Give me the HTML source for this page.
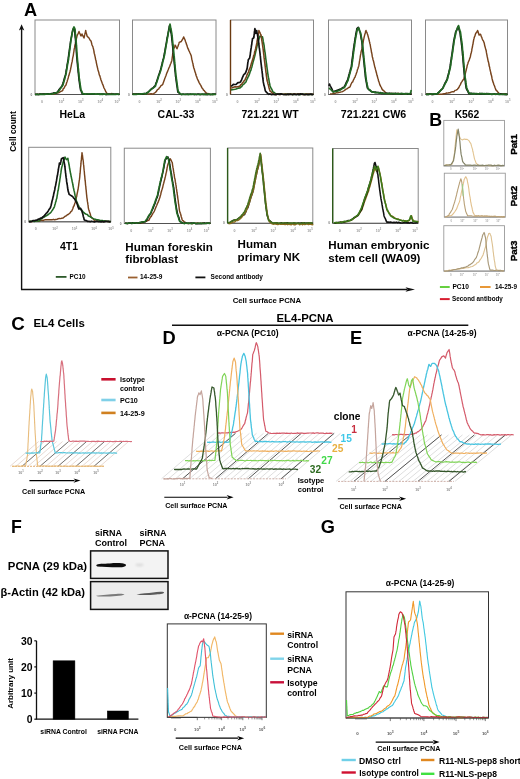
<!DOCTYPE html>
<html><head><meta charset="utf-8"><title>Figure</title>
<style>html,body{margin:0;padding:0;background:#fff;} svg{display:block;}</style></head>
<body><svg width="520" height="779" viewBox="0 0 520 779" font-family='"Liberation Sans", Arial, Helvetica, sans-serif' font-weight="bold">
<rect width="520" height="779" fill="#fff"/>
<text x="23.9" y="15.6" font-size="18.2">A</text>
<line x1="21.6" y1="28" x2="21.6" y2="289.5" stroke="#111" stroke-width="1.4"/>
<path d="M21.6 24.2 L18.9 30.5 L21.6 29 L24.3 30.5 Z" fill="#111"/>
<line x1="21" y1="289.5" x2="407" y2="289.5" stroke="#111" stroke-width="1.4"/>
<path d="M415 289.5 L405.5 287.2 L407.5 289.5 L405.5 291.8 Z" fill="#111"/>
<text x="15.6" y="131.5" font-size="8.4" text-anchor="middle" transform="rotate(-90 15.6 131.5)">Cell count</text>
<text x="266.9" y="303" font-size="7.8" text-anchor="middle">Cell surface PCNA</text>
<rect x="35" y="20" width="84.5" height="74.5" stroke="#8a8a8a" stroke-width="1" fill="none"/>
<line x1="35" y1="94.5" x2="119.5" y2="94.5" stroke="#444" stroke-width="0.8"/>
<text x="30.5" y="95.5" font-size="3.2" fill="#777">0</text>
<text x="42" y="102.7" font-size="3.6" fill="#999" text-anchor="middle">0</text>
<text x="61.4" y="102.7" font-size="3.6" fill="#999" text-anchor="middle">10<tspan font-size="2.7" dy="-1.4">2</tspan></text>
<text x="80.7" y="102.7" font-size="3.6" fill="#999" text-anchor="middle">10<tspan font-size="2.7" dy="-1.4">3</tspan></text>
<text x="100.3" y="102.7" font-size="3.6" fill="#999" text-anchor="middle">10<tspan font-size="2.7" dy="-1.4">4</tspan></text>
<text x="117.3" y="102.7" font-size="3.6" fill="#999" text-anchor="middle">10<tspan font-size="2.7" dy="-1.4">5</tspan></text>
<path d="M35 94.5 L36.2 94.3 L37.5 94.2 L38.8 94.5 L40 94 L41.2 94.4 L42.5 94.2 L43.8 93.9 L45 94.3 L46.2 93.8 L47.5 94.1 L48.8 93.8 L50 93.8 L51.2 94 L52.5 94.3 L53.8 93.7 L55 94 L56.2 93.3 L57.3 93.1 L58.5 92.9 L59.7 92.1 L60.8 91.4 L62 91 L62.7 90.4 L63.3 88.6 L64 88.3 L64.7 86.8 L65.3 85.7 L66 85 L66.4 83.5 L66.7 82.5 L67.1 81.7 L67.5 80 L67.8 79.2 L68.2 78 L68.5 76.6 L68.9 75.6 L69.3 74 L69.6 72.8 L70 72 L70.2 70.6 L70.5 69.7 L70.7 68.3 L71 67.1 L71.2 66.1 L71.4 64.8 L71.7 63.4 L71.9 62.6 L72.2 61.4 L72.4 60 L72.6 58.5 L72.8 57.6 L73.1 56.3 L73.3 55.3 L73.5 53.9 L73.7 52.3 L73.9 51.6 L74.1 49.7 L74.3 48.7 L74.6 47.7 L74.8 46 L75 45 L75.3 43.7 L75.6 42.1 L75.9 41.3 L76.1 40.1 L76.4 38.6 L76.7 37.6 L77 36 L77.5 34.7 L78 33.9 L78.5 32.7 L79 31.5 L79.5 32.7 L80 33.7 L80.5 35.1 L81 36 L82 34 L82.7 35.7 L83.3 36.6 L84 38 L84.3 36.9 L84.6 35.1 L84.8 34.4 L85.1 33.1 L85.4 32.1 L85.7 30.5 L86 32.1 L86.3 33.1 L86.7 34.5 L87 36 L88 37.1 L89 38 L90 40 L91 41 L91.3 42 L91.7 43.6 L92 45 L93 47 L93.2 48 L93.5 49.2 L93.8 50.4 L94 52 L94.3 53.5 L94.6 54.4 L94.9 55.8 L95.2 57.2 L95.5 59 L95.8 60 L96.1 60.9 L96.3 62.5 L96.6 63.8 L96.9 65.3 L97.2 66.5 L97.5 67.8 L97.7 68.6 L98 70 L98.4 71.2 L98.8 72.4 L99.1 74.1 L99.5 75.4 L99.9 76 L100.2 77.2 L100.6 78.5 L101 80 L101.4 80.9 L101.9 82.3 L102.3 83.5 L102.7 84.4 L103.1 85.3 L103.6 86.8 L104 88 L104.6 89 L105.2 90.3 L105.8 91.7 L106.4 92.6 L107 93.5 L108.2 93.6 L109.5 93.8 L110.8 93.9 L112 93.5 L113.2 94.2 L114.5 94.2 L115.8 94.4 L117 94.4 L118.2 94.1 L119.5 94.3" stroke="#77431c" stroke-width="1.44" fill="none" stroke-linejoin="round"/>
<path d="M35 94.5 L36.2 94.4 L37.5 94.2 L38.8 94.5 L40 94.1 L41.2 94 L42.5 94.1 L43.8 94 L45 94.1 L46.2 93.9 L47.5 93.8 L48.8 93.8 L50 94 L51.4 93.5 L52.8 93.3 L54.2 92.8 L55.6 93 L57 92.5 L57.8 91.5 L58.7 90.1 L59.5 89.1 L60.3 88.1 L61.2 87 L62 86 L62.4 84.6 L62.8 83.8 L63.2 82.6 L63.6 81.1 L63.9 79.9 L64.3 78.4 L64.7 77.2 L65.1 76.1 L65.5 75 L65.7 73.6 L65.9 72.7 L66.1 71 L66.3 69.7 L66.5 69 L66.8 67.5 L67 66 L67.2 65 L67.4 63.5 L67.6 62.5 L67.8 61.5 L68 60 L68.2 59 L68.3 57.7 L68.5 56.3 L68.7 55.1 L68.8 53.8 L69 53 L69.2 51.6 L69.3 50.6 L69.5 49.1 L69.7 47.8 L69.8 47 L70 45.9 L70.2 44.6 L70.3 43.4 L70.5 42 L70.7 41 L70.9 39.7 L71.2 38.2 L71.4 37.1 L71.6 35.8 L71.8 34.4 L72.1 33.2 L72.3 32.1 L72.5 31 L73 29.6 L73.5 28.5 L74.5 30 L74.6 31.4 L74.8 32.8 L74.9 33.7 L75 35.3 L75.1 36.5 L75.2 37.8 L75.4 38.7 L75.5 40 L75.6 41.1 L75.7 42.3 L75.8 43.6 L75.9 44.8 L76 46.3 L76.1 47.7 L76.2 49 L76.2 50 L76.3 51.3 L76.4 52.7 L76.5 53.5 L76.6 55.1 L76.7 56.5 L76.8 57.7 L76.9 58.9 L77 60 L77.1 61.2 L77.2 62.3 L77.4 63.9 L77.5 64.9 L77.6 66.4 L77.8 67.8 L77.9 68.7 L78 69.9 L78.1 71.5 L78.2 72.6 L78.4 73.6 L78.5 74.8 L78.6 76 L78.8 77.7 L78.9 78.9 L79 80 L79.2 81 L79.4 82.7 L79.6 84 L79.8 85.1 L79.9 86.2 L80.1 87.5 L80.3 88.5 L80.5 90 L81.2 91 L81.8 92.9 L82.5 94 L83.7 94.1 L85 94 L86.2 94.3 L87.4 94 L88.7 94.3 L89.9 94.3 L91.1 93.9 L92.4 93.9 L93.6 94 L94.8 93.9 L96.1 94.2 L97.3 94 L98.5 94.1 L99.8 93.9 L101 94.4 L102.2 94.1 L103.5 94.1 L104.7 94.2 L105.9 94.4 L107.2 94.2 L108.4 94.5 L109.6 94.2 L110.9 94.2 L112.1 94.3 L113.3 94 L114.6 94.2 L115.8 94.1 L117 94 L118.3 94.5 L119.5 94.3" stroke="#111" stroke-width="1.56" fill="none" stroke-linejoin="round"/>
<path d="M35 94.5 L36.2 94.3 L37.4 94.4 L38.6 94.5 L39.9 94.4 L41.1 94.2 L42.3 94.3 L43.5 94.3 L44.7 94.4 L45.9 93.9 L47.1 94.2 L48.4 94 L49.6 93.9 L50.8 94.2 L52 94 L53.2 93.6 L54.4 93.2 L55.6 93 L56.8 92.6 L58 92 L58.7 91 L59.4 90.1 L60.1 89 L60.9 88 L61.6 87.1 L62.3 86 L63 85 L63.3 83.8 L63.7 82.5 L64 81.6 L64.3 80.2 L64.7 79.1 L65 77.9 L65.3 76.3 L65.7 75.3 L66 74 L66.2 73 L66.4 71.7 L66.7 70 L66.9 68.7 L67.1 67.6 L67.3 66.1 L67.5 64.9 L67.7 63.6 L68 62.6 L68.2 61.4 L68.4 60 L68.6 59 L68.7 57.3 L68.9 56.4 L69.1 55.1 L69.2 53.5 L69.4 52.7 L69.5 51.5 L69.7 49.8 L69.9 49 L70 47.4 L70.2 46.2 L70.3 45.3 L70.5 43.9 L70.7 42.3 L70.8 41.2 L71 40 L71.2 38.8 L71.4 37.5 L71.7 36.2 L71.9 35 L72.1 34 L72.3 32.4 L72.6 31.5 L72.8 30.2 L73 29 L74 26.9 L75 29 L75.1 29.9 L75.2 31.3 L75.3 32.7 L75.4 33.9 L75.6 34.8 L75.7 36.6 L75.8 37.7 L75.9 39.1 L76 40 L76.1 41 L76.2 42.4 L76.3 43.5 L76.4 45.2 L76.5 46.1 L76.6 47.3 L76.7 48.7 L76.8 50.2 L76.8 51.4 L76.9 52.4 L77 53.5 L77.1 55.3 L77.2 56.3 L77.3 57.6 L77.4 58.5 L77.5 60 L77.6 61 L77.8 62.6 L77.9 63.7 L78 64.7 L78.1 66.5 L78.2 67.6 L78.4 68.9 L78.5 69.8 L78.6 71.5 L78.8 72.2 L78.9 74 L79 75 L79.1 76.2 L79.2 77.5 L79.4 79 L79.5 80 L79.7 81.1 L79.9 82.3 L80.1 83.8 L80.2 84.8 L80.4 86 L80.6 87.3 L80.8 88.5 L81 90 L81.7 91.2 L82.3 92.6 L83 94 L84.2 93.9 L85.4 94.2 L86.7 93.9 L87.9 94 L89.1 93.9 L90.3 94 L91.5 93.8 L92.7 93.9 L94 93.8 L95.2 94.2 L96.4 94.1 L97.6 93.9 L98.8 94.1 L100 94.4 L101.2 93.9 L102.5 94.4 L103.7 94.1 L104.9 94.2 L106.1 94.4 L107.3 94.1 L108.5 94.2 L109.8 94.3 L111 94.5 L112.2 94.1 L113.4 94.4 L114.6 94.4 L115.8 94.4 L117.1 94.2 L118.3 94.2 L119.5 94.3" stroke="#226a24" stroke-width="1.68" fill="none" stroke-linejoin="round"/>
<text x="72.3" y="117.5" font-size="10.5" text-anchor="middle">HeLa</text>
<rect x="132.5" y="20" width="83.5" height="74.5" stroke="#8a8a8a" stroke-width="1" fill="none"/>
<line x1="132.5" y1="94.5" x2="216" y2="94.5" stroke="#444" stroke-width="0.8"/>
<text x="128" y="95.5" font-size="3.2" fill="#777">0</text>
<text x="139.5" y="102.7" font-size="3.6" fill="#999" text-anchor="middle">0</text>
<text x="158.9" y="102.7" font-size="3.6" fill="#999" text-anchor="middle">10<tspan font-size="2.7" dy="-1.4">2</tspan></text>
<text x="178.2" y="102.7" font-size="3.6" fill="#999" text-anchor="middle">10<tspan font-size="2.7" dy="-1.4">3</tspan></text>
<text x="197.8" y="102.7" font-size="3.6" fill="#999" text-anchor="middle">10<tspan font-size="2.7" dy="-1.4">4</tspan></text>
<text x="214.8" y="102.7" font-size="3.6" fill="#999" text-anchor="middle">10<tspan font-size="2.7" dy="-1.4">5</tspan></text>
<path d="M132.5 94.3 L133.7 93.9 L135 94 L136.2 93.9 L137.5 94.4 L138.7 94 L139.9 93.9 L141.2 93.8 L142.4 94.4 L143.7 94.4 L144.9 94.3 L146.2 93.9 L147.4 93.9 L148.6 93.9 L149.9 94 L151.1 93.8 L152.4 94 L153.6 94 L154.4 92.9 L155.3 92.6 L156.1 91.8 L156.9 90.5 L157.7 89.4 L158.6 89.1 L159.4 87.7 L160.2 86.9 L161 85.7 L161.9 85.2 L162.7 84.4 L163.1 83.3 L163.5 82.2 L164 80.8 L164.4 79.9 L164.8 78.4 L165.2 77.5 L165.7 76.2 L166.1 75.3 L166.5 73.9 L166.9 72.8 L167.4 71.9 L167.8 70.7 L168.2 69.8 L168.6 68.7 L169.1 67.5 L169.6 66.6 L170 65.4 L170.4 64.3 L170.9 63.3 L171.4 61.7 L171.8 60.7 L172 59.3 L172.1 58.6 L172.3 56.8 L172.5 56 L172.6 54.7 L172.8 53 L173 52.4 L173.1 51.2 L173.3 49.7 L173.8 48.7 L174.2 47.6 L174.7 46.5 L175.1 45.1 L175.7 46 L176.4 47.6 L177 48.8 L177.4 47.5 L177.9 46.5 L178.3 45.2 L178.8 43.9 L179.2 42.4 L181.3 41.5 L181.9 40.4 L182.5 39.5 L183.1 38.2 L183.7 36.9 L184.1 38.2 L184.6 39 L185.1 40 L185.5 41.5 L186 42.6 L186.4 44.1 L186.9 45.3 L187.4 47 L187.9 48.4 L188.4 49.4 L188.9 50.6 L189.5 51.8 L190 53 L190.5 54 L191 55.2 L191.3 56.1 L191.6 58 L191.8 59.2 L192.1 60.3 L192.4 61.6 L192.7 63 L193 63.8 L193.2 65.6 L193.5 66.5 L193.8 68 L194.2 68.9 L194.6 70.3 L195 71.9 L195.4 72.7 L195.8 74.3 L196.2 75.7 L196.6 76.6 L197 77.7 L197.4 79 L198 80.1 L198.6 81.4 L199.1 82.6 L199.7 83.6 L200.3 84.7 L200.8 85.4 L201.4 86.6 L202 88 L202.8 88.7 L203.5 90.1 L204.3 90.6 L205.1 91.8 L205.8 92.3 L206.6 93.6 L207.8 93.5 L209 93.9 L210.2 94.3 L211.6 94.4 L213.1 94.5 L214.6 94.4 L216 94.3" stroke="#77431c" stroke-width="1.44" fill="none" stroke-linejoin="round"/>
<path d="M132.5 94.3 L133.7 94.1 L135 94.2 L136.2 94.1 L137.4 94 L138.6 93.8 L139.9 94.2 L141.1 93.7 L142.3 94.1 L143.5 94 L144.8 93.4 L146 93.6 L147 92.7 L148 92.1 L149 91.3 L150 90.2 L151 89.2 L152 88.4 L153 88 L154 86.7 L155 86 L155.4 84.9 L155.8 83.5 L156.2 82.6 L156.6 81.7 L157 80.1 L157.4 79.3 L157.8 78 L158.1 77.1 L158.5 75.8 L158.9 74.4 L159.3 73.7 L159.7 72.3 L160.1 70.9 L160.5 70 L160.8 68.5 L161.1 67.7 L161.4 66.5 L161.7 65.2 L162 64 L162.2 62.9 L162.5 61.7 L162.8 60.9 L163.1 59.2 L163.4 58.5 L163.7 57.4 L164 56 L164.2 54.5 L164.4 53.8 L164.6 52.4 L164.9 51.3 L165.1 49.7 L165.3 48.5 L165.5 47.3 L165.7 46.5 L165.9 45 L166.2 43.6 L166.4 42.4 L166.6 41.1 L166.8 40 L167 38.5 L167.2 37.3 L167.5 36.6 L167.7 35 L167.9 34.2 L168.2 32.6 L168.4 31.4 L168.6 30.3 L168.8 28.9 L169.1 27.8 L169.3 27 L169.5 25.5 L169.8 26.9 L170 28.1 L170.3 29.2 L170.5 30.6 L170.8 31.8 L171 32.8 L171.3 34 L171.4 35.3 L171.6 36.1 L171.7 37.7 L171.8 38.8 L171.9 40.2 L172.1 41.3 L172.2 42.3 L172.3 43.3 L172.4 45.1 L172.6 45.8 L172.7 47.2 L172.8 48.3 L172.9 49.5 L173.1 50.9 L173.2 52 L173.3 53.5 L173.4 54.3 L173.5 55.7 L173.7 56.7 L173.8 58 L173.9 59.1 L174 60.2 L174.1 61.4 L174.2 62.6 L174.3 64.2 L174.5 65.2 L174.6 66.2 L174.7 67.8 L174.8 69.1 L174.9 70 L175 71 L175.2 72.2 L175.3 73.4 L175.4 74.7 L175.5 76 L175.7 77 L175.9 78.3 L176 79.5 L176.2 81 L176.4 82.4 L176.6 83.5 L176.7 84.6 L176.9 85.8 L177.1 87.1 L177.3 88.2 L177.4 89.4 L177.6 90.5 L177.8 92 L179.2 93 L180.5 94.3 L181.7 94.6 L182.9 94.1 L184.2 94.3 L185.4 94.4 L186.6 94.5 L187.8 94.1 L189.1 94.2 L190.3 94.1 L191.5 94.2 L192.7 94.3 L194 94.6 L195.2 94.5 L196.4 94.5 L197.6 94 L198.9 94 L200.1 94.4 L201.3 94.5 L202.5 94.3 L203.8 94.4 L205 94 L206.2 94.2 L207.4 94.6 L208.7 94.5 L209.9 94.5 L211.1 94.6 L212.3 94.1 L213.6 94.1 L214.8 94.1 L216 94.3" stroke="#111" stroke-width="1.56" fill="none" stroke-linejoin="round"/>
<path d="M132.5 94.3 L133.8 94.2 L135 94.3 L136.3 94.4 L137.5 94.2 L138.8 94.1 L140 94.1 L141.3 93.8 L142.5 93.8 L143.8 93.5 L145 93.8 L146.3 93.6 L147.3 92.6 L148.3 92.2 L149.3 91.2 L150.3 90.2 L151.4 89.3 L152.4 88.5 L153.4 87.9 L154.4 87.1 L155.4 86.2 L155.8 84.8 L156.2 83.6 L156.6 82.7 L157 81.6 L157.4 80.3 L157.8 79 L158.2 78.1 L158.5 76.5 L158.9 75.5 L159.3 74.5 L159.7 73.6 L160.1 72.2 L160.5 71.2 L160.9 69.8 L161.2 68.6 L161.5 67.2 L161.8 66 L162.1 65.2 L162.4 63.8 L162.7 62.4 L163 61 L163.3 60.1 L163.6 59 L163.9 57.6 L164.2 56.3 L164.5 55.2 L164.7 54 L164.9 52.9 L165.1 51.2 L165.4 49.8 L165.6 48.8 L165.8 47.5 L166 46.4 L166.2 44.9 L166.4 44 L166.7 42.7 L166.9 41.2 L167.1 39.8 L167.3 38.7 L167.5 37.8 L167.8 36.2 L168 35.2 L168.2 33.7 L168.4 32.4 L168.7 31.6 L168.9 30.1 L169.1 29.2 L169.3 27.7 L169.6 26.3 L169.8 25.2 L170 24.1 L170.3 25.4 L170.5 26.8 L170.8 28.3 L171 29.1 L171.3 30.6 L171.5 31.8 L171.8 33.3 L171.9 34.8 L172.1 35.5 L172.2 36.7 L172.3 37.9 L172.4 39.3 L172.6 40.8 L172.7 42 L172.8 43.1 L172.9 44.5 L173.1 45.7 L173.2 46.5 L173.3 47.7 L173.4 49.3 L173.6 50.4 L173.7 51.5 L173.8 52.5 L173.9 54.1 L174 55.2 L174.2 56.4 L174.3 57.7 L174.4 58.8 L174.5 60 L174.6 61.4 L174.7 62.7 L174.9 64.3 L175 65.1 L175.1 66.8 L175.2 67.6 L175.3 69 L175.4 70.5 L175.6 71.7 L175.7 72.8 L175.8 73.8 L175.9 75.3 L176.1 76.5 L176.3 77.7 L176.4 79.3 L176.6 80.2 L176.8 81.5 L177 83.1 L177.1 83.8 L177.3 85.3 L177.5 86.8 L177.7 88.1 L177.8 88.9 L178 90.2 L178.2 91.7 L179.1 92.3 L180.1 93.7 L181 94.3 L182.2 94.2 L183.4 94.4 L184.6 94.5 L185.8 94.2 L187 94.2 L188.2 94.6 L189.4 94.4 L190.7 94.2 L191.9 94.4 L193.1 94.2 L194.3 94.2 L195.5 94 L196.7 94.5 L197.9 94.5 L199.1 94.4 L200.3 94.6 L201.5 94 L202.7 94.1 L203.9 94.3 L205.1 94.6 L206.3 94.6 L207.6 94.2 L208.8 94.2 L210 94.3 L211.2 94.3 L212.4 94.6 L213.6 94.1 L214.8 94.5 L216 94.3" stroke="#226a24" stroke-width="1.68" fill="none" stroke-linejoin="round"/>
<text x="176" y="117.5" font-size="10.5" text-anchor="middle">CAL-33</text>
<rect x="230.5" y="20" width="83.0" height="74.5" stroke="#8a8a8a" stroke-width="1" fill="none"/>
<line x1="230.5" y1="20" x2="230.5" y2="94.5" stroke="#6a3a10" stroke-width="1.4"/>
<line x1="230.5" y1="94.5" x2="313.5" y2="94.5" stroke="#444" stroke-width="0.8"/>
<text x="226" y="95.5" font-size="3.2" fill="#777">0</text>
<text x="237.5" y="102.7" font-size="3.6" fill="#999" text-anchor="middle">0</text>
<text x="256.9" y="102.7" font-size="3.6" fill="#999" text-anchor="middle">10<tspan font-size="2.7" dy="-1.4">2</tspan></text>
<text x="276.2" y="102.7" font-size="3.6" fill="#999" text-anchor="middle">10<tspan font-size="2.7" dy="-1.4">3</tspan></text>
<text x="295.8" y="102.7" font-size="3.6" fill="#999" text-anchor="middle">10<tspan font-size="2.7" dy="-1.4">4</tspan></text>
<text x="312.8" y="102.7" font-size="3.6" fill="#999" text-anchor="middle">10<tspan font-size="2.7" dy="-1.4">5</tspan></text>
<path d="M231 89.9 L232.3 89.8 L233.6 89.6 L234.9 89.3 L236.1 88.9 L237.4 88.4 L238.7 88.1 L240 88 L240.9 87 L241.7 86.5 L242.6 85.1 L243.4 84.3 L244.3 83.9 L245.1 82.7 L246 82 L246.5 80.5 L247 79.2 L247.5 78.4 L248 77.1 L248.5 76.4 L249 75.1 L249.5 74 L250 72.2 L250.5 70.9 L251 70 L251.3 68.4 L251.7 67.5 L252 66.4 L252.3 65 L252.7 63.5 L253 62.4 L253.3 61.3 L253.7 60.1 L254 58.9 L254.3 57.8 L254.7 56.4 L255 55 L255.3 53.5 L255.5 52.9 L255.8 51.3 L256.1 50.3 L256.4 49 L256.6 48.1 L256.9 46.5 L257.2 45.3 L257.5 44.2 L257.7 42.9 L258 42 L258.4 41.1 L258.8 39.7 L259.2 38.3 L259.6 37.1 L260 36 L261.2 36.8 L262.5 36.9 L262.8 38.3 L263 39.4 L263.2 41.2 L263.5 42.4 L263.8 44 L264 45 L264.2 45.9 L264.3 47.5 L264.5 49 L264.7 50.3 L264.8 51.6 L265 52.1 L265.2 53.6 L265.3 54.7 L265.5 56 L265.7 57.9 L265.8 58.8 L266 60 L266.2 61.6 L266.3 62.4 L266.5 64 L266.7 65 L266.8 66.1 L267 67.7 L267.2 69.1 L267.3 69.7 L267.5 71.3 L267.7 72.6 L267.8 73.5 L268 75 L268.2 76.1 L268.4 77.2 L268.7 78.4 L268.9 79.7 L269.1 81.2 L269.3 82.5 L269.6 83.3 L269.8 84.4 L270 86 L270.6 87.1 L271.2 88.5 L271.8 89.3 L272.4 90.6 L273 92 L274.3 92.5 L275.7 93.8 L277 94.3 L278.2 94.3 L279.4 94 L280.6 94 L281.9 94.2 L283.1 94.3 L284.3 94.4 L285.5 94 L286.7 94 L287.9 94.5 L289.2 94.2 L290.4 94.1 L291.6 94.1 L292.8 94.7 L294 94.1 L295.2 94.4 L296.5 94.2 L297.7 94.2 L298.9 94.6 L300.1 94.7 L301.3 94.2 L302.6 94.1 L303.8 94.5 L305 94.1 L306.2 93.9 L307.4 94.6 L308.6 94.2 L309.9 94.6 L311.1 94.2 L312.3 94.6 L313.5 94.3" stroke="#226a24" stroke-width="1.56" fill="none" stroke-linejoin="round"/>
<path d="M231 88.1 L232.3 87.8 L233.6 87.2 L234.9 86.8 L236.1 86.9 L237.4 86.7 L238.7 86.6 L240 86 L240.8 84.7 L241.7 84.1 L242.5 82.9 L243.3 82 L244.2 80.7 L245 80 L245.5 78.6 L246 77.6 L246.5 76.7 L247 74.9 L247.5 74 L248 73 L248.5 72 L249 70.2 L249.5 68.9 L250 68 L250.4 67.2 L250.7 66 L251.1 64.4 L251.5 62.9 L251.8 62.4 L252.2 60.8 L252.5 60.1 L252.9 58.6 L253.3 57.6 L253.6 55.9 L254 55 L254.3 54 L254.6 52.3 L254.9 51.2 L255.2 50.3 L255.6 49 L255.9 47.2 L256.2 46 L256.5 45 L256.7 43.6 L256.9 42.4 L257.1 41 L257.4 39.6 L257.6 38.4 L257.8 37.5 L258 36 L258.2 34.9 L258.4 32.9 L258.7 31.9 L258.9 30.5 L259.4 31.8 L259.9 32.4 L260.5 34.1 L261 35 L261.2 36 L261.4 37.7 L261.6 38.9 L261.8 40.3 L262 41.3 L262.2 42.7 L262.4 44.2 L262.6 45.3 L262.8 46.8 L263 48 L263.1 49.2 L263.3 50.4 L263.4 51.3 L263.6 53 L263.7 54.1 L263.9 55.1 L264 56.7 L264.1 57.9 L264.3 58.9 L264.4 59.9 L264.6 61.3 L264.7 62.3 L264.9 63.5 L265 65 L265.2 66.2 L265.3 67.2 L265.5 68.7 L265.7 70 L265.8 70.9 L266 72.6 L266.2 73.4 L266.3 75.2 L266.5 76.5 L266.7 77.5 L266.8 78.4 L267 80 L267.3 81.2 L267.7 82.3 L268 84 L268.3 84.6 L268.7 86.4 L269 87.7 L269.3 88.7 L269.7 90 L270 91 L271 91.6 L272 93 L273 93.5 L274 94.3 L275.2 94.7 L276.5 94.6 L277.7 94 L278.9 94.5 L280.2 94.6 L281.4 94 L282.6 94.2 L283.9 94.5 L285.1 94 L286.3 94.6 L287.6 94.1 L288.8 94.6 L290 94 L291.3 94.3 L292.5 94.6 L293.8 94.1 L295 94.1 L296.2 94.3 L297.5 94.2 L298.7 93.9 L299.9 94 L301.2 94 L302.4 94.6 L303.6 94.4 L304.9 94.6 L306.1 94 L307.3 94.5 L308.6 94 L309.8 94.3 L311 94.4 L312.3 94.2 L313.5 94.3" stroke="#77431c" stroke-width="1.56" fill="none" stroke-linejoin="round"/>
<path d="M231 86.2 L232.2 85.6 L233.3 84.4 L234.7 84.5 L236 84.5 L236.9 83.6 L237.9 82.6 L239.2 82.6 L240.6 82 L241.1 80.6 L241.5 80.2 L242 78.8 L242.5 77.4 L242.9 76.7 L243.4 75.3 L244.2 74.2 L244.9 73.8 L245.7 72.5 L246.1 71.4 L246.6 70 L247 68.9 L247.2 67.8 L247.4 66.3 L247.6 64.7 L247.7 63.9 L247.9 62 L248.1 61.4 L248.3 59.8 L249.7 57.9 L249.9 56.5 L250.1 55.5 L250.3 54.5 L250.4 53 L250.6 51.8 L250.8 50.3 L251 48.8 L251.2 47.9 L251.4 46.2 L251.6 45 L251.8 44 L251.9 42.6 L252.1 41.3 L252.3 40.3 L252.5 38.7 L253.8 37.8 L254 36.2 L254.1 35 L254.3 34 L254.4 32.2 L254.6 30.9 L254.7 29.9 L254.9 28.7 L255.2 29.9 L255.5 31.7 L255.8 33.3 L256.2 31.7 L256.7 30.5 L256.9 31.8 L257.1 33 L257.4 33.9 L257.6 35.5 L257.8 36.6 L258 37.8 L258.2 38.8 L258.3 40.6 L258.5 41.3 L258.7 42.5 L258.8 43.7 L259 45.4 L259.1 46.8 L259.3 48 L259.5 48.9 L259.6 50.1 L259.8 51.5 L259.9 52.4 L260.1 54.2 L260.2 55.4 L260.4 56.5 L260.5 58 L260.6 59.1 L260.8 60.7 L260.9 61.8 L261 62.7 L261.2 64.5 L261.3 65.1 L261.5 66.8 L261.6 68 L261.8 69.1 L261.9 70.2 L262.1 71.3 L262.2 73.1 L262.4 73.7 L262.5 75.3 L262.6 76.9 L262.8 77.4 L262.9 78.7 L263.1 80.3 L263.2 81.4 L263.4 82.6 L263.7 83.9 L263.9 85.2 L264.2 85.9 L264.5 87.1 L264.8 88.3 L265 89.3 L265.3 90.8 L266.2 92 L267.1 92.8 L268 93.6 L268.9 94.3 L270.1 93.9 L271.3 94.6 L272.5 94.5 L273.7 94.3 L274.9 94.5 L276.1 94.3 L277.3 94.1 L278.5 94 L279.7 94.1 L281 93.9 L282.2 94.2 L283.4 94.5 L284.6 94.5 L285.8 94.6 L287 94.5 L288.2 94.1 L289.4 94.3 L290.6 94.2 L291.8 94.5 L293 94.3 L294.2 94.1 L295.4 94.4 L296.6 94.7 L297.8 94.1 L299 94.6 L300.2 93.9 L301.4 94.1 L302.7 94.1 L303.9 94.5 L305.1 94.7 L306.3 94.5 L307.5 94.2 L308.7 94.6 L309.9 94.2 L311.1 94.1 L312.3 94.6 L313.5 94.3" stroke="#111" stroke-width="1.68" fill="none" stroke-linejoin="round"/>
<text x="270.1" y="117.5" font-size="10.5" text-anchor="middle">721.221 WT</text>
<rect x="328.5" y="20" width="83.0" height="74.5" stroke="#8a8a8a" stroke-width="1" fill="none"/>
<line x1="328.5" y1="94.5" x2="411.5" y2="94.5" stroke="#444" stroke-width="0.8"/>
<text x="324" y="95.5" font-size="3.2" fill="#777">0</text>
<text x="335.5" y="102.7" font-size="3.6" fill="#999" text-anchor="middle">0</text>
<text x="354.9" y="102.7" font-size="3.6" fill="#999" text-anchor="middle">10<tspan font-size="2.7" dy="-1.4">2</tspan></text>
<text x="374.2" y="102.7" font-size="3.6" fill="#999" text-anchor="middle">10<tspan font-size="2.7" dy="-1.4">3</tspan></text>
<text x="393.8" y="102.7" font-size="3.6" fill="#999" text-anchor="middle">10<tspan font-size="2.7" dy="-1.4">4</tspan></text>
<text x="410.8" y="102.7" font-size="3.6" fill="#999" text-anchor="middle">10<tspan font-size="2.7" dy="-1.4">5</tspan></text>
<path d="M330 94 L331.2 93.9 L332.5 93.7 L333.7 93.4 L334.9 93.5 L336.1 92.8 L337.4 92.9 L338.6 92.5 L339.8 92.4 L341.1 91.9 L342.3 91.7 L343.3 91.2 L344.4 90.5 L345.4 89.6 L346.5 88.9 L347.5 88.6 L348.6 87.5 L349.6 87.2 L350.2 86.4 L350.8 84.7 L351.4 83.5 L352 82.4 L352.7 81.9 L353.3 80.3 L353.9 79.1 L354.5 77.8 L355.1 77.1 L355.5 75.5 L355.9 74.8 L356.3 73.6 L356.7 72.4 L357.1 71.2 L357.5 69.5 L357.9 68.7 L358.3 67.3 L358.7 66.2 L358.9 65.2 L359.1 64 L359.3 62.8 L359.5 61 L359.7 60.4 L359.9 59.2 L360.1 58 L360.3 56.1 L360.5 55.2 L360.8 53.7 L361 52.3 L361.3 50.9 L361.6 50.3 L361.9 48.9 L362.1 47.5 L362.4 46.1 L362.7 45 L362.9 43.6 L363.2 42 L363.4 40.5 L363.7 39.2 L363.9 38.4 L364.2 36.9 L364.6 35.4 L364.9 34.2 L365.3 33 L365.6 31.4 L366 30.5 L366.4 31.5 L366.9 32.6 L367.4 34.1 L367.8 35.1 L368.1 36.2 L368.4 37.4 L368.8 39.1 L369.1 40 L369.4 41.5 L369.7 42.4 L369.9 43.7 L370.2 44.5 L370.4 46 L370.6 47.2 L370.9 48.7 L371.1 49.7 L371.3 50.8 L371.5 52.3 L371.8 53.4 L372 54.3 L372.2 56.1 L372.4 57 L372.7 57.9 L373 59.7 L373.3 60.4 L373.6 61.5 L373.9 62.8 L374.2 64.3 L374.5 65.7 L374.8 67.1 L375.1 67.6 L375.4 69.2 L375.8 70.4 L376.1 71.9 L376.4 72.6 L376.7 74.1 L377 75.3 L377.4 76.5 L377.8 78.2 L378.2 79 L378.5 80.9 L378.9 81.6 L379.3 82.9 L379.7 84.4 L380.3 85.7 L380.8 86.6 L381.4 87.4 L381.9 88.9 L382.5 89.9 L383.6 90.5 L384.8 91.9 L385.9 92.8 L387 93.5 L388.2 93.8 L389.4 93.7 L390.7 93.5 L391.9 93.5 L393.1 93.5 L394.4 94 L395.6 93.3 L396.8 94 L398 93.3 L399.2 93.5 L400.5 93.6 L401.7 94.1 L402.9 93.8 L404.1 93.8 L405.4 94.2 L406.6 93.7 L407.8 93.9 L409.1 94 L410.3 94.2 L411.5 94" stroke="#77431c" stroke-width="1.44" fill="none" stroke-linejoin="round"/>
<path d="M329 86 L329.5 84 L330 85.3 L330.5 86.3 L331 87.2 L331.6 88.3 L332.1 89.3 L332.6 90.8 L333.1 91.7 L334.5 91.3 L335.9 90.9 L337.2 90.2 L338.6 89.9 L339.7 89.3 L340.8 89 L341.9 88.3 L343 87.5 L344.1 87.2 L344.7 86 L345.3 85 L345.9 83.4 L346.5 82.1 L347.1 81 L347.7 79.9 L348 78.8 L348.4 77.6 L348.7 76 L349 74.7 L349.4 73.5 L349.7 72.3 L350.1 71.2 L350.4 69.7 L350.7 68.6 L351.1 67.3 L351.4 66.2 L351.5 65.3 L351.7 63.9 L351.8 62.3 L352 61.6 L352.1 59.8 L352.3 58.8 L352.4 57.9 L352.6 56.6 L352.8 55.3 L352.9 53.9 L353.1 52.5 L353.2 51.5 L353.4 50.3 L353.6 48.7 L353.8 47.5 L354 46.3 L354.1 44.8 L354.3 43.8 L354.5 42.7 L354.7 41.4 L354.9 40 L355.1 38.7 L355.3 37.5 L355.6 36.2 L355.8 34.7 L356 33.8 L356.2 32.4 L356.4 31.3 L356.7 30.2 L356.9 28.7 L358.3 27.4 L358.8 28.6 L359.2 29.9 L359.7 31.3 L360.2 32.4 L360.4 33.6 L360.6 34.7 L360.9 36.3 L361.1 37.6 L361.3 38.8 L361.6 40 L361.8 41.4 L362 42.4 L362.1 43.7 L362.2 44.9 L362.4 46 L362.5 47.2 L362.6 48.6 L362.7 49.5 L362.8 50.9 L363 52.3 L363.1 53.5 L363.2 54.7 L363.3 55.7 L363.4 57 L363.6 58.2 L363.7 59.6 L363.8 60.7 L363.9 61.9 L364.1 63.2 L364.2 64.6 L364.3 65.4 L364.4 66.9 L364.6 68.1 L364.7 69.1 L364.8 70.4 L364.9 71.9 L365.1 72.6 L365.2 74.1 L365.3 75.1 L365.4 76.6 L365.6 78 L365.7 78.9 L366 80.2 L366.2 81.3 L366.5 82.9 L366.7 84.2 L367 85.6 L367.2 86.8 L367.5 88.1 L368.5 89.1 L369.5 90.1 L370.5 90.8 L371.5 91.7 L372.8 91.8 L374.1 92.3 L375.3 92.1 L376.6 92.5 L377.9 92.5 L379.2 92.9 L380.5 92.7 L381.7 93.4 L383 93.2 L384.3 93.5 L385.5 93.3 L386.8 93.4 L388 93.5 L389.2 93.3 L390.5 93.6 L391.7 93.6 L393 93.8 L394.2 93.6 L395.4 93.6 L396.7 93.6 L397.9 93.9 L399.1 94 L400.4 93.8 L401.6 93.6 L402.8 94 L404.1 93.8 L405.3 93.7 L406.6 93.7 L407.8 94.1 L409 94.1 L410.3 94.1 L411.5 94" stroke="#111" stroke-width="1.68" fill="none" stroke-linejoin="round"/>
<path d="M329 88 L329.9 88.8 L330.8 89.6 L331.7 90.2 L332.6 91.5 L333.5 92 L334.9 91.5 L336.2 91.3 L337.6 91.1 L339 90.5 L340.1 90.1 L341.2 89.3 L342.3 88.6 L343.4 88.1 L344.5 87.5 L345.1 86.1 L345.7 85.4 L346.2 83.9 L346.8 83 L347.4 81.5 L348 80.5 L348.3 79.3 L348.6 78 L348.9 77 L349.3 75.6 L349.6 74.4 L349.9 73.6 L350.2 72.2 L350.5 71 L350.9 69.9 L351.2 68.8 L351.5 67.6 L351.8 66.5 L351.9 65.4 L352.1 64.2 L352.2 62.8 L352.4 61.9 L352.6 60.7 L352.7 59 L352.9 58.2 L353 57.1 L353.2 55.8 L353.3 54.2 L353.5 53.4 L353.6 52 L353.8 50.8 L354 49.1 L354.2 47.8 L354.4 47.1 L354.6 45.6 L354.7 44.1 L354.9 42.7 L355.1 41.4 L355.3 40.1 L355.5 39 L355.7 37.9 L355.9 36.4 L356.2 35 L356.4 34.2 L356.6 32.9 L356.9 31.3 L357.1 30.5 L357.3 29 L358.7 28 L359.2 29.3 L359.6 30.7 L360.1 31.9 L360.6 33 L360.8 34.5 L361.1 35.7 L361.3 37 L361.5 37.8 L361.7 39.4 L361.9 40.5 L362.2 41.9 L362.4 43 L362.5 44.2 L362.6 45.6 L362.8 46.6 L362.9 47.7 L363 48.8 L363.1 50 L363.2 51.4 L363.4 52.3 L363.5 53.8 L363.6 54.8 L363.7 56.2 L363.8 57.4 L364 58.6 L364.1 60 L364.2 61 L364.3 61.9 L364.5 63.6 L364.6 64.6 L364.7 65.8 L364.8 67.1 L365 68.4 L365.1 69.3 L365.2 70.6 L365.3 72.1 L365.5 72.7 L365.6 74.3 L365.7 75.5 L365.8 76.3 L366 77.9 L366.1 79 L366.4 80.4 L366.6 81.9 L366.9 82.9 L367.1 84.6 L367.4 85.6 L367.6 87 L367.9 88.3 L368.9 89.5 L369.9 89.9 L371 91.2 L372 92 L373.2 92.2 L374.5 92.2 L375.7 92.7 L376.9 92.5 L378.1 92.7 L379.4 92.9 L380.6 93.2 L381.8 93 L383.1 93.3 L384.3 93.5 L385.5 93.5 L386.7 93.6 L388 93.7 L389.2 93.4 L390.4 93.8 L391.6 93.5 L392.9 93.6 L394.1 93.5 L395.3 93.6 L396.5 93.9 L397.8 93.7 L399 93.8 L400.2 93.6 L401.4 93.6 L402.7 93.6 L403.9 93.8 L405.1 93.8 L406.3 93.9 L407.6 93.5 L408.8 93.9 L410 93.8 L410.4 92.8 L410.9 91.3 L411.3 90" stroke="#226a24" stroke-width="1.68" fill="none" stroke-linejoin="round"/>
<text x="373.5" y="117.5" font-size="10.7" text-anchor="middle">721.221 CW6</text>
<rect x="425.5" y="20" width="82.0" height="74.5" stroke="#8a8a8a" stroke-width="1" fill="none"/>
<line x1="425.5" y1="94.5" x2="507.5" y2="94.5" stroke="#444" stroke-width="0.8"/>
<text x="421" y="95.5" font-size="3.2" fill="#777">0</text>
<text x="432.5" y="102.7" font-size="3.6" fill="#999" text-anchor="middle">0</text>
<text x="451.9" y="102.7" font-size="3.6" fill="#999" text-anchor="middle">10<tspan font-size="2.7" dy="-1.4">2</tspan></text>
<text x="471.2" y="102.7" font-size="3.6" fill="#999" text-anchor="middle">10<tspan font-size="2.7" dy="-1.4">3</tspan></text>
<text x="490.8" y="102.7" font-size="3.6" fill="#999" text-anchor="middle">10<tspan font-size="2.7" dy="-1.4">4</tspan></text>
<text x="507.8" y="102.7" font-size="3.6" fill="#999" text-anchor="middle">10<tspan font-size="2.7" dy="-1.4">5</tspan></text>
<path d="M426 94.3 L427.2 93.9 L428.4 94.1 L429.6 93.8 L430.8 94 L432 94.5 L433.2 94.3 L434.4 94.3 L435.7 94.4 L436.9 94.4 L438.1 94.2 L439.3 94.2 L440.5 94.1 L441.7 94.2 L442.9 94 L444.1 93.8 L445.3 93.6 L446.6 93 L447.8 93.1 L449 92.7 L450.2 92.7 L451.5 91.9 L452.7 91.7 L453.9 91.7 L455 90.4 L456.2 90.1 L457.4 89.3 L458.5 88.1 L459 87.1 L459.6 85.8 L460.1 85.1 L460.7 83.9 L461.2 82.6 L462.1 81.4 L463 79.9 L463.9 78.9 L464.2 77.5 L464.5 76.4 L464.9 75.1 L465.2 74 L465.5 72.9 L465.8 71.6 L466.1 70.6 L466.5 68.6 L466.8 67.8 L467.1 66 L467.4 64.8 L467.8 64 L468.1 62.5 L468.7 61.2 L469.2 60.1 L469.8 58.3 L470.3 57 L470.6 55.3 L470.8 54.3 L471.1 53.2 L471.4 52.2 L471.7 50.9 L471.9 49.2 L472.2 47.9 L472.5 46.5 L472.7 45 L473 44.1 L473.2 42.4 L473.5 41 L473.7 39.6 L474 38.7 L474.4 37 L474.9 36.1 L475.4 34.3 L475.8 33.3 L476.7 32.3 L477.6 30.5 L478 31.3 L478.4 33.1 L478.7 33.7 L479.1 35.1 L480.4 34.2 L480.8 34.9 L481.3 36.6 L481.8 37.4 L482.2 38.7 L482.8 40.1 L483.4 40.9 L484 42.4 L484.3 43.3 L484.6 45.1 L484.9 46.2 L485.3 47.6 L485.6 48.7 L485.9 49.7 L486.2 50.7 L486.4 52.4 L486.7 53.8 L486.9 54.9 L487.2 56.5 L487.4 57.3 L487.7 58.8 L488 60.4 L488.2 61.4 L488.5 62.1 L488.8 63.3 L489 65 L489.3 66.4 L489.6 67 L489.8 68.4 L490.1 69.8 L490.4 71.2 L490.7 72 L490.9 73.8 L491.2 74.7 L491.5 75.6 L491.8 77 L492 78.4 L492.3 79.5 L492.6 80.8 L493 82.1 L493.4 82.8 L493.8 84.5 L494.2 85.2 L494.7 86.6 L495.1 87.7 L495.5 88.7 L495.9 89.9 L496.8 90.7 L497.8 92 L498.7 93 L499.6 93.6 L500.9 93.9 L502.2 93.9 L503.6 93.8 L504.9 93.7 L506.2 94.6 L507.5 94.3" stroke="#77431c" stroke-width="1.44" fill="none" stroke-linejoin="round"/>
<path d="M426 94.3 L427.2 94.4 L428.4 94.4 L429.7 94.1 L430.9 94.2 L432.1 94.4 L433.3 94.3 L434.6 94.1 L435.8 93.9 L437 94 L437.9 93 L438.8 92.4 L439.8 91.2 L440.7 90.4 L441.6 89.5 L442.5 88.5 L443.1 87.6 L443.6 86.4 L444.2 85 L444.8 83.7 L445.3 82.7 L445.9 81.7 L446.4 80.7 L447 79.5 L447.3 78.5 L447.6 77.3 L447.9 75.6 L448.2 74.8 L448.6 73.6 L448.9 72.4 L449.2 71 L449.5 69.6 L449.8 68.5 L450 67.5 L450.2 66.3 L450.4 65 L450.5 63.9 L450.7 62.4 L450.9 61 L451.1 60.1 L451.3 59 L451.4 57.4 L451.6 56.6 L451.8 55.5 L452 54 L452.2 52.5 L452.4 51.5 L452.5 50.2 L452.7 48.8 L452.9 47.3 L453.1 46.1 L453.3 45.1 L453.4 43.8 L453.6 42.3 L453.8 41 L454.1 39.5 L454.3 38.6 L454.6 37.3 L454.9 35.7 L455.2 34.6 L455.4 33.5 L455.7 32 L456.3 31 L456.9 29.5 L457.5 28.2 L458.1 27 L458.6 28.3 L459 29.3 L459.4 30.6 L459.9 32 L460.1 33.1 L460.3 34.7 L460.4 35.8 L460.6 37.2 L460.8 38.4 L461 39.8 L461.2 40.9 L461.3 42.1 L461.5 44 L461.7 45 L461.8 46.2 L461.9 47.3 L462.1 48.9 L462.2 50.3 L462.3 51.2 L462.4 52.7 L462.5 53.8 L462.6 55.2 L462.8 56.2 L462.9 57.4 L463 59 L463.1 60.6 L463.2 61.8 L463.3 62.8 L463.4 64.1 L463.5 65.2 L463.6 66.8 L463.8 67.8 L463.9 69.4 L464 70.6 L464.1 71.9 L464.2 73.2 L464.3 74.1 L464.4 75.5 L464.6 76.5 L464.8 77.9 L465 79.1 L465.2 80.4 L465.4 81.6 L465.5 83.2 L465.7 84.7 L465.9 85.7 L466.1 87.3 L466.3 88.3 L467 89.9 L467.6 90.7 L468.3 92.3 L469 93.6 L470.2 93.6 L471.4 93.4 L472.6 93.9 L473.8 93.5 L475 93.7 L476.2 93.8 L477.4 94 L478.6 93.9 L479.8 93.7 L481 93.8 L482.2 93.6 L483.4 94.1 L484.6 94.2 L485.8 93.7 L487 93.7 L488.2 93.8 L489.5 93.9 L490.7 94.2 L491.9 94.3 L493.1 94.2 L494.3 93.8 L495.5 94.3 L496.7 94.2 L497.9 94.2 L499.1 94.4 L500.3 93.9 L501.5 94 L502.7 94.4 L503.9 94.5 L505.1 94.4 L506.3 94.2 L507.5 94.3" stroke="#111" stroke-width="1.68" fill="none" stroke-linejoin="round"/>
<path d="M426 94.3 L427.3 94.3 L428.5 94.4 L429.8 94 L431.1 94.1 L432.3 94 L433.6 93.9 L434.9 94.1 L436.1 93.8 L437.4 94 L438.3 92.9 L439.2 91.8 L440.1 91.2 L441.1 89.8 L442 89.2 L442.9 88.1 L443.5 86.8 L444 85.5 L444.6 84.9 L445.2 83.3 L445.8 82.6 L446.4 81.4 L446.9 80.3 L447.5 78.9 L447.8 77.5 L448.1 76.4 L448.4 75 L448.7 74.3 L449 73 L449.3 71.7 L449.6 70.4 L449.9 69.1 L450.2 68 L450.4 67 L450.6 65.6 L450.8 64.4 L450.9 62.9 L451.1 61.7 L451.3 60.4 L451.5 59.6 L451.7 58.3 L451.8 56.8 L452 56.1 L452.2 54.5 L452.4 53.4 L452.6 52.1 L452.8 50.6 L452.9 49.4 L453.1 48.5 L453.3 46.9 L453.5 45.5 L453.7 44.4 L453.8 43.1 L454 42.1 L454.2 40.6 L454.5 39.1 L454.7 38.3 L455 36.4 L455.3 35.6 L455.6 34.1 L455.8 32.5 L456.1 31.4 L456.6 30.2 L457.1 29 L457.5 27.8 L458 26.6 L458.5 25.6 L458.9 26.7 L459.2 28.2 L459.6 29.4 L459.9 30.5 L460.3 31.4 L460.5 32.4 L460.7 33.8 L460.8 35.5 L461 36.3 L461.2 37.9 L461.4 39 L461.6 40.6 L461.7 41.3 L461.9 43.1 L462.1 44.2 L462.2 45.3 L462.3 46.4 L462.4 47.6 L462.5 49.3 L462.6 50.3 L462.8 51.3 L462.9 52.7 L463 54.2 L463.1 55 L463.2 56.4 L463.3 57.4 L463.4 58.8 L463.5 59.9 L463.6 61.5 L463.7 62.7 L463.8 63.7 L463.9 64.9 L464 66.2 L464.2 67.7 L464.3 69 L464.4 70.1 L464.5 71.3 L464.6 72.8 L464.7 74.2 L464.8 75.3 L465 76.8 L465.2 77.9 L465.4 79 L465.6 80.2 L465.8 81.8 L465.9 82.9 L466.1 84.4 L466.3 85.3 L466.5 87 L466.7 88.1 L467.2 89.1 L467.8 90.5 L468.3 91.6 L468.9 92.5 L469.4 93.6 L470.6 93.3 L471.9 93.9 L473.1 93.7 L474.3 93.9 L475.5 93.6 L476.8 93.5 L478 94 L479.2 93.7 L480.5 93.6 L481.7 93.7 L482.9 93.9 L484.1 93.6 L485.4 93.9 L486.6 93.9 L487.8 93.9 L489.1 93.7 L490.3 94.1 L491.5 94.2 L492.8 94.2 L494 93.9 L495.2 94.2 L496.4 94 L497.7 94.3 L498.9 93.9 L500.1 94.4 L501.4 94.5 L502.6 94.2 L503.8 94.2 L505 94.3 L506.3 94.3 L507.5 94.3" stroke="#226a24" stroke-width="1.68" fill="none" stroke-linejoin="round"/>
<text x="467" y="117.6" font-size="10.3" text-anchor="middle">K562</text>
<rect x="28.7" y="147.3" width="82.1" height="74.5" stroke="#8a8a8a" stroke-width="1" fill="none"/>
<line x1="28.7" y1="221.8" x2="110.8" y2="221.8" stroke="#444" stroke-width="0.8"/>
<text x="24.2" y="222.8" font-size="3.2" fill="#777">0</text>
<text x="35.7" y="230" font-size="3.6" fill="#999" text-anchor="middle">0</text>
<text x="55.1" y="230" font-size="3.6" fill="#999" text-anchor="middle">10<tspan font-size="2.7" dy="-1.4">2</tspan></text>
<text x="74.4" y="230" font-size="3.6" fill="#999" text-anchor="middle">10<tspan font-size="2.7" dy="-1.4">3</tspan></text>
<text x="94" y="230" font-size="3.6" fill="#999" text-anchor="middle">10<tspan font-size="2.7" dy="-1.4">4</tspan></text>
<text x="111" y="230" font-size="3.6" fill="#999" text-anchor="middle">10<tspan font-size="2.7" dy="-1.4">5</tspan></text>
<path d="M29 221.6 L30.3 221.1 L31.6 221.8 L32.9 221.1 L34.3 221 L35.6 220.9 L36.9 220.9 L38.2 221 L39.5 221.1 L40.7 220.3 L42 220.2 L43.2 220.5 L44.5 219.9 L45.7 219.6 L47 219.8 L48.3 219.8 L49.5 219.8 L50.8 219.7 L52 219.8 L53.3 219.3 L54.5 219.8 L55.8 219.5 L57 219.4 L58.2 218.7 L59.3 218.5 L60.5 218.6 L61.7 218.3 L62.9 218.1 L64 217.2 L65 216.4 L66.1 215.9 L67.1 214.9 L68.2 214.5 L69.1 213.7 L70 213 L70.9 211.6 L71.8 211 L72.3 209.8 L72.8 208.7 L73.3 207 L73.8 206.2 L74.3 205.1 L74.8 203.4 L75.3 202.2 L75.6 200.9 L75.8 200 L76.1 198.5 L76.4 197.2 L76.7 196.4 L76.9 195 L77.2 193.4 L77.5 192.1 L77.7 190.9 L78 189.8 L78.2 188.5 L78.3 187.7 L78.5 186.3 L78.7 185.2 L78.8 183.9 L79 182.6 L79.2 180.8 L79.4 179.9 L79.5 179 L79.7 177.4 L79.8 176.5 L79.9 174.6 L80.1 173.5 L80.2 172.3 L80.3 170.8 L80.4 169.7 L80.5 168 L80.6 167 L80.8 165.8 L80.9 164.1 L81 163.2 L81.1 161.6 L81.2 160.9 L81.4 159.4 L81.5 158.2 L81.6 156.7 L81.8 155.5 L81.9 154.2 L82 152.6 L82.2 154.2 L82.4 154.8 L82.6 156.5 L82.7 157.5 L82.9 159.1 L83.1 160 L83.3 161.5 L83.4 162.8 L83.5 164.4 L83.7 165.4 L83.8 166.4 L83.9 167.8 L84 169 L84.2 170.7 L84.3 171.4 L84.4 172.7 L84.5 174.3 L84.6 175.1 L84.8 176.7 L84.9 178.3 L85 179.2 L85.1 180.5 L85.3 181.5 L85.4 182.9 L85.5 184.3 L85.6 185.2 L85.8 186.4 L85.9 187.7 L86 189.1 L86.2 190.4 L86.3 191.6 L86.4 192.8 L86.5 194 L86.7 195.6 L86.8 196.8 L87 198.3 L87.2 199.4 L87.3 200.6 L87.5 201.9 L87.7 202.8 L87.9 204.4 L88.1 205.4 L88.2 206.8 L88.4 208.1 L88.6 209.2 L89 210.3 L89.3 211.3 L89.7 212.4 L90.1 213.5 L90.5 214.9 L90.8 216 L91.2 217.2 L92.1 218.2 L93 218.7 L93.9 219.9 L94.8 221 L96 221.3 L97.2 220.9 L98.5 221.2 L99.7 221.2 L100.9 221.1 L102.1 221.7 L103.4 221.2 L104.6 221.6 L105.8 221.1 L107 221.1 L108.3 221.8 L109.5 221.5 L110.7 221.6" stroke="#77431c" stroke-width="1.44" fill="none" stroke-linejoin="round"/>
<path d="M29 221.6 L30.3 221.2 L31.6 221.3 L32.9 221.3 L34.3 221.4 L35.6 220.9 L36.9 220.9 L38.2 221 L39.2 220.7 L40.2 219.8 L41.2 218.7 L42.2 218.2 L43.2 217.5 L44.2 217.1 L45.2 216.3 L46.3 215.7 L47.3 215.2 L48.4 214.5 L49.4 213.5 L50.5 212.8 L51.2 211.9 L51.9 210.9 L52.7 209.8 L53.4 208.5 L54.1 207.5 L54.5 206.5 L54.8 205.1 L55.2 204 L55.6 202.1 L56 201.4 L56.3 199.5 L56.7 198.6 L56.9 197.6 L57.1 196.2 L57.3 194.9 L57.5 194.1 L57.7 192.5 L57.9 191.2 L58.2 190.3 L58.4 189.1 L58.6 187.7 L58.8 186.3 L59 185.1 L59.2 183.9 L59.4 182.7 L59.6 181.6 L59.8 180 L60 178.7 L60.2 177.6 L60.4 176.2 L60.5 174.8 L60.7 173.9 L60.9 172.7 L61.1 171.1 L61.3 169.7 L61.5 168.5 L61.8 167.1 L62.1 166 L62.4 164.7 L62.7 163.9 L63 162.7 L63.3 161.5 L63.7 160 L64.2 159.6 L64.6 158 L65 157 L65.8 158.6 L66.5 159.7 L67.9 158.3 L68.1 159.8 L68.3 161.2 L68.5 161.9 L68.8 163.3 L69 165 L69.2 165.6 L69.4 166.9 L69.6 168.5 L69.9 169.8 L70.1 171 L70.4 172.7 L70.6 173.8 L70.9 174.9 L71.1 176.5 L71.4 177.4 L71.6 178.6 L71.9 179.8 L72.1 181.1 L72.3 182 L72.6 183.2 L72.8 184.5 L73 185.5 L73.3 187.2 L73.5 188 L73.8 189.4 L74 190.5 L74.3 191.4 L74.6 192.9 L74.8 194.1 L75.1 195.5 L75.4 196.7 L75.7 198.2 L75.9 199.5 L76.2 200.4 L76.7 201.5 L77.2 202.6 L77.7 203.9 L78.2 205.3 L78.7 205.9 L79.2 207.2 L79.7 208.3 L80.6 209.5 L81.5 209.8 L82.4 210.9 L83.3 212.3 L84.2 212.8 L85.3 213.8 L86.3 214.2 L87.4 214.6 L88.4 215.9 L89.5 216.3 L90.7 217 L91.8 217.7 L93 218.4 L94.2 218.9 L95.3 219.2 L96.5 219.8 L97.7 219.7 L98.9 220 L100 220.4 L101.2 220.6 L102.4 220.6 L103.6 221 L105 220.9 L106.4 221.3 L107.9 221.4 L109.3 221.4 L110.7 221.6" stroke="#226a24" stroke-width="1.56" fill="none" stroke-linejoin="round"/>
<path d="M29 221.6 L30.4 221.8 L31.8 221.3 L33.2 220.6 L34.6 220.7 L35.8 220.2 L37 220.1 L38.2 219.2 L39.3 219.1 L40.5 218.1 L41.7 218.1 L42.6 217.1 L43.5 216.6 L44.4 215.5 L45.2 214.7 L46.1 213.4 L47 212.8 L47.7 211.7 L48.4 210.7 L49.1 209.4 L49.8 208.7 L50.5 207.5 L50.8 206.3 L51.1 205.5 L51.4 204 L51.7 202.7 L52 201.3 L52.3 200.1 L52.6 199.4 L52.9 197.7 L53.2 196.8 L53.5 195.3 L53.7 194.1 L54 193.1 L54.2 192.1 L54.5 190.7 L54.8 189.7 L55 187.8 L55.3 186.6 L55.5 185.9 L55.8 184.5 L56 183.1 L56.2 182.2 L56.5 180.7 L56.7 179.3 L56.9 178.1 L57.1 176.7 L57.3 176.1 L57.6 174.6 L57.8 173.2 L58 172.1 L58.2 170.8 L58.4 169.5 L58.6 167.9 L58.8 167.3 L59 165.8 L59.2 164.8 L59.4 163.2 L60.3 164.1 L60.6 162.7 L60.9 161.5 L61.2 159.9 L61.5 158.8 L63.3 157.6 L63.5 158.5 L63.8 160.4 L64 161.6 L64.2 162.4 L64.5 164.1 L64.7 165 L64.8 166.5 L65 167.3 L65.1 168.8 L65.3 170.3 L65.4 171.2 L65.5 172.8 L65.7 173.5 L65.8 174.8 L66 176.3 L66.1 177.4 L66.3 178.4 L66.5 179.7 L66.6 181.4 L66.8 182.3 L67 183.8 L67.2 184.6 L67.4 185.8 L67.5 187.2 L67.7 188.3 L67.9 189.8 L68.3 191.6 L68.7 192.6 L69.1 194.2 L70.4 195.1 L71.8 196 L72.7 196.6 L73.5 197.8 L74.4 198.6 L75.1 199.8 L75.8 201.2 L76.4 202.2 L77.1 203.9 L77.5 204.8 L77.9 206.7 L78.4 207.5 L78.8 208.9 L80.6 208.3 L81 209.2 L81.5 210.3 L82 211.5 L82.4 212.8 L82.7 213.8 L83 214.8 L83.3 216.4 L83.6 217.3 L83.9 218.4 L84.2 219.8 L85.4 220.5 L86.5 220.6 L87.7 221.5 L88.9 221.3 L90.1 221.8 L91.3 221.2 L92.5 221.5 L93.8 221.8 L95 221.8 L96.2 221.3 L97.4 221.4 L98.6 221.7 L99.8 221.5 L101 221.9 L102.2 221.3 L103.4 221.9 L104.6 221.6 L105.9 221.4 L107.1 221.5 L108.3 221.3 L109.5 221.8 L110.7 221.6" stroke="#111" stroke-width="1.68" fill="none" stroke-linejoin="round"/>
<text x="69" y="250.3" font-size="10.5" text-anchor="middle">4T1</text>
<rect x="124.3" y="148.2" width="86.10000000000001" height="75.30000000000001" stroke="#8a8a8a" stroke-width="1" fill="none"/>
<line x1="124.3" y1="223.5" x2="210.4" y2="223.5" stroke="#444" stroke-width="0.8"/>
<text x="119.8" y="224.5" font-size="3.2" fill="#777">0</text>
<text x="131.3" y="231.7" font-size="3.6" fill="#999" text-anchor="middle">0</text>
<text x="150.7" y="231.7" font-size="3.6" fill="#999" text-anchor="middle">10<tspan font-size="2.7" dy="-1.4">2</tspan></text>
<text x="170" y="231.7" font-size="3.6" fill="#999" text-anchor="middle">10<tspan font-size="2.7" dy="-1.4">3</tspan></text>
<text x="189.6" y="231.7" font-size="3.6" fill="#999" text-anchor="middle">10<tspan font-size="2.7" dy="-1.4">4</tspan></text>
<text x="206.6" y="231.7" font-size="3.6" fill="#999" text-anchor="middle">10<tspan font-size="2.7" dy="-1.4">5</tspan></text>
<path d="M125 223.3 L126.3 223.1 L127.5 223.6 L128.8 223.3 L130 223.1 L131.3 223 L132.6 223.2 L133.8 222.9 L135.1 223.4 L136.4 222.8 L137.6 223.1 L138.9 223.1 L140.1 222.8 L141.4 223 L142.6 222.8 L143.9 222 L145.1 221.8 L146.3 221.3 L147.6 220.6 L148.8 220.3 L149.4 219.2 L150 217.9 L150.7 216.9 L151.3 216.4 L151.9 215 L152.5 214.2 L153.2 212.8 L153.8 212.1 L154.4 211 L154.9 209.8 L155.3 208.8 L155.8 207.5 L156.3 206.2 L156.8 205.2 L157.2 204.1 L157.7 202.9 L158.2 202.2 L158.6 200.7 L159.1 199.8 L159.4 198.5 L159.8 197.8 L160.1 196.5 L160.4 195.4 L160.8 194.2 L161.1 192.4 L161.5 191.3 L161.8 190 L162.1 189.3 L162.5 188.1 L162.8 186.8 L163.1 185.4 L163.4 184.2 L163.7 183.2 L164 182 L164.4 180.4 L164.7 179.6 L165 178 L165.3 176.9 L165.6 175.6 L165.9 174.1 L166.1 172.8 L166.4 172.2 L166.6 170.8 L166.9 169.5 L167.1 167.8 L167.4 166.5 L167.6 165.4 L167.9 164.4 L168.4 163 L168.9 162 L169.3 160.9 L169.8 159.6 L170.3 158.8 L170.9 159.9 L171.6 161.4 L172.2 162.5 L172.4 163.5 L172.6 165.3 L172.8 166.3 L173 167.7 L173.2 168.5 L173.4 169.9 L173.6 171.4 L173.8 172.3 L174 173.7 L174.2 174.5 L174.4 176.5 L174.6 177.7 L174.8 178.5 L175.1 179.6 L175.3 181.4 L175.5 182.5 L175.7 183.3 L175.9 184.9 L176.1 185.9 L176.2 187 L176.4 188.7 L176.6 189.4 L176.8 191.2 L176.9 192.2 L177.1 192.9 L177.3 194.6 L177.5 195.5 L177.6 197 L177.8 198 L178 199.6 L178.2 200.4 L178.3 201.6 L178.5 203.6 L178.7 204.4 L178.9 206.1 L179.1 207.3 L179.2 208.6 L179.4 210 L179.6 211 L179.9 212.3 L180.3 213.3 L180.7 214.1 L181 215.8 L181.3 216.8 L181.7 218 L182.1 219.5 L182.4 220.3 L183.3 220.8 L184.3 222 L185.2 222.2 L186.2 223.3 L187.4 223.5 L188.6 223.5 L189.8 223.1 L191 223.3 L192.2 223.7 L193.5 223.4 L194.7 223.3 L195.9 223.1 L197.1 222.9 L198.3 223.2 L199.5 223.2 L200.7 223.1 L201.9 223.1 L203.1 223 L204.3 223.5 L205.6 223.4 L206.8 223.1 L208 223.1 L209.2 223.3 L210.4 223.3" stroke="#77431c" stroke-width="1.44" fill="none" stroke-linejoin="round"/>
<path d="M125 223.3 L126.3 223.2 L127.6 223.6 L128.9 223.1 L130.2 223 L131.5 223.5 L132.8 222.8 L134.1 223.1 L135.4 222.9 L136.7 223.3 L138 223 L139.2 222.8 L140.5 222.7 L141.8 222 L143 222.1 L144.2 221.8 L145.5 221.5 L146.2 220.4 L146.9 219.6 L147.6 218.6 L148.2 216.9 L148.9 216 L149.6 215 L150.3 213.8 L151 213 L151.5 211.5 L151.9 210.6 L152.4 209.4 L152.9 208.7 L153.4 207.3 L153.9 205.9 L154.3 205 L154.8 204 L155.2 202.8 L155.6 201.6 L156 200.3 L156.4 199.1 L156.8 197.9 L157.2 197.5 L157.6 196 L157.9 195 L158.1 193.3 L158.4 192.6 L158.6 191.7 L158.9 190.1 L159.1 188.6 L159.4 187.7 L159.6 186.5 L159.9 185.1 L160.1 184.2 L160.4 183 L160.7 181.4 L161 180.9 L161.2 179.5 L161.5 178.3 L161.8 177.3 L162.1 175.9 L162.4 174.4 L162.6 173.2 L162.9 171.9 L163.2 171 L163.4 169.4 L163.6 168.8 L163.9 167.6 L164.1 165.9 L164.3 164.6 L164.5 163.8 L164.8 162.7 L165 161.6 L165.2 160 L166.1 158.7 L167 158.2 L167.9 156.9 L168.4 158.5 L169 159.5 L169.2 160.9 L169.4 161.9 L169.6 163 L169.8 164.8 L170 165.6 L170.2 167 L170.4 168.2 L170.6 169.6 L170.8 170.8 L171.1 172.4 L171.3 173.2 L171.5 174.3 L171.7 176 L171.9 177.3 L172.1 178.5 L172.3 179.9 L172.5 181.1 L172.8 182.4 L173 183.7 L173.2 184.6 L173.4 185.8 L173.6 187 L173.8 188 L173.9 189.3 L174.1 190.8 L174.2 191.7 L174.4 193.4 L174.6 194.2 L174.7 195.7 L174.9 197.4 L175 197.9 L175.2 199.1 L175.3 200.7 L175.5 202 L175.7 203 L175.9 204.6 L176.1 205.3 L176.3 207.2 L176.5 208.4 L176.7 209.6 L176.9 210.5 L177.1 211.6 L177.3 213 L177.7 214.3 L178.1 215.4 L178.5 216.5 L178.8 217.6 L179.2 218.9 L179.6 220.2 L180 221.3 L181.3 222.2 L182.7 223 L184 223.3 L185.2 223 L186.4 223.1 L187.6 223.3 L188.8 223.4 L190 223.2 L191.2 223.1 L192.4 223 L193.6 223.2 L194.8 223.3 L196 223.7 L197.2 223.6 L198.4 223.6 L199.6 223.7 L200.8 223.7 L202 223.4 L203.2 223.5 L204.4 222.9 L205.6 223.4 L206.8 223.4 L208 223.1 L209.2 223.4 L210.4 223.3" stroke="#111" stroke-width="1.56" fill="none" stroke-linejoin="round"/>
<path d="M125 223.3 L126.3 223.6 L127.5 223.2 L128.8 223.3 L130.1 223 L131.3 223 L132.6 223.4 L133.9 222.7 L135.2 222.8 L136.4 223.2 L137.7 223 L138.9 222.7 L140.2 222.2 L141.4 222.4 L142.6 221.9 L143.9 221.8 L145.1 221.5 L145.8 220.4 L146.5 219.4 L147.2 218.3 L147.9 217.1 L148.6 215.8 L149.3 214.8 L150 214.3 L150.7 212.9 L151.2 211.8 L151.6 210.3 L152.1 209.7 L152.6 208.1 L153 206.8 L153.5 205.9 L153.9 204.6 L154.4 203.6 L154.9 202.3 L155.3 201.1 L155.8 199.6 L156.3 198.7 L156.7 197 L157.2 196.1 L157.5 194.9 L157.7 193.8 L158 192.2 L158.2 191.3 L158.5 189.8 L158.7 188.9 L159 188.1 L159.2 186.6 L159.5 185.6 L159.7 184.4 L160 183 L160.3 181.4 L160.6 180.9 L160.9 179.4 L161.2 177.7 L161.6 177 L161.9 175.4 L162.2 174 L162.5 173.4 L162.8 171.8 L163 170.6 L163.2 169.6 L163.4 167.8 L163.6 167.1 L163.9 165.3 L164.1 164.2 L164.3 163.1 L164.5 161.5 L164.7 160.7 L165.3 159.4 L166 157.7 L166.6 156.5 L167.5 157.5 L168.4 158.8 L168.6 160.2 L168.8 161.2 L169.1 162.8 L169.3 163.8 L169.5 165.3 L169.7 166.2 L169.9 167.6 L170.1 169.2 L170.3 170.5 L170.6 171.3 L170.8 173.1 L171 174.1 L171.2 175.6 L171.4 177.1 L171.6 178.2 L171.8 179.6 L172 180.3 L172.3 181.7 L172.5 183.3 L172.7 184.7 L172.9 185.7 L173.1 186.8 L173.3 187.7 L173.4 189.4 L173.6 190.2 L173.7 191.8 L173.9 193.3 L174.1 193.9 L174.2 195.8 L174.4 196.9 L174.5 197.8 L174.7 199 L174.8 200.4 L175 201.7 L175.2 203.2 L175.4 204.3 L175.6 205.1 L175.8 206.3 L176 207.6 L176.2 209.4 L176.4 210.2 L176.6 211.7 L176.8 212.9 L177.2 213.9 L177.6 215.4 L178 216.4 L178.4 217.4 L178.8 219.2 L179.2 220.1 L179.6 221.3 L180.9 222.1 L182.1 222.9 L183.4 223.3 L184.6 223.7 L185.9 222.9 L187.1 223.2 L188.3 223 L189.5 223.3 L190.8 223.6 L192 223.5 L193.2 222.9 L194.4 223 L195.7 223.6 L196.9 223.4 L198.1 223.2 L199.4 223.3 L200.6 223 L201.8 223.6 L203 223.2 L204.3 223.6 L205.5 223.4 L206.7 223 L207.9 223.2 L209.2 223.1 L210.4 223.3" stroke="#226a24" stroke-width="1.56" fill="none" stroke-linejoin="round"/>
<text x="125.3" y="251" font-size="11.6">Human foreskin</text>
<text x="125.3" y="262.9" font-size="11.6">fibroblast</text>
<rect x="227.6" y="148" width="85.20000000000002" height="75.30000000000001" stroke="#8a8a8a" stroke-width="1" fill="none"/>
<line x1="227.6" y1="148" x2="227.6" y2="223.3" stroke="#2d5a1a" stroke-width="1.4"/>
<line x1="227.6" y1="223.3" x2="312.8" y2="223.3" stroke="#444" stroke-width="0.8"/>
<text x="223.1" y="224.3" font-size="3.2" fill="#777">0</text>
<text x="234.6" y="231.5" font-size="3.6" fill="#999" text-anchor="middle">0</text>
<text x="254" y="231.5" font-size="3.6" fill="#999" text-anchor="middle">10<tspan font-size="2.7" dy="-1.4">2</tspan></text>
<text x="273.3" y="231.5" font-size="3.6" fill="#999" text-anchor="middle">10<tspan font-size="2.7" dy="-1.4">3</tspan></text>
<text x="292.9" y="231.5" font-size="3.6" fill="#999" text-anchor="middle">10<tspan font-size="2.7" dy="-1.4">4</tspan></text>
<text x="309.9" y="231.5" font-size="3.6" fill="#999" text-anchor="middle">10<tspan font-size="2.7" dy="-1.4">5</tspan></text>
<path d="M228.3 223 L229.4 222.8 L230.5 222 L231.6 221.3 L233 220.4 L234.4 220 L235.8 219.7 L237.2 219.4 L238.5 218.4 L239.7 217.6 L241 216.6 L242.2 215.8 L243.5 215.1 L244.7 214.5 L245.2 212.8 L245.8 212.2 L246.3 210.7 L246.8 209.2 L247.3 208.5 L247.9 207.8 L248.4 206.1 L248.8 204.5 L249.1 203.4 L249.5 202.7 L249.8 201.2 L250.2 200 L250.5 199.1 L250.9 197.6 L251.2 196.7 L251.7 195.4 L252.2 193.9 L252.6 193 L253.1 191.1 L253.4 190.3 L253.6 188 L253.9 187.2 L254.1 186.1 L254.4 184.8 L254.6 183.4 L254.9 181.8 L255.2 180.6 L255.4 179.3 L255.7 177.7 L256 176.3 L256.3 175.5 L256.5 174.2 L256.8 172.5 L257.1 171.7 L257.4 170.2 L257.8 168.6 L258.1 167.8 L258.4 166.5 L258.7 165 L259 163.7 L259.2 162.5 L259.5 160.9 L259.7 159.7 L260 158.3 L260.2 156.6 L260.5 155.7 L260.6 156.9 L260.8 158.2 L260.9 160.2 L261.1 161 L261.2 162.2 L261.4 163.4 L261.5 165 L261.6 166 L261.8 167.5 L261.9 168.6 L262.1 169.7 L262.2 171.9 L262.4 172.8 L262.6 174.1 L262.7 175.5 L262.9 176.6 L263 178.1 L263.1 179.1 L263.3 180.3 L263.4 181.8 L263.5 183.1 L263.6 184.8 L263.8 186 L263.9 187.6 L264 188.3 L264.2 190.2 L264.3 191.1 L264.4 192.5 L264.6 193.3 L264.7 194.7 L264.8 196.4 L265 198.1 L265.1 198.8 L265.2 200.5 L265.3 201.5 L265.5 203.3 L265.6 204.2 L265.8 205 L265.9 206.7 L266.1 208.3 L266.3 209 L266.4 210.2 L266.6 211.2 L266.8 212.6 L266.9 213.9 L267.1 215.4 L267.6 216.8 L268 217.6 L268.5 219 L268.9 220.3 L270.2 220.9 L271.4 222.2 L272.7 223 L273.9 223.4 L275.1 223.2 L276.4 222.7 L277.6 223.3 L278.8 223.5 L280 223.1 L281.3 222.6 L282.5 223.4 L283.7 223.4 L284.9 222.9 L286.2 222.7 L287.4 222.8 L288.6 223.1 L289.8 223.5 L291.1 223.2 L292.3 223.5 L293.5 222.8 L294.7 222.9 L296 223.4 L297.2 223.3 L298.4 223 L299.6 223.3 L300.9 223 L302.1 222.7 L303.3 223.1 L304.5 222.7 L305.8 223.3 L307 223 L308.2 223.2 L309.4 223.3 L310.7 222.9 L311.9 223.2 L313.1 223.2" stroke="#222" stroke-width="1.44" fill="none" stroke-linejoin="round"/>
<path d="M228.6 224.2 L229.7 223.1 L230.8 223.5 L231.9 222.5 L233.3 222.1 L234.7 222 L236.1 220.6 L237.5 220.6 L238.8 219.8 L240 219 L241.3 217.8 L242.2 216.5 L243.1 215.1 L244.1 214 L245 213.2 L245.5 211.6 L246.1 211.1 L246.6 209.2 L247.1 208.7 L247.6 207.1 L248.2 206 L248.7 204.8 L249 203.7 L249.4 202.5 L249.8 201.4 L250.1 200.2 L250.4 198.8 L250.8 198 L251.2 196.3 L251.5 195.4 L252 194.2 L252.4 192.9 L252.9 191.5 L253.4 189.8 L253.7 188.3 L253.9 187.4 L254.2 186.3 L254.4 184.4 L254.7 182.9 L254.9 181.9 L255.2 180.5 L255.5 179.6 L255.7 177.5 L256 176 L256.3 175.2 L256.6 174 L256.8 172.8 L257.1 171.2 L257.4 169.8 L257.7 169.2 L258.1 167.2 L258.4 166.5 L258.7 164.5 L259 163.7 L259.3 161.9 L259.5 160.7 L259.8 159.3 L260 158.4 L260.3 157.1 L260.5 155.4 L260.8 154.4 L260.9 156.2 L261.1 156.9 L261.2 158 L261.4 159.4 L261.5 161.3 L261.7 162.8 L261.8 163.7 L261.9 164.7 L262.1 165.8 L262.2 167.9 L262.4 168.7 L262.6 170.7 L262.7 171.6 L262.9 173 L263 174 L263.2 175.8 L263.3 176.8 L263.4 178.1 L263.6 179.2 L263.7 181.1 L263.8 181.6 L264 183.5 L264.1 184.2 L264.2 186 L264.3 187.1 L264.5 188.9 L264.6 189.8 L264.7 190.7 L264.9 192.5 L265 193.6 L265.1 195.5 L265.2 196.8 L265.4 197.8 L265.5 198.7 L265.6 200 L265.8 201.4 L265.9 202.9 L266.1 204.1 L266.2 205.1 L266.4 206.3 L266.6 208.1 L266.7 209.3 L266.9 210.2 L267.1 212.1 L267.2 212.6 L267.4 214.1 L267.7 215.4 L268 216.2 L268.3 218.2 L268.6 219.4 L268.9 220 L269.2 221.5 L270.5 222.7 L271.7 223.6 L273 224.2 L274.2 224 L275.4 224 L276.7 224.2 L277.9 224.6 L279.1 223.9 L280.3 224.4 L281.6 224.3 L282.8 224.2 L284 224.3 L285.2 224.6 L286.5 224 L287.7 224.7 L288.9 224.1 L290.1 224.6 L291.4 224.7 L292.6 224 L293.8 224.7 L295 224.8 L296.3 224.1 L297.5 223.8 L298.7 223.9 L299.9 224.8 L301.2 223.8 L302.4 224.8 L303.6 224 L304.8 224.6 L306.1 224 L307.3 224 L308.5 224.6 L309.7 224 L311 224.2 L312.2 224.8 L313.4 224.4" stroke="#8a6a1c" stroke-width="1.44" fill="none" stroke-linejoin="round"/>
<path d="M228 223 L229.1 222.6 L230.2 222.2 L231.3 221.3 L232.7 221.2 L234.1 220 L235.5 219.7 L236.9 219.4 L238.2 218.7 L239.4 217.7 L240.7 216.6 L241.6 215.1 L242.6 214.3 L243.5 212.9 L244.4 212 L244.9 210.7 L245.5 209.3 L246 208 L246.5 207.6 L247 205.9 L247.6 205.1 L248.1 203.6 L248.4 202.1 L248.8 201.2 L249.2 199.8 L249.5 198.8 L249.8 197.5 L250.2 196.7 L250.6 195.1 L250.9 194.2 L251.4 193 L251.9 191.4 L252.3 189.7 L252.8 188.6 L253.1 187.2 L253.3 185.9 L253.6 184.9 L253.8 183.2 L254.1 181.7 L254.3 181 L254.6 179.3 L254.9 178.3 L255.1 176.8 L255.4 175.1 L255.7 173.7 L256 172.5 L256.2 171 L256.5 170 L256.8 168.4 L257.1 167.5 L257.4 166.2 L257.8 165 L258.1 163.6 L258.4 162.5 L258.7 160.8 L258.9 160 L259.2 158.6 L259.4 157.2 L259.7 155.9 L259.9 154.7 L260.2 153.2 L260.3 154.9 L260.5 156.2 L260.6 157.4 L260.8 158.4 L260.9 159.7 L261.1 161.1 L261.2 162.5 L261.3 164.2 L261.5 165 L261.6 166.3 L261.8 167.7 L261.9 168.8 L262.1 170.8 L262.2 171.3 L262.4 173.1 L262.6 174.6 L262.7 175.6 L262.8 176.7 L263 178.3 L263.1 179.4 L263.2 180.6 L263.4 181.9 L263.5 183.1 L263.6 185 L263.7 186.2 L263.9 187.6 L264 188.6 L264.1 189.5 L264.3 191.4 L264.4 192.4 L264.5 194 L264.6 195.2 L264.8 196.3 L264.9 198.1 L265 198.7 L265.2 200.6 L265.3 201.7 L265.5 203.2 L265.6 204.2 L265.8 205.5 L266 207.1 L266.1 207.7 L266.3 209.3 L266.5 210.6 L266.6 211.6 L266.8 212.9 L267.1 214.3 L267.4 215.3 L267.7 216.6 L268 217.9 L268.3 219.2 L268.6 220.3 L269.9 221.1 L271.1 222.2 L272.4 223 L273.6 223 L274.8 222.8 L276.1 223.1 L277.3 222.8 L278.5 223.4 L279.7 223 L281 223.2 L282.2 223.1 L283.4 223 L284.6 222.8 L285.9 222.8 L287.1 223.4 L288.3 223.1 L289.5 223.1 L290.8 223.1 L292 223.3 L293.2 222.9 L294.4 222.8 L295.7 223.4 L296.9 223.1 L298.1 223.2 L299.3 223.4 L300.6 223.5 L301.8 223.4 L303 222.8 L304.2 223.1 L305.5 223.4 L306.7 223.4 L307.9 222.9 L309.1 222.9 L310.4 223 L311.6 222.9 L312.8 223.2" stroke="#44701e" stroke-width="1.56" fill="none" stroke-linejoin="round"/>
<text x="237.6" y="247.8" font-size="11.6">Human</text>
<text x="237.6" y="261.3" font-size="11.6">primary NK</text>
<rect x="332.7" y="148.5" width="85.5" height="74.80000000000001" stroke="#8a8a8a" stroke-width="1" fill="none"/>
<line x1="332.7" y1="148.5" x2="332.7" y2="223.3" stroke="#2d5a1a" stroke-width="1.4"/>
<line x1="332.7" y1="223.3" x2="418.2" y2="223.3" stroke="#444" stroke-width="0.8"/>
<text x="328.2" y="224.3" font-size="3.2" fill="#777">0</text>
<text x="339.7" y="231.5" font-size="3.6" fill="#999" text-anchor="middle">0</text>
<text x="359.1" y="231.5" font-size="3.6" fill="#999" text-anchor="middle">10<tspan font-size="2.7" dy="-1.4">2</tspan></text>
<text x="378.4" y="231.5" font-size="3.6" fill="#999" text-anchor="middle">10<tspan font-size="2.7" dy="-1.4">3</tspan></text>
<text x="398" y="231.5" font-size="3.6" fill="#999" text-anchor="middle">10<tspan font-size="2.7" dy="-1.4">4</tspan></text>
<text x="415" y="231.5" font-size="3.6" fill="#999" text-anchor="middle">10<tspan font-size="2.7" dy="-1.4">5</tspan></text>
<path d="M334.5 223 L335.8 222.7 L337.1 223 L338.4 222.6 L339.6 222.4 L340.9 222 L342.2 222.1 L343.5 222 L344.9 222.1 L346.3 221.6 L347.7 221.1 L349.1 220.8 L350.5 220.5 L351.8 219.9 L353.2 219 L354.5 218 L355.5 217 L356.5 216.6 L357.5 215.6 L358.5 215 L359.2 213.9 L359.9 212.6 L360.6 211.6 L361.3 210.5 L362 209.5 L362.4 208.1 L362.9 206.5 L363.3 205.4 L363.7 204.4 L364.1 202.7 L364.6 201.5 L365 200.5 L365.4 199.5 L365.9 198 L366.3 196.9 L366.7 195.7 L367.1 195.1 L367.6 193.3 L368 192.5 L368.4 191.4 L368.8 190.3 L369.1 188.5 L369.5 187.4 L369.9 186.5 L370.2 185.1 L370.6 183.6 L371 182.5 L371.3 180.8 L371.7 179.9 L372 178.5 L372.3 177.5 L372.6 175.9 L373 174.7 L373.3 173.5 L373.7 172.5 L374 171.4 L374.4 169.9 L374.7 168.8 L375.1 167.7 L375.6 169 L376.2 170.6 L376.7 171.5 L377.3 170 L377.9 169.3 L378.5 167.7 L378.8 169 L379.1 169.9 L379.3 171.4 L379.6 172.3 L379.9 173.2 L380.1 175 L380.4 175.8 L380.7 177.1 L380.9 178.4 L381.1 179.6 L381.3 181.2 L381.5 182.3 L381.8 182.9 L382 184.6 L382.2 185.8 L382.4 187 L382.6 188.3 L382.8 189.8 L383 190.7 L383.2 192 L383.4 193.6 L383.7 194.5 L383.9 195.8 L384.1 197 L384.3 198.5 L384.5 199.5 L384.8 200.9 L385.1 202.2 L385.4 203.2 L385.7 204.1 L386.1 205.9 L386.4 207 L386.7 208.4 L387 209.7 L387.3 210.7 L388 211.4 L388.8 212.5 L389.5 213.4 L390.3 215 L391 215.7 L392.2 216.1 L393.4 216.8 L394.5 218 L395.7 218.5 L397.1 219 L398.4 219 L399.8 220 L401.2 220.3 L402.6 220.7 L404 220.8 L405.4 220.7 L406.8 221.3 L408.2 221 L409.6 220.3 L410.1 219.1 L410.6 218.1 L411 217.2 L411.5 215.7 L412 217.4 L412.4 218.8 L412.9 219.6 L413.4 221.3 L414.7 221.3 L415.9 221.7 L417.2 221.4 L418.5 222" stroke="#8a6a1c" stroke-width="1.44" fill="none" stroke-linejoin="round"/>
<path d="M334 223 L335.3 223.3 L336.5 222.6 L337.8 222.5 L339.1 222.4 L340.4 222.2 L341.6 222.6 L342.9 222.2 L344.1 221.9 L345.4 221.6 L346.6 221.2 L347.9 220.6 L349.1 220.5 L350.4 220.3 L351.6 219.7 L352.9 218.7 L354.1 217.5 L355.3 217.2 L356.6 216.1 L357.8 215.7 L358.4 214.4 L359.1 213.2 L359.7 212.5 L360.3 211.3 L361 210.3 L361.6 209.2 L362 208 L362.3 206.9 L362.6 205.6 L363 204.7 L363.4 203.1 L363.7 202.5 L364 201 L364.4 199.8 L364.9 198.2 L365.3 197.2 L365.8 196.1 L366.3 194.8 L366.7 193.7 L367.2 192.4 L367.6 191.1 L367.9 189.9 L368.2 189.1 L368.6 187.5 L368.9 186.7 L369.3 185.6 L369.6 184.2 L370 183 L370.3 181.8 L370.6 181 L370.9 179.5 L371.2 178.7 L371.5 176.8 L371.8 176 L372.1 175 L372.4 173.7 L372.6 172.1 L372.9 171.4 L373.1 169.5 L373.4 168.7 L373.6 167.1 L373.8 166.4 L374.1 164.8 L374.3 163.5 L375 162.5 L375.4 164.1 L375.8 165.3 L376.1 166.8 L376.5 168.1 L376.8 169.5 L377 170.4 L377.2 171.6 L377.5 173.4 L377.8 174.1 L378 175.6 L378.1 177.2 L378.3 177.9 L378.4 179 L378.6 180.3 L378.7 182 L378.9 183.4 L379 184.2 L379.2 185.7 L379.3 186.8 L379.5 187.9 L379.7 189.8 L379.9 190.9 L380 191.8 L380.2 193.1 L380.4 194.9 L380.6 196.1 L380.8 197 L381 198.9 L381.2 199.7 L381.4 200.9 L381.7 202.4 L381.9 203.4 L382.1 204.9 L382.3 205.8 L382.5 207.3 L382.8 209 L383 209.8 L383.3 211.6 L383.5 212.3 L383.8 214.2 L384 215.7 L384.3 216.6 L384.8 217.6 L385.3 218.5 L385.8 219.9 L386.3 221.2 L386.8 222.2 L388 222 L389.2 222.3 L390.4 222 L391.6 222.3 L392.8 222.5 L394 222.3 L395.2 222.6 L396.4 222.1 L397.6 222.7 L398.8 222.2 L400 222.9 L401.2 223 L402.4 223 L403.6 222.7 L404.8 222.5 L406 222.6 L407.2 222.9 L408.4 222.8 L409.6 223.1 L410.8 222.5 L412 222.8 L413.2 223.2 L414.4 223 L415.6 223 L416.8 222.6 L418 223" stroke="#111" stroke-width="1.56" fill="none" stroke-linejoin="round"/>
<path d="M334 223 L335.3 222.6 L336.6 222.5 L337.9 222.9 L339.1 222.7 L340.4 222.1 L341.7 222.5 L343 222 L344.4 221.3 L345.8 221.5 L347.2 221.5 L348.6 220.7 L350 220.5 L351.3 220 L352.7 219 L354 218 L355 216.9 L356 216.4 L357 215.7 L358 215 L358.6 213.6 L359.2 212.9 L359.8 211.2 L360.3 210.6 L360.9 209 L361.5 208 L361.9 206.4 L362.4 205.5 L362.8 203.8 L363.2 202.9 L363.6 201.8 L364.1 200.4 L364.5 199 L364.9 197.8 L365.4 196.3 L365.8 195.6 L366.2 194.1 L366.6 193.4 L367.1 191.8 L367.5 191 L367.9 189.8 L368.2 188.4 L368.6 187.1 L369 186.1 L369.4 184.5 L369.8 183.2 L370.1 182.6 L370.5 181 L370.8 179.6 L371.2 178.7 L371.5 177.4 L371.8 175.8 L372.1 174.3 L372.5 173 L372.8 172 L373.2 171.1 L373.5 169.4 L373.9 168.5 L374.2 167.4 L374.6 166.2 L375.1 167.2 L375.7 168.7 L376.2 170 L376.8 168.5 L377.4 167.5 L378 166.2 L378.3 167.4 L378.6 168.4 L378.8 169.5 L379.1 170.8 L379.4 171.8 L379.6 173 L379.9 174.2 L380.2 175.6 L380.4 177.1 L380.6 178.1 L380.8 179.6 L381 180.2 L381.3 182.2 L381.5 183.1 L381.7 184.5 L381.9 185.6 L382.1 186.8 L382.3 188.2 L382.5 189.1 L382.7 190.7 L382.9 191.5 L383.2 192.8 L383.4 193.9 L383.6 195.4 L383.8 196.8 L384 198 L384.3 199.1 L384.6 200.8 L384.9 201.4 L385.2 203 L385.6 204 L385.9 205.5 L386.2 206.9 L386.5 208.1 L386.8 209.2 L387.4 209.9 L388 211.2 L388.6 212.5 L389.3 213.9 L389.9 214.2 L390.5 215.7 L391.7 216.5 L392.9 217.3 L394 218.1 L395.2 218.5 L396.6 218.8 L397.9 219.6 L399.3 219.8 L400.7 220.3 L402.1 220.9 L403.5 220.4 L404.9 221.4 L406.3 221.3 L407.7 220.7 L409.1 220.3 L409.6 219.1 L410.1 217.7 L410.5 216.6 L411 215.7 L411.5 217.3 L411.9 218.6 L412.4 219.6 L412.9 221.3 L414.2 221.4 L415.4 221.4 L416.7 221.6 L418 222" stroke="#3d7a1a" stroke-width="1.56" fill="none" stroke-linejoin="round"/>
<text x="328.3" y="248.8" font-size="11.6">Human embryonic</text>
<text x="328.3" y="261.9" font-size="11.6">stem cell (WA09)</text>
<line x1="55.8" y1="276.9" x2="66.5" y2="276.9" stroke="#2d5a2a" stroke-width="1.8"/>
<text x="69.6" y="279.1" font-size="6.4">PC10</text>
<line x1="128" y1="277.5" x2="137.5" y2="277.5" stroke="#9a6030" stroke-width="1.8"/>
<text x="140" y="279.4" font-size="6.5">14-25-9</text>
<line x1="195.4" y1="277.4" x2="205.4" y2="277.4" stroke="#111" stroke-width="1.8"/>
<text x="210.6" y="279.4" font-size="6.5">Second antibody</text>
<text x="429.3" y="126" font-size="17.8">B</text>
<rect x="443.8" y="120.4" width="60.69999999999999" height="45.5" stroke="#9a9a9a" stroke-width="0.9" fill="none"/>
<line x1="443.8" y1="165.9" x2="504.5" y2="165.9" stroke="#777" stroke-width="0.7"/>
<text x="450.8" y="170.4" font-size="2.8" fill="#aaa" text-anchor="middle">0</text>
<text x="461.8" y="170.4" font-size="2.8" fill="#aaa" text-anchor="middle">10<tspan font-size="2.1" dy="-1.4">2</tspan></text>
<text x="474.8" y="170.4" font-size="2.8" fill="#aaa" text-anchor="middle">10<tspan font-size="2.1" dy="-1.4">3</tspan></text>
<text x="486.8" y="170.4" font-size="2.8" fill="#aaa" text-anchor="middle">10<tspan font-size="2.1" dy="-1.4">4</tspan></text>
<text x="497.8" y="170.4" font-size="2.8" fill="#aaa" text-anchor="middle">10<tspan font-size="2.1" dy="-1.4">5</tspan></text>
<path d="M444 165.5 L445.4 165.1 L446.7 164.9 L448.1 165.1 L449.4 164.9 L450.8 164.5 L452.1 164.1 L452.4 162.9 L452.8 161.6 L453.1 160.6 L453.4 159.4 L453.8 158.1 L454.1 156.7 L454.2 155.5 L454.3 154.1 L454.5 153.1 L454.6 152 L454.7 150.7 L454.8 149.1 L454.9 148.2 L455 146.7 L455.1 145.4 L455.3 144.6 L455.4 143.2 L455.5 141.9 L455.6 140.8 L455.8 139.3 L455.9 138.5 L456 137.3 L456.1 136.1 L456.3 134.8 L456.4 133.6 L456.5 132.4 L456.7 131.1 L456.8 129.8 L457.5 131.1 L458.1 132.7 L458.8 133.8 L459.1 135.2 L459.5 136.4 L459.9 137.3 L460.2 138.6 L462.2 139.9 L464.2 139 L465.5 139.4 L466.9 139.2 L467.9 139.9 L468.9 140.6 L469.8 142.2 L470.7 143.3 L471.1 144.4 L471.5 146.2 L471.9 147.4 L472.3 148.6 L472.6 149.6 L472.8 151.2 L473.1 152 L473.3 153.2 L473.6 154.5 L473.8 155.6 L474.1 156.9 L474.3 158.1 L474.8 159.7 L475.3 160.9 L475.8 162.3 L476.3 163.5 L477.6 164.4 L479 165.5 L480.2 165.7 L481.5 165.7 L482.8 165.6 L484 165.8 L485.2 165.7 L486.5 165.4 L487.8 165.3 L489 165.6 L490.2 165.7 L491.5 165.4 L492.8 165.6 L494 165.7 L495.2 165.7 L496.5 165.2 L497.8 165.5 L499 165.2 L500.2 165.3 L501.5 165.7 L502.8 165.5 L504 165.5" stroke="#e2c490" stroke-width="1.1" fill="none" stroke-linejoin="round"/>
<path d="M444 165.5 L445.4 165.4 L446.7 165.2 L448.1 165 L449.4 164.8 L450.8 164.8 L451.5 163.7 L452.1 163 L452.8 161.9 L453.5 160.8 L453.7 159.5 L453.9 158.1 L454.1 157 L454.3 156 L454.5 154.7 L454.7 153.6 L454.9 152.4 L455.1 150.8 L455.3 149.9 L455.5 148.6 L455.6 147.1 L455.8 146.4 L455.9 144.8 L456 143.6 L456.1 142.8 L456.3 141.3 L456.4 140 L456.5 139.2 L456.7 137.8 L456.8 136.5 L457 135.5 L457.3 134 L457.5 132.8 L457.7 131.8 L458 130.3 L458.2 129.1 L458.4 130.7 L458.6 131.4 L458.8 133.1 L458.9 133.9 L459.1 135.4 L459.3 136.3 L459.5 137.9 L459.6 138.9 L459.7 140.6 L459.9 141.6 L460 143 L460.1 143.9 L460.2 145.2 L460.3 146.3 L460.4 147.8 L460.5 149.2 L460.7 150.2 L460.8 151.4 L460.9 152.7 L461.1 154.2 L461.4 155.4 L461.6 156.5 L461.9 157.4 L462.1 159 L462.4 160.1 L462.6 161.4 L463.6 162.9 L464.6 163.8 L465.6 165.1 L466.8 165.2 L468 165.2 L469.2 165.1 L470.4 165.2 L471.6 165.3 L472.8 165.4 L474 165.2 L475.2 165.1 L476.4 165.5 L477.6 165 L478.8 165.4 L480 165.4 L481.2 165.3 L482.4 165.2 L483.6 165.4 L484.8 165.5 L486 165.4 L487.2 165.5 L488.4 165.1 L489.6 165.2 L490.8 165.1 L492 165.6 L493.2 165.6 L494.4 165.2 L495.6 165.5 L496.8 165.5 L498 165.2 L499.2 165.4 L500.4 165.6 L501.6 165.6 L502.8 165.4 L504 165.5" stroke="#85856a" stroke-width="1.2" fill="none" stroke-linejoin="round"/>
<text x="517.3" y="144.5" font-size="9.8" text-anchor="middle" transform="rotate(-90 517.3 144.5)" stroke="#000" stroke-width="0.35">Pat1</text>
<rect x="444.3" y="173.2" width="61.0" height="43.900000000000006" stroke="#9a9a9a" stroke-width="0.9" fill="none"/>
<line x1="444.3" y1="217.1" x2="505.3" y2="217.1" stroke="#777" stroke-width="0.7"/>
<text x="451.3" y="221.6" font-size="2.8" fill="#aaa" text-anchor="middle">0</text>
<text x="462.3" y="221.6" font-size="2.8" fill="#aaa" text-anchor="middle">10<tspan font-size="2.1" dy="-1.4">2</tspan></text>
<text x="475.3" y="221.6" font-size="2.8" fill="#aaa" text-anchor="middle">10<tspan font-size="2.1" dy="-1.4">3</tspan></text>
<text x="487.3" y="221.6" font-size="2.8" fill="#aaa" text-anchor="middle">10<tspan font-size="2.1" dy="-1.4">4</tspan></text>
<text x="498.3" y="221.6" font-size="2.8" fill="#aaa" text-anchor="middle">10<tspan font-size="2.1" dy="-1.4">5</tspan></text>
<path d="M445 217 L446.2 216.8 L447.4 216.2 L448.6 216.1 L449.7 215.7 L450.9 215.7 L452.1 215.1 L452.9 214.1 L453.7 213.1 L454.6 212 L455.4 210.7 L456.2 209.7 L456.7 208.8 L457.1 207.5 L457.6 206.3 L458.1 204.9 L458.6 203.7 L459 202.8 L459.5 201.6 L459.8 200.6 L460 199.4 L460.2 198 L460.5 196.7 L460.8 195.7 L461 194.8 L461.2 193.2 L461.5 192.2 L461.8 191 L462.1 189.3 L462.3 188.1 L462.6 186.6 L462.9 185.5 L463.2 184.2 L463.4 183 L463.7 182.1 L463.9 180.9 L464.2 179.4 L465 177.9 L465.8 176.7 L466.9 178.8 L467.2 180 L467.5 181.7 L467.7 182.6 L468 184.1 L468.3 185.5 L468.5 186.8 L468.7 188 L468.9 189.4 L469 190.8 L469.2 192.1 L469.4 193.8 L469.6 194.9 L469.8 196.1 L470.1 197.4 L470.3 199.2 L470.5 200.2 L470.7 201.8 L471 203 L471.2 204.3 L471.5 205.8 L471.8 206.9 L472.1 208.1 L472.4 209.9 L472.7 211 L473 212.4 L473.7 213.6 L474.3 214.8 L475 215.8 L476.2 216 L477.4 215.7 L478.6 215.8 L479.8 216.2 L481 216 L482.2 215.9 L483.4 216.2 L484.6 216 L485.8 216.3 L487 215.9 L488.2 216.4 L489.4 216.3 L490.6 216.2 L491.8 216.6 L493 216.3 L494.2 216.3 L495.4 216.2 L496.6 216.5 L497.8 216.7 L499 216.7 L500.2 216.6 L501.4 216.9 L502.6 216.5 L503.8 216.6 L505 216.8" stroke="#e2c08c" stroke-width="1.1" fill="none" stroke-linejoin="round"/>
<path d="M445 217 L446.6 216.5 L448.1 215.8 L448.8 215.1 L449.4 213.8 L450.1 212.9 L450.8 211.9 L451.4 210.7 L452.1 209.7 L452.5 208.8 L452.9 207.5 L453.3 206.1 L453.6 205 L454 204.1 L454.4 202.7 L454.8 201.6 L455.1 200.2 L455.4 199.4 L455.7 198.1 L456 196.9 L456.3 195.8 L456.6 194.7 L456.9 193.1 L457.2 192 L457.5 190.9 L457.8 189.3 L458.2 188.1 L458.5 186.9 L458.8 185.7 L459.2 184.3 L459.5 182.8 L460 181.5 L460.4 180.1 L460.9 178.8 L461.4 180.5 L461.8 182.1 L461.9 183.2 L462.1 184.8 L462.2 186.1 L462.4 187.4 L462.5 188.2 L462.6 189.8 L462.8 191.1 L462.9 192.2 L463 193.4 L463.2 194.8 L463.3 196 L463.5 197.1 L463.6 198.4 L463.8 199.5 L463.9 200.8 L464.1 201.6 L464.2 203 L464.4 204.5 L464.7 205.8 L464.9 207.1 L465.1 208.3 L465.4 209.5 L465.6 211.1 L466.1 212.3 L466.6 213.6 L467.1 214.5 L467.6 215.8 L468.8 215.7 L470 215.7 L471.2 215.7 L472.4 216 L473.6 216.2 L474.8 216.2 L476 215.9 L477.3 216.2 L478.5 215.8 L479.7 216.3 L480.9 216 L482.1 215.9 L483.3 216.3 L484.5 216 L485.7 216.1 L486.9 216.1 L488.1 216.3 L489.3 216.4 L490.5 216.6 L491.7 216.2 L492.9 216.7 L494.1 216.3 L495.3 216.4 L496.6 216.7 L497.8 216.5 L499 216.5 L500.2 216.7 L501.4 216.5 L502.6 216.9 L503.8 216.6 L505 216.8" stroke="#b8a078" stroke-width="1.1" fill="none" stroke-linejoin="round"/>
<line x1="462.5" y1="184" x2="463.2" y2="196" stroke="#9ad08a" stroke-width="1"/>
<text x="517.2" y="196.2" font-size="9.8" text-anchor="middle" transform="rotate(-90 517.2 196.2)" stroke="#000" stroke-width="0.35">Pat2</text>
<rect x="443.8" y="225.7" width="60.69999999999999" height="45.400000000000034" stroke="#9a9a9a" stroke-width="0.9" fill="none"/>
<line x1="443.8" y1="271.1" x2="504.5" y2="271.1" stroke="#777" stroke-width="0.7"/>
<text x="450.8" y="275.6" font-size="2.8" fill="#aaa" text-anchor="middle">0</text>
<text x="461.8" y="275.6" font-size="2.8" fill="#aaa" text-anchor="middle">10<tspan font-size="2.1" dy="-1.4">2</tspan></text>
<text x="474.8" y="275.6" font-size="2.8" fill="#aaa" text-anchor="middle">10<tspan font-size="2.1" dy="-1.4">3</tspan></text>
<text x="486.8" y="275.6" font-size="2.8" fill="#aaa" text-anchor="middle">10<tspan font-size="2.1" dy="-1.4">4</tspan></text>
<text x="497.8" y="275.6" font-size="2.8" fill="#aaa" text-anchor="middle">10<tspan font-size="2.1" dy="-1.4">5</tspan></text>
<path d="M444 271 L445.4 271 L446.7 270.8 L448.1 270.5 L449.4 270 L450.8 270.3 L452.1 269.7 L453.5 269.8 L454.7 269.6 L455.9 269.4 L457.2 269 L458.4 269.2 L459.6 269 L460.8 268.8 L462 268.5 L463.2 268.4 L464.5 268.2 L465.7 267.8 L466.9 267.8 L468.2 267.6 L469.6 267.3 L470.9 266.8 L472.3 266.5 L473.6 265.8 L474.7 264.9 L475.8 264.5 L476.8 263.1 L477.9 262.5 L479 261.7 L479.7 260.4 L480.4 259.4 L481.1 258.5 L481.7 257.4 L482.4 256.1 L483.1 255 L483.4 253.7 L483.8 252.5 L484.1 251.4 L484.5 250.2 L484.8 248.9 L485.1 248.1 L485.5 246.8 L485.8 245.6 L486.1 244.2 L486.3 242.7 L486.6 241.7 L486.9 240 L487.1 238.7 L487.4 237.5 L487.8 236.2 L488.3 235 L488.7 233.5 L489.8 233.2 L490.5 235 L491.1 236.2 L491.3 237.7 L491.5 239.2 L491.7 240.5 L491.9 241.7 L492.1 243 L492.3 244 L492.5 245.6 L492.7 246.8 L492.8 248 L493 249.8 L493.1 251.1 L493.3 252.4 L493.5 253.5 L493.6 254.9 L493.8 256.3 L494 257.3 L494.1 258.8 L494.3 260.2 L494.5 260.9 L494.7 262 L494.9 263.2 L495 264.5 L495.2 265.8 L495.5 267.2 L495.9 268.3 L496.2 269.3 L496.5 270.5 L497.8 270.3 L499 270.4 L500.2 270.4 L501.5 270.9 L502.8 270.7 L504 270.8" stroke="#dcc090" stroke-width="1.1" fill="none" stroke-linejoin="round"/>
<path d="M444 271 L445.4 271.2 L446.7 271 L448.1 270.9 L449.4 270.6 L450.8 270.5 L452 270.4 L453.1 269.8 L454.3 269.5 L455.5 269.5 L456.7 269.3 L457.9 268.8 L459 268.6 L460.2 268.5 L461.5 267.8 L462.9 267.9 L464.2 267.4 L465.6 267.1 L466.9 266.4 L468 266 L469.1 265 L470.1 264.6 L471.2 263.7 L472.3 263.1 L473.1 262.2 L473.9 261.1 L474.7 259.6 L475.5 258.5 L476.3 257.7 L476.7 256.4 L477.1 255.4 L477.5 254.2 L477.8 252.8 L478.2 252.1 L478.6 250.9 L479 249.6 L479.3 248.2 L479.7 246.6 L480 245.8 L480.3 244.2 L480.7 242.6 L481 241.5 L481.4 240.1 L481.7 238.9 L482.1 237.7 L482.4 236.1 L482.8 234.8 L483.5 233.7 L484.1 232.4 L484.5 233.5 L484.8 234.8 L485.1 236.5 L485.5 237.5 L485.6 238.8 L485.8 239.9 L485.9 241.6 L486 242.6 L486.1 244 L486.3 245.5 L486.4 246.9 L486.5 248.3 L486.7 249.7 L486.8 251.1 L487 252.2 L487.1 253.4 L487.3 255.1 L487.4 256.3 L487.6 257.4 L487.8 259 L487.9 260.3 L488.1 261.8 L488.3 263.2 L488.5 264.4 L488.9 265.7 L489.3 267.3 L489.7 268.8 L490.1 270.1 L491.4 270.1 L492.6 270 L493.9 270.5 L495.2 270.4 L496.4 270.2 L497.7 270.3 L498.9 270.8 L500.2 270.4 L501.5 270.6 L502.7 270.9 L504 270.8" stroke="#a89878" stroke-width="1.15" fill="none" stroke-linejoin="round"/>
<text x="517.2" y="250.9" font-size="9.8" text-anchor="middle" transform="rotate(-90 517.2 250.9)" stroke="#000" stroke-width="0.35">Pat3</text>
<line x1="439.9" y1="287" x2="449.7" y2="287" stroke="#66d040" stroke-width="2"/>
<text x="452.4" y="289.3" font-size="6.6">PC10</text>
<line x1="480" y1="287" x2="490.6" y2="287" stroke="#e89838" stroke-width="2"/>
<text x="495" y="289.3" font-size="6.4">14-25-9</text>
<line x1="439.9" y1="299.1" x2="449.7" y2="299.1" stroke="#d81e30" stroke-width="2"/>
<text x="452.1" y="301.3" font-size="6.3">Second antibody</text>
<text x="11.3" y="330.4" font-size="18.8">C</text>
<text x="33.5" y="327.3" font-size="11.4">EL4 Cells</text>
<line x1="172" y1="325.2" x2="468.3" y2="325.2" stroke="#111" stroke-width="1.5"/>
<text x="305" y="321.9" font-size="11.4" text-anchor="middle">EL4-PCNA</text>
<text x="162.6" y="343.6" font-size="18.3">D</text>
<text x="247.7" y="335.8" font-size="8.6" text-anchor="middle">α-PCNA (PC10)</text>
<text x="349.9" y="343.8" font-size="18.3">E</text>
<text x="442.1" y="336.2" font-size="8.5" text-anchor="middle">α-PCNA (14-25-9)</text>
<line x1="10" y1="466.3" x2="38.6" y2="441.5" stroke="#dcc8c0" stroke-width="0.7"/>
<line x1="16" y1="466.3" x2="44.6" y2="441.5" stroke="#dcc8c0" stroke-width="0.7"/>
<line x1="22" y1="466.3" x2="50.6" y2="441.5" stroke="#dcc8c0" stroke-width="0.7"/>
<line x1="28" y1="466.3" x2="56.6" y2="441.5" stroke="#dcc8c0" stroke-width="0.7"/>
<line x1="34" y1="466.3" x2="62.6" y2="441.5" stroke="#dcc8c0" stroke-width="0.7"/>
<line x1="40" y1="466.3" x2="68.6" y2="441.5" stroke="#dcc8c0" stroke-width="0.7"/>
<line x1="46" y1="466.3" x2="74.6" y2="441.5" stroke="#dcc8c0" stroke-width="0.7"/>
<line x1="52" y1="466.3" x2="80.6" y2="441.5" stroke="#dcc8c0" stroke-width="0.7"/>
<line x1="58" y1="466.3" x2="86.6" y2="441.5" stroke="#dcc8c0" stroke-width="0.7"/>
<line x1="64" y1="466.3" x2="92.6" y2="441.5" stroke="#dcc8c0" stroke-width="0.7"/>
<line x1="70" y1="466.3" x2="98.6" y2="441.5" stroke="#dcc8c0" stroke-width="0.7"/>
<line x1="76" y1="466.3" x2="104.6" y2="441.5" stroke="#dcc8c0" stroke-width="0.7"/>
<line x1="82" y1="466.3" x2="110.6" y2="441.5" stroke="#dcc8c0" stroke-width="0.7"/>
<line x1="88" y1="466.3" x2="116.6" y2="441.5" stroke="#dcc8c0" stroke-width="0.7"/>
<line x1="94" y1="466.3" x2="122.6" y2="441.5" stroke="#dcc8c0" stroke-width="0.7"/>
<line x1="100" y1="466.3" x2="128.6" y2="441.5" stroke="#dcc8c0" stroke-width="0.7"/>
<line x1="22" y1="466.3" x2="50.6" y2="441.5" stroke="#6a6a6a" stroke-width="0.9"/>
<line x1="40" y1="466.3" x2="68.6" y2="441.5" stroke="#6a6a6a" stroke-width="0.9"/>
<line x1="58" y1="466.3" x2="86.6" y2="441.5" stroke="#6a6a6a" stroke-width="0.9"/>
<line x1="76" y1="466.3" x2="104.6" y2="441.5" stroke="#6a6a6a" stroke-width="0.9"/>
<line x1="94" y1="466.3" x2="122.6" y2="441.5" stroke="#6a6a6a" stroke-width="0.9"/>
<line x1="12" y1="466.3" x2="104" y2="466.3" stroke="#e0a868" stroke-width="0.9" stroke-dasharray="2 1"/>
<path d="M12 466.3 L13.2 466.4 L14.5 466.3 L15.7 466.3 L16.9 466 L18.2 466 L19.4 466.3 L20.7 466.2 L21.9 465.9 L23.1 465.9 L24.4 465.9 L25.6 466 L25.8 465 L26 463.4 L26.2 462.4 L26.4 461.3 L26.7 459.9 L26.9 458.8 L27.1 457.3 L27.3 456.1 L27.5 455 L27.6 453.6 L27.6 452.7 L27.7 451.2 L27.7 450.4 L27.8 449.1 L27.9 447.7 L27.9 446.7 L28 445.3 L28 444.2 L28.1 442.8 L28.2 441.9 L28.2 440.8 L28.3 439.6 L28.3 438 L28.4 437.1 L28.5 435.8 L28.5 434.7 L28.6 433.4 L28.6 432.2 L28.7 431 L28.8 429.9 L28.8 428.4 L28.9 427.2 L28.9 426.2 L29 425 L29.1 423.7 L29.1 422.5 L29.2 421.1 L29.3 420.1 L29.4 418.6 L29.4 417.6 L29.5 416.4 L29.6 415 L29.7 413.6 L29.8 412.6 L29.8 411.1 L29.9 410 L30 408.6 L30.1 407.7 L30.1 406.3 L30.2 404.9 L30.3 403.6 L30.4 402.6 L30.4 401.4 L30.5 400 L30.6 398.9 L30.7 397.3 L30.8 396.1 L31 394.8 L31.1 393.7 L31.2 392.1 L31.3 391 L31.8 389 L32.2 390.3 L32.6 391.5 L32.7 392.9 L32.8 394.1 L32.9 395 L33 396.2 L33.1 397.5 L33.3 398.9 L33.4 400.1 L33.5 401.3 L33.6 402.5 L33.7 403.7 L33.8 405 L33.9 406.3 L33.9 407.6 L34 408.9 L34 410.1 L34.1 411.4 L34.2 412.7 L34.2 413.9 L34.3 415.1 L34.3 416.1 L34.4 417.6 L34.5 418.9 L34.5 420 L34.6 421.4 L34.6 422.4 L34.7 423.9 L34.8 425 L34.8 426.3 L34.9 427.4 L34.9 428.7 L35 430 L35.1 431.2 L35.1 432.4 L35.2 433.6 L35.3 435 L35.4 436.4 L35.5 437.6 L35.5 438.9 L35.6 440.1 L35.7 441.4 L35.8 442.7 L35.8 443.9 L35.9 444.9 L36 446.1 L36 447.5 L36.1 448.6 L36.2 449.9 L36.3 451.4 L36.4 452.7 L36.4 453.7 L36.5 455 L36.6 456.3 L36.8 457.6 L36.9 458.8 L37 460 L37.2 461.1 L37.3 462.2 L37.4 463.7 L37.6 464.7 L37.7 466 L38.9 466.1 L40.1 466 L41.3 466 L42.5 466.2 L43.7 465.9 L44.9 466 L46.1 466.1 L47.3 466.1 L48.5 466.2 L49.8 466 L51 466.2 L52.2 466.1 L53.4 466.3 L54.6 465.9 L55.8 466 L57 466 L58.2 466.3 L59.4 465.9 L60.6 466 L61.8 466.2 L63 466.3 L64.2 466 L65.4 466.1 L66.6 466.2 L67.8 466.2 L69 466.2 L70.2 466.2 L71.5 466.1 L72.7 466.1 L73.9 466 L75.1 466.2 L76.3 466.1 L77.5 466.1 L78.7 466.4 L79.9 466.2 L81.1 466.2 L82.3 466.3 L83.5 466.2 L84.7 466.3 L85.9 466.1 L87.1 466 L88.3 466.1 L89.5 466 L90.7 466.2 L91.9 466.1 L93.2 466.1 L94.4 466.3 L95.6 466.4 L96.8 466.3 L98 466.2 L99.2 466.4 L100.4 466.2 L101.6 466.1 L102.8 466.2 L104 466.3" stroke="#e8bc7c" stroke-width="1.1" fill="none" stroke-linejoin="round"/>
<path d="M25.6 453.1 L26.9 453 L28.2 453.1 L29.5 453 L30.8 453.1 L32.1 452.8 L33.3 453.1 L34.6 452.8 L35.9 453 L37.2 452.7 L38.5 453 L39.8 452.8 L40 451.4 L40.1 450.4 L40.3 449.1 L40.5 447.7 L40.6 446.3 L40.8 444.9 L41 443.7 L41.2 442.7 L41.3 441.1 L41.5 440 L41.6 438.8 L41.6 437.5 L41.7 436.3 L41.8 434.9 L41.9 433.6 L42 432.3 L42 431.4 L42.1 430 L42.2 428.8 L42.2 427.5 L42.3 426.1 L42.4 424.8 L42.5 423.6 L42.5 422.6 L42.6 421.1 L42.7 420.2 L42.8 418.7 L42.9 417.6 L42.9 416.1 L43 415 L43.1 413.9 L43.2 412.5 L43.2 411.3 L43.3 410.2 L43.4 408.8 L43.5 407.6 L43.6 406.6 L43.6 405.2 L43.7 404.1 L43.8 403 L43.9 401.6 L43.9 400.4 L44 399.2 L44.1 398 L44.2 396.8 L44.3 395.7 L44.3 394.4 L44.4 393.4 L44.5 392 L44.6 390.5 L44.7 389.5 L44.8 388.3 L44.9 386.8 L45 385.4 L45.1 384.3 L45.2 382.9 L45.3 381.8 L45.4 380.6 L45.5 379.1 L45.6 378 L45.8 376.6 L46.1 375.5 L46.3 374.2 L46.6 375.3 L46.9 376.6 L47.2 378 L47.3 379.2 L47.4 380.3 L47.5 381.5 L47.6 382.8 L47.7 384.1 L47.8 385.5 L47.9 386.5 L47.9 387.5 L48 388.8 L48.1 390.2 L48.2 391.4 L48.3 392.7 L48.4 394 L48.5 395 L48.6 396.4 L48.6 397.3 L48.7 398.9 L48.8 400 L48.9 401.1 L49 402.4 L49 403.9 L49.1 404.9 L49.2 406.1 L49.2 407.4 L49.3 408.9 L49.4 410 L49.5 411.3 L49.5 412.3 L49.6 413.7 L49.7 414.9 L49.8 416.1 L49.9 417.6 L49.9 418.7 L50 420 L50.1 421.1 L50.2 422.7 L50.4 423.7 L50.5 424.9 L50.6 426.1 L50.8 427.6 L50.9 428.8 L51 429.8 L51.1 431.2 L51.2 432.6 L51.4 433.8 L51.5 434.9 L51.6 436.2 L51.8 437.5 L51.9 438.8 L52 440 L52.3 441.1 L52.6 442.7 L53 444 L53.3 445.2 L53.6 446.5 L53.9 447.6 L54.2 449.1 L54.6 450.1 L54.9 451.4 L55.2 452.8 L56.4 452.8 L57.6 453 L58.8 452.7 L60.1 452.7 L61.3 452.6 L62.5 452.8 L63.7 452.7 L64.9 452.7 L66.1 453 L67.3 452.9 L68.6 453 L69.8 452.8 L71 452.9 L72.2 452.7 L73.4 453.1 L74.6 452.8 L75.8 452.9 L77 452.9 L78.3 453.1 L79.5 452.9 L80.7 453.1 L81.9 453 L83.1 452.8 L84.3 453.1 L85.5 452.8 L86.8 453.2 L88 452.9 L89.2 452.9 L90.4 453.2 L91.6 452.9 L92.8 452.9 L94 452.9 L95.3 453.1 L96.5 452.8 L97.7 453 L98.9 452.9 L100.1 453.1 L101.3 452.8 L102.5 453.1 L103.7 452.9 L105 453 L106.2 453.1 L107.4 453.1 L108.6 452.9 L109.8 453 L111 452.9 L112.2 453.3 L113.5 452.9 L114.7 452.9 L115.9 453.1 L117.1 453.1" stroke="#58c6dc" stroke-width="1.2" fill="none" stroke-linejoin="round"/>
<path d="M40.4 441.5 L41.6 441.5 L42.8 441.6 L44.1 441.2 L45.3 441.3 L46.5 441.2 L47.7 441.4 L48.9 441.3 L50.1 441.2 L51.4 441.4 L52.6 441.3 L53.8 441.2 L54 440.1 L54.2 438.9 L54.4 437.4 L54.6 436.4 L54.8 434.9 L55 433.6 L55.2 432.7 L55.4 431.1 L55.6 430 L55.7 428.6 L55.8 427.4 L56 426.2 L56.1 425.2 L56.2 423.9 L56.3 422.5 L56.4 421.3 L56.5 420.1 L56.7 418.9 L56.8 417.6 L56.9 416.3 L57 414.8 L57.1 413.6 L57.3 412.6 L57.4 411.3 L57.5 410 L57.6 408.9 L57.7 407.7 L57.8 406.4 L57.9 404.9 L58 403.6 L58 402.7 L58.1 401.3 L58.2 399.9 L58.3 398.8 L58.4 397.4 L58.5 396.1 L58.6 394.9 L58.7 393.8 L58.8 392.6 L58.8 391.1 L58.9 390.1 L59 388.8 L59.1 387.5 L59.2 386.3 L59.3 385 L59.4 383.9 L59.5 382.4 L59.6 381.3 L59.7 380.2 L59.8 379 L59.9 377.8 L60 376.4 L60.2 375.5 L60.3 374.2 L60.4 372.8 L60.5 371.6 L60.6 370.6 L60.7 369.1 L60.8 368 L60.9 366.8 L61 365.8 L61.2 364.6 L61.3 363.1 L61.4 362 L61.9 360.8 L62.2 362.5 L62.6 364 L62.7 365.2 L62.9 366.5 L63 367.8 L63.1 368.7 L63.3 370 L63.4 371.2 L63.5 372.5 L63.7 373.6 L63.8 375 L63.9 376.1 L63.9 377.5 L64 378.7 L64.1 379.8 L64.2 381.3 L64.2 382.7 L64.3 383.8 L64.4 384.9 L64.5 386.3 L64.5 387.5 L64.6 388.6 L64.7 390 L64.8 391.1 L64.8 392.6 L64.9 393.6 L65 394.9 L65.1 396.4 L65.1 397.6 L65.2 398.9 L65.3 400 L65.4 401.3 L65.5 402.6 L65.6 403.8 L65.6 405.2 L65.7 406.1 L65.8 407.6 L65.9 408.7 L66 409.9 L66.1 411.4 L66.2 412.5 L66.2 413.9 L66.3 415.2 L66.4 416.3 L66.5 417.4 L66.6 418.6 L66.7 420 L66.7 421.3 L66.8 422.4 L66.9 423.6 L67 425 L67.1 426.1 L67.3 427.4 L67.4 428.8 L67.6 429.8 L67.7 431.1 L67.8 432.4 L68 433.8 L68.1 435.2 L68.3 436.1 L68.4 437.3 L68.6 438.9 L68.7 440 L70 441.3 L71.2 441.5 L72.4 441.2 L73.6 441.2 L74.9 441.3 L76.1 441.2 L77.3 441.3 L78.5 441.3 L79.7 441.2 L80.9 441.2 L82.2 441.2 L83.4 441.2 L84.6 441.2 L85.8 441.4 L87 441.4 L88.2 441.3 L89.5 441.5 L90.7 441.5 L91.9 441.3 L93.1 441.4 L94.3 441.3 L95.5 441.6 L96.7 441.4 L98 441.2 L99.2 441.3 L100.4 441.5 L101.6 441.4 L102.8 441.5 L104 441.3 L105.3 441.5 L106.5 441.5 L107.7 441.3 L108.9 441.5 L110.1 441.3 L111.3 441.5 L112.5 441.6 L113.8 441.6 L115 441.3 L116.2 441.3 L117.4 441.5 L118.6 441.5 L119.8 441.3 L121.1 441.3 L122.3 441.5 L123.5 441.3 L124.7 441.5 L125.9 441.4 L127.1 441.4 L128.4 441.5 L129.6 441.5 L130.8 441.6 L132 441.5" stroke="#d8707e" stroke-width="1.2" fill="none" stroke-linejoin="round"/>
<text x="21" y="473.5" font-size="3.6" fill="#888" text-anchor="middle">10<tspan font-size="2.7" dy="-1.4">1</tspan></text>
<text x="40" y="473.5" font-size="3.6" fill="#888" text-anchor="middle">10<tspan font-size="2.7" dy="-1.4">2</tspan></text>
<text x="58" y="473.5" font-size="3.6" fill="#888" text-anchor="middle">10<tspan font-size="2.7" dy="-1.4">3</tspan></text>
<text x="77" y="473.5" font-size="3.6" fill="#888" text-anchor="middle">10<tspan font-size="2.7" dy="-1.4">4</tspan></text>
<text x="96" y="473.5" font-size="3.6" fill="#888" text-anchor="middle">10<tspan font-size="2.7" dy="-1.4">5</tspan></text>
<line x1="101.3" y1="379.3" x2="115.6" y2="379.3" stroke="#c8102e" stroke-width="2.6"/>
<text x="119.9" y="381.6" font-size="7.2">Isotype</text>
<text x="119.9" y="391.2" font-size="7.2">control</text>
<line x1="101.3" y1="400" x2="115.6" y2="400" stroke="#80d0e8" stroke-width="2.6"/>
<text x="119.9" y="402.8" font-size="7.2">PC10</text>
<line x1="101.3" y1="412.9" x2="115.6" y2="412.9" stroke="#d08020" stroke-width="2.6"/>
<text x="119.9" y="415.5" font-size="7.2">14-25-9</text>
<line x1="29.4" y1="480.6" x2="74.5" y2="480.6" stroke="#000" stroke-width="1.1"/>
<path d="M80.5 480.6 L73.5 478.40000000000003 L75.5 480.6 L73.5 482.8 Z" fill="#000"/>
<text x="53.6" y="493.5" font-size="7.2" text-anchor="middle">Cell surface PCNA</text>
<line x1="161.5" y1="478.8" x2="214.5" y2="433.3" stroke="#d0d0d0" stroke-width="0.7"/>
<line x1="168.5" y1="478.8" x2="221.5" y2="433.3" stroke="#d0d0d0" stroke-width="0.7"/>
<line x1="175.5" y1="478.8" x2="228.5" y2="433.3" stroke="#d0d0d0" stroke-width="0.7"/>
<line x1="182.5" y1="478.8" x2="235.5" y2="433.3" stroke="#d0d0d0" stroke-width="0.7"/>
<line x1="189.5" y1="478.8" x2="242.5" y2="433.3" stroke="#d0d0d0" stroke-width="0.7"/>
<line x1="196.5" y1="478.8" x2="249.5" y2="433.3" stroke="#d0d0d0" stroke-width="0.7"/>
<line x1="203.5" y1="478.8" x2="256.5" y2="433.3" stroke="#d0d0d0" stroke-width="0.7"/>
<line x1="210.5" y1="478.8" x2="263.5" y2="433.3" stroke="#d0d0d0" stroke-width="0.7"/>
<line x1="217.5" y1="478.8" x2="270.5" y2="433.3" stroke="#d0d0d0" stroke-width="0.7"/>
<line x1="224.5" y1="478.8" x2="277.5" y2="433.3" stroke="#d0d0d0" stroke-width="0.7"/>
<line x1="231.5" y1="478.8" x2="284.5" y2="433.3" stroke="#d0d0d0" stroke-width="0.7"/>
<line x1="238.5" y1="478.8" x2="291.5" y2="433.3" stroke="#d0d0d0" stroke-width="0.7"/>
<line x1="245.5" y1="478.8" x2="298.5" y2="433.3" stroke="#d0d0d0" stroke-width="0.7"/>
<line x1="252.5" y1="478.8" x2="305.5" y2="433.3" stroke="#d0d0d0" stroke-width="0.7"/>
<line x1="259.5" y1="478.8" x2="312.5" y2="433.3" stroke="#d0d0d0" stroke-width="0.7"/>
<line x1="266.5" y1="478.8" x2="319.5" y2="433.3" stroke="#d0d0d0" stroke-width="0.7"/>
<line x1="273.5" y1="478.8" x2="326.5" y2="433.3" stroke="#d0d0d0" stroke-width="0.7"/>
<line x1="280.5" y1="478.8" x2="333.5" y2="433.3" stroke="#d0d0d0" stroke-width="0.7"/>
<line x1="287.5" y1="478.8" x2="340.5" y2="433.3" stroke="#d0d0d0" stroke-width="0.7"/>
<line x1="182.5" y1="478.8" x2="235.5" y2="433.3" stroke="#444" stroke-width="0.9"/>
<line x1="215.4" y1="478.8" x2="268.4" y2="433.3" stroke="#444" stroke-width="0.9"/>
<line x1="248.3" y1="478.8" x2="301.3" y2="433.3" stroke="#444" stroke-width="0.9"/>
<line x1="281.2" y1="478.8" x2="334.2" y2="433.3" stroke="#444" stroke-width="0.9"/>
<line x1="163.5" y1="478.8" x2="286" y2="478.8" stroke="#c8a8a0" stroke-width="0.9" stroke-dasharray="2 1.2"/>
<path d="M218 433.2 L219.2 432.9 L220.4 433.2 L221.7 432.8 L222.9 432.8 L224.1 433 L225.3 432.9 L226.6 432.8 L227.8 432.9 L229 432.4 L230.2 432.4 L231.4 432.6 L232.7 432.3 L233.9 432.2 L235.1 432.3 L236.3 431.6 L237.4 431.3 L238.6 430.8 L239.7 430.1 L240.9 429.4 L241.7 428.5 L242.4 427.3 L243.2 425.8 L243.9 424.6 L244.7 423.6 L245 422.5 L245.3 420.8 L245.7 419.8 L246 418.2 L246.3 416.9 L246.6 415.9 L247 414.4 L247.3 413.6 L247.6 412.1 L247.7 411.1 L247.8 409.7 L248 408.3 L248.1 407 L248.2 406.1 L248.3 404.9 L248.4 403.6 L248.6 402.6 L248.7 401.3 L248.8 400.2 L248.9 398.6 L249 397.4 L249.1 396.4 L249.3 395.2 L249.4 393.9 L249.5 392.8 L249.6 391.7 L249.7 390.2 L249.8 389 L249.9 387.9 L250 386.8 L250.1 385.7 L250.2 384.2 L250.3 383 L250.4 382.1 L250.6 380.9 L250.7 379.5 L250.8 378 L250.9 377 L251 375.9 L251.1 374.4 L251.2 373.1 L251.3 372.4 L251.4 371.2 L251.5 369.7 L251.6 368.2 L251.7 367.1 L251.8 365.9 L251.9 364.4 L252 363 L252.2 362.2 L252.3 360.9 L252.4 359.4 L252.5 357.9 L252.6 356.8 L252.7 355.3 L252.8 354.3 L253.3 353.3 L253.9 351.4 L254.4 350.4 L254.7 349 L255 348 L255.3 346.6 L255.6 345.1 L256 343.8 L256.3 342.7 L256.8 343.7 L257.3 345.1 L257.8 346.6 L258 347.8 L258.1 349.2 L258.3 350 L258.5 351.2 L258.7 352.8 L258.9 353.8 L259 354.9 L259.2 356.2 L259.3 357.2 L259.4 358.5 L259.5 360.2 L259.6 360.9 L259.7 362.2 L259.8 363.8 L259.9 365.1 L259.9 366.3 L260 367.3 L260.1 368.8 L260.2 369.9 L260.3 370.9 L260.4 372.2 L260.5 373.5 L260.6 374.9 L260.7 376.2 L260.7 377 L260.8 378.3 L260.9 380 L261 380.8 L261.1 382.5 L261.1 383.4 L261.2 384.6 L261.3 385.9 L261.4 387.3 L261.5 388.9 L261.5 389.6 L261.6 391.3 L261.7 392.2 L261.8 393.4 L261.9 395 L261.9 396 L262 397.2 L262.1 398.6 L262.2 399.8 L262.3 401.3 L262.4 402.6 L262.5 403.6 L262.5 404.5 L262.6 406.2 L262.7 407.4 L262.8 408.8 L262.9 410.1 L263 411 L263.1 412.5 L263.2 413.8 L263.2 414.7 L263.3 416 L263.4 417.2 L263.5 418.5 L263.6 419.8 L263.9 421 L264.1 422.1 L264.4 423.5 L264.6 425.2 L264.9 426.1 L265.1 427.5 L265.4 429 L265.6 430.2 L265.9 431.3 L267.2 431.8 L268.5 432.8 L269.8 433.2 L271 433.4 L272.2 433.5 L273.4 433.3 L274.6 433.4 L275.8 433.4 L277 433.1 L278.2 433.3 L279.4 433.1 L280.7 433.4 L281.9 433 L283.1 433.2 L284.3 433.1 L285.5 433.4 L286.7 433.1 L287.9 433.4 L289.1 433.4 L290.3 433.4 L291.5 433 L292.7 433.5 L293.9 433.3 L295.1 433.3 L296.3 433.3 L297.5 432.9 L298.7 433.4 L299.9 433.2 L301.1 433.2 L302.4 433.1 L303.6 433.4 L304.8 433.4 L306 433.4 L307.2 433 L308.4 433.1 L309.6 433 L310.8 433 L312 433.1 L313.2 432.9 L314.4 433.4 L315.6 433 L316.8 432.9 L318 432.9 L319.2 433.3 L320.4 433 L321.6 433.2 L322.9 433.1 L324.1 433.4 L325.3 433.5 L326.5 433.1 L327.7 433.3 L328.9 433.4 L330.1 433.2 L331.3 433.4 L332.5 433.2" stroke="#d45a6a" stroke-width="1.2" fill="none" stroke-linejoin="round"/>
<path d="M207 442.2 L208.2 442.3 L209.5 442.1 L210.7 442.4 L212 442.2 L213.2 441.9 L214.4 442.2 L215.7 442.3 L216.9 442.1 L218.2 442.1 L219.4 442 L220.6 442.3 L221.9 442.2 L223.1 441.9 L224.3 442 L225.6 442 L226.8 442.3 L228.1 442.1 L229.3 442 L229.6 440.6 L229.9 439.9 L230.1 438.2 L230.4 437.4 L230.7 436.1 L231 435.1 L231.2 433.8 L231.5 432.4 L231.8 431.5 L232.1 430.5 L232.4 429.3 L232.6 427.9 L232.9 426.6 L233.2 425.6 L233.4 424.5 L233.6 423.4 L233.7 421.8 L233.9 421 L234.1 419.9 L234.3 418.3 L234.5 417.1 L234.6 416.1 L234.8 415 L235 413.4 L235.2 412.2 L235.4 411 L235.6 410.1 L235.7 408.5 L235.9 407.5 L236.1 406.3 L236.2 405.1 L236.4 403.9 L236.5 402.3 L236.7 401.6 L236.8 400.4 L237 398.9 L237.1 397.7 L237.3 396.1 L237.4 395.3 L237.6 393.9 L237.7 392.7 L237.9 391.6 L238 390 L238.2 389.1 L238.3 387.4 L238.5 386.1 L238.6 385.1 L238.7 383.9 L238.9 382.8 L239 381.6 L239.1 380.4 L239.3 378.9 L239.4 377.9 L239.5 376.4 L239.7 374.9 L239.8 374 L240 372.8 L240.1 371.3 L240.2 370.2 L240.4 368.7 L240.5 367.5 L240.6 366.3 L240.8 365.2 L240.9 363.9 L241.2 362.6 L241.4 361.1 L241.7 359.8 L241.9 358.7 L242.2 357.6 L242.4 356.2 L243.1 354.9 L243.8 353.3 L244.4 354.6 L245.1 356.2 L245.4 357.5 L245.7 359.1 L246 360.4 L246.3 362 L246.4 363.3 L246.6 364.8 L246.7 365.7 L246.9 367.2 L247 368.5 L247.2 369.8 L247.3 371.1 L247.5 372.3 L247.6 373.5 L247.7 374.6 L247.7 376.1 L247.8 377.4 L247.9 378.1 L248 379.9 L248 380.8 L248.1 381.8 L248.2 383 L248.3 384.7 L248.3 385.8 L248.4 386.7 L248.5 388.1 L248.6 389.5 L248.6 390.9 L248.7 391.7 L248.8 393.2 L248.9 394.1 L248.9 395.3 L249 396.7 L249.1 397.7 L249.2 399.1 L249.2 400.4 L249.3 401.4 L249.4 402.6 L249.5 403.8 L249.6 405 L249.6 406.2 L249.7 407.5 L249.8 408.9 L249.9 409.9 L249.9 411.3 L250 412.5 L250.1 414 L250.2 414.9 L250.3 416.4 L250.3 417.4 L250.4 418.4 L250.5 419.8 L250.7 421.1 L250.8 422.2 L251 423.5 L251.1 424.7 L251.3 426.3 L251.4 427.8 L251.6 428.7 L251.8 430 L251.9 431.3 L252.1 432.5 L252.2 434 L252.4 435.2 L253 436.4 L253.6 437.5 L254.1 439.2 L254.7 440.3 L255.3 441.5 L256.5 441.2 L257.7 441.7 L258.9 441.7 L260.1 441.5 L261.3 441.6 L262.6 441.8 L263.8 441.5 L265 441.5 L266.2 441.5 L267.4 441.6 L268.6 441.7 L269.8 441.8 L271 441.9 L272.2 441.4 L273.4 441.6 L274.7 441.9 L275.9 441.9 L277.1 441.8 L278.3 441.8 L279.5 441.6 L280.7 442 L281.9 441.8 L283.1 441.7 L284.3 441.6 L285.5 441.5 L286.7 442 L288 442 L289.2 441.5 L290.4 441.7 L291.6 441.8 L292.8 441.8 L294 441.8 L295.2 442.1 L296.4 441.8 L297.6 441.9 L298.8 442.2 L300.1 442 L301.3 441.9 L302.5 441.8 L303.7 441.9 L304.9 442 L306.1 442.1 L307.3 441.8 L308.5 441.9 L309.7 441.9 L310.9 441.9 L312.1 442.3 L313.4 442.1 L314.6 441.9 L315.8 442 L317 442.3 L318.2 441.9 L319.4 442.2 L320.6 441.8 L321.8 441.9 L323 441.9 L324.2 442.3 L325.5 441.9 L326.7 442 L327.9 441.9 L329.1 442 L330.3 442.3 L331.5 442.2" stroke="#48c4e0" stroke-width="1.3" fill="none" stroke-linejoin="round"/>
<path d="M196 451.2 L197.2 451.3 L198.4 451.4 L199.7 451.4 L200.9 451.2 L202.1 451.4 L203.3 450.9 L204.5 451.4 L205.8 451.1 L207 450.9 L208.2 451.3 L209.4 451.3 L210.6 451 L211.8 450.8 L213.1 451.3 L214.3 451.2 L215.5 451.1 L216.7 451.3 L217.9 450.8 L219.2 450.8 L220.4 450.8 L221.6 451 L221.9 449.4 L222.1 448.6 L222.4 447.3 L222.7 445.7 L222.9 444.5 L223.2 443.2 L223.4 442.2 L223.7 441 L224 439.9 L224.2 438.3 L224.5 437.1 L224.6 436.2 L224.8 434.7 L224.9 433.4 L225.1 432.1 L225.2 430.9 L225.3 430.2 L225.5 429 L225.6 427.6 L225.7 426.1 L225.9 424.9 L226 423.6 L226.2 422.6 L226.3 421.6 L226.4 420 L226.6 419.1 L226.7 417.9 L226.8 416.3 L227 415.4 L227.1 414.4 L227.2 413.1 L227.4 411.8 L227.5 410.8 L227.7 409.5 L227.8 408.2 L227.9 406.9 L228.1 405.6 L228.2 404.7 L228.3 403.4 L228.4 402.2 L228.6 400.7 L228.7 399.2 L228.8 398 L228.9 396.9 L229.1 395.8 L229.2 394.2 L229.3 393.4 L229.4 392.1 L229.6 390.7 L229.7 389.2 L229.8 388.4 L229.9 386.9 L230.1 385.8 L230.2 384.5 L230.3 383.2 L230.4 382 L230.6 380.6 L230.7 379.6 L230.9 378.3 L231 377 L231.2 375.5 L231.3 374.1 L231.5 372.8 L231.6 371.6 L231.8 370.3 L231.9 369.4 L232.1 368.2 L232.2 367 L232.3 365.8 L232.5 364.7 L232.7 363.3 L232.8 362 L233.2 360.6 L233.7 359.6 L234.1 358.1 L234.6 359.3 L235 360.8 L235.5 362 L235.6 363 L235.7 364.7 L235.8 365.7 L235.9 366.8 L236 368.4 L236.1 369.2 L236.2 370.9 L236.4 372 L236.5 372.9 L236.6 374.5 L236.7 375.6 L236.8 377.1 L236.9 378.1 L237 379.3 L237.1 380.5 L237.2 382.1 L237.2 382.8 L237.3 384.5 L237.4 385.3 L237.5 386.7 L237.6 387.9 L237.6 389.6 L237.7 390.6 L237.8 392 L237.9 393 L238 394.5 L238 395.7 L238.1 396.6 L238.2 398.1 L238.3 399.5 L238.4 400.5 L238.4 402 L238.5 403 L238.6 404.4 L238.7 405.5 L238.7 407.1 L238.8 408.3 L238.9 409.6 L238.9 410.4 L239 411.7 L239.1 413.1 L239.1 414.3 L239.2 415.3 L239.3 416.8 L239.4 417.7 L239.4 419.3 L239.5 420.2 L239.6 421.2 L239.6 422.8 L239.7 423.6 L239.8 425.2 L239.8 426 L239.9 427.5 L240 429 L240.2 430 L240.3 431.4 L240.4 432.2 L240.6 433.8 L240.7 434.8 L240.9 436 L241 437.6 L241.1 438.3 L241.3 439.8 L241.4 440.8 L241.5 442.5 L241.7 443.8 L241.8 444.8 L242.5 445.6 L243.1 446.8 L243.8 447.9 L244.4 449.1 L245 450.1 L245.7 451 L246.9 450.9 L248.1 451.3 L249.4 450.8 L250.6 450.8 L251.8 451.2 L253 450.8 L254.2 450.8 L255.4 451 L256.7 450.9 L257.9 450.8 L259.1 451.3 L260.3 451 L261.5 451.2 L262.8 450.9 L264 451.3 L265.2 450.9 L266.4 451.3 L267.6 451.1 L268.8 451.3 L270.1 451.2 L271.3 451.1 L272.5 451.1 L273.7 451.3 L274.9 451 L276.2 450.8 L277.4 451.3 L278.6 451.3 L279.8 451.2 L281 451.2 L282.2 450.9 L283.5 451.1 L284.7 451.3 L285.9 451.4 L287.1 451.4 L288.3 450.9 L289.5 451.2 L290.8 451.2 L292 451.1 L293.2 450.9 L294.4 450.9 L295.6 451.1 L296.9 451.1 L298.1 451 L299.3 451.1 L300.5 451.2 L301.7 451.3 L302.9 451.2 L304.2 451 L305.4 451.4 L306.6 451.1 L307.8 451.4 L309 451.5 L310.3 451 L311.5 451.2 L312.7 451.5 L313.9 451.1 L315.1 451.2 L316.3 451.1 L317.6 450.9 L318.8 451 L320 451.2" stroke="#f0b060" stroke-width="1.2" fill="none" stroke-linejoin="round"/>
<path d="M185 460.7 L186.2 460.5 L187.5 460.6 L188.7 460.8 L190 460.7 L191.2 460.9 L192.5 460.8 L193.7 460.6 L195 460.9 L196.2 460.7 L197.5 460.6 L198.7 460.8 L199.9 460.7 L201.2 460.5 L202.4 460.6 L203.7 460.5 L204.9 460.8 L206.2 460.4 L207.4 460.8 L208.7 460.3 L209.9 460.2 L211.2 460.6 L212.4 460.3 L213.7 460.5 L214.9 460.5 L215 459 L215.2 458.2 L215.3 456.8 L215.4 455.6 L215.6 454.5 L215.7 453.3 L215.9 451.8 L216 450.6 L216.1 448.9 L216.3 447.7 L216.4 446.6 L216.5 445.7 L216.7 444 L216.8 442.9 L216.9 441.7 L217 440.1 L217 439.2 L217.1 438.2 L217.2 436.8 L217.3 435.7 L217.3 434 L217.4 432.9 L217.5 431.6 L217.6 430.8 L217.6 429.1 L217.7 428.4 L217.8 426.7 L217.9 425.9 L217.9 424.4 L218 423.1 L218.1 422.2 L218.2 420.7 L218.2 419.6 L218.3 418 L218.4 417.2 L218.5 416.1 L218.5 414.3 L218.6 413.5 L218.7 412.1 L218.8 410.7 L218.9 409.5 L219 408.4 L219.1 407.3 L219.2 406.3 L219.3 405.1 L219.4 403.9 L219.5 402.4 L219.6 401.2 L219.7 399.7 L219.8 398.9 L219.9 397.5 L220 396.2 L220.1 395.3 L220.2 393.7 L220.3 392.4 L220.4 391.2 L220.5 390 L220.6 389 L220.8 387.8 L221 386.7 L221.2 385 L221.4 384 L221.6 382.7 L221.8 381.5 L222 380.1 L222.2 378.9 L222.4 377.4 L222.6 376.4 L223.6 374.7 L224.5 373.5 L225.2 374.9 L225.8 376.4 L225.9 377.5 L226 379.1 L226.2 380 L226.3 381.6 L226.4 382.6 L226.5 383.7 L226.7 385.2 L226.8 386.4 L226.9 387.7 L227 389.2 L227.2 390.1 L227.3 391.6 L227.4 392.8 L227.5 394.2 L227.5 395.2 L227.6 396.4 L227.7 397.9 L227.7 398.9 L227.8 399.8 L227.8 401 L227.9 402.2 L228 403.5 L228 404.6 L228.1 406.1 L228.2 407.2 L228.2 408.3 L228.3 409.7 L228.3 411.1 L228.4 411.9 L228.5 413.1 L228.5 414.4 L228.6 415.6 L228.7 417.1 L228.7 418.2 L228.8 419.2 L228.8 420.3 L228.9 421.7 L229 422.6 L229 423.9 L229.1 425.6 L229.2 426.7 L229.3 427.6 L229.3 429.1 L229.4 429.9 L229.5 431.4 L229.6 432.5 L229.6 433.6 L229.7 435.2 L229.8 436.4 L229.9 437.5 L229.9 438.5 L230 440 L230.1 441.1 L230.2 442.5 L230.2 443.3 L230.3 444.8 L230.5 446.3 L230.7 447 L230.9 448.4 L231.1 449.7 L231.2 450.9 L231.4 452.1 L231.6 453.7 L231.8 455.1 L232 456 L232.2 457.3 L233.2 458 L234.1 459 L235.1 459.5 L236.1 460.5 L237.3 460.4 L238.5 460.6 L239.7 460.5 L241 460.3 L242.2 460.3 L243.4 460.5 L244.6 460.8 L245.8 460.8 L247 460.3 L248.2 460.5 L249.5 460.5 L250.7 460.4 L251.9 460.6 L253.1 460.5 L254.3 460.7 L255.5 460.4 L256.8 460.8 L258 460.7 L259.2 460.5 L260.4 460.4 L261.6 460.6 L262.8 460.3 L264 460.7 L265.3 460.7 L266.5 460.6 L267.7 460.9 L268.9 460.3 L270.1 460.7 L271.3 460.8 L272.6 460.4 L273.8 460.5 L275 460.3 L276.2 460.7 L277.4 460.7 L278.6 460.5 L279.8 460.7 L281.1 460.5 L282.3 460.8 L283.5 460.5 L284.7 460.9 L285.9 460.6 L287.1 460.3 L288.3 460.4 L289.6 460.8 L290.8 460.9 L292 460.7 L293.2 460.4 L294.4 460.9 L295.6 460.8 L296.9 460.4 L298.1 460.6 L299.3 460.8 L300.5 460.4 L301.7 460.4 L302.9 460.6 L304.1 460.9 L305.4 461 L306.6 460.6 L307.8 460.9 L309 460.7" stroke="#80d458" stroke-width="1.2" fill="none" stroke-linejoin="round"/>
<path d="M174 469.3 L175.3 469.5 L176.5 469.5 L177.8 469.3 L179 469.5 L180.3 469.3 L181.5 469.5 L182.8 469.2 L184 469 L185.3 469.2 L186.6 469.1 L187.8 469 L189.1 469 L190.3 469.1 L191.6 469.1 L192.8 468.9 L194.1 468.9 L195.3 469 L196.6 469 L197.2 467.9 L197.7 466.8 L198.3 465.9 L198.9 464.5 L199.4 463.7 L200 462.4 L200.6 461.7 L201.2 460.6 L201.7 459.5 L202.3 458.3 L202.5 457.1 L202.7 455.7 L202.8 454.9 L203 453.5 L203.2 452.2 L203.4 450.9 L203.6 449.8 L203.8 448.8 L203.9 447.6 L204.1 446.2 L204.3 445.2 L204.5 443.7 L204.7 442.6 L204.8 441.3 L205 440.1 L205.2 439 L205.3 437.7 L205.5 436.7 L205.6 435.5 L205.7 434 L205.9 432.8 L206 431.9 L206.1 430.6 L206.3 429.4 L206.4 428.1 L206.5 427 L206.6 425.5 L206.8 424.1 L206.9 423.1 L207 421.7 L207.2 421 L207.3 419.6 L207.4 418.4 L207.6 417.4 L207.7 415.9 L207.9 414.8 L208 413.3 L208.2 412.1 L208.4 410.7 L208.5 409.9 L208.7 408.6 L208.8 407.2 L209 405.9 L209.2 404.6 L209.3 403.5 L209.5 402.4 L209.7 401.3 L209.8 400 L210 398.6 L210.2 397.5 L210.4 396 L210.7 394.7 L210.9 393.3 L211.1 392.4 L211.3 390.7 L211.6 389.4 L211.8 388.2 L212 387 L213.9 388 L214.1 389.6 L214.3 390.9 L214.5 391.9 L214.7 393.5 L214.8 394.9 L215 395.9 L215.2 397.1 L215.4 398.6 L215.5 400 L215.6 400.9 L215.7 402 L215.8 403.7 L215.8 404.6 L215.9 405.8 L216 407.1 L216.1 408.1 L216.2 409.2 L216.3 410.6 L216.4 411.8 L216.5 412.8 L216.5 414.2 L216.6 415.6 L216.7 416.6 L216.8 417.9 L216.9 419.3 L216.9 420.5 L217 421.5 L217.1 422.6 L217.1 424.3 L217.2 425.5 L217.3 426.5 L217.3 427.7 L217.4 429.4 L217.4 430.6 L217.5 431.5 L217.6 433 L217.6 434.2 L217.7 435.3 L217.8 436.4 L217.8 437.8 L217.9 439.2 L218 440.5 L218 441.7 L218.1 442.9 L218.2 443.9 L218.3 445.2 L218.4 446.5 L218.6 447.8 L218.7 449 L218.8 450.6 L218.9 451.3 L219 453.1 L219.1 453.9 L219.2 455.5 L219.4 456.3 L219.5 457.8 L219.6 458.9 L219.7 460.2 L220.1 461.1 L220.5 462.7 L220.9 463.9 L221.4 464.8 L221.8 466.3 L222.2 467.3 L222.6 468.5 L223.8 468.8 L225 468.3 L226.2 468.5 L227.5 468.4 L228.7 468.6 L229.9 468.7 L231.1 468.8 L232.3 468.6 L233.5 468.5 L234.8 468.8 L236 468.4 L237.2 468.5 L238.4 468.8 L239.6 468.6 L240.8 469 L242.1 468.5 L243.3 468.7 L244.5 468.6 L245.7 468.4 L246.9 468.5 L248.1 468.5 L249.4 468.7 L250.6 468.8 L251.8 468.8 L253 468.7 L254.2 469 L255.4 468.9 L256.7 469.2 L257.9 468.7 L259.1 468.9 L260.3 468.9 L261.5 468.8 L262.7 469.1 L263.9 468.8 L265.2 469.2 L266.4 468.9 L267.6 468.9 L268.8 469.1 L270 469 L271.2 468.9 L272.5 468.8 L273.7 469.3 L274.9 469 L276.1 468.8 L277.3 469.2 L278.5 469.1 L279.8 469 L281 469 L282.2 469.3 L283.4 469 L284.6 469.1 L285.8 469.4 L287.1 469.1 L288.3 469.1 L289.5 469 L290.7 469.3 L291.9 469.3 L293.1 469.2 L294.4 469.2 L295.6 469.1 L296.8 469.5 L298 469.3" stroke="#34562a" stroke-width="1.3" fill="none" stroke-linejoin="round"/>
<path d="M163.5 478.8 L164.8 478.8 L166 479 L167.3 478.7 L168.5 478.9 L169.8 478.4 L171 478.5 L172.3 479 L173.5 478.8 L174.8 478.8 L176 478.7 L177.3 478.6 L178.5 478.4 L179.8 478.4 L181 478.7 L182.3 478.7 L183.5 478.4 L184.8 478.6 L186 478.3 L187.3 478.6 L188.5 478.3 L189.8 478.5 L189.9 477.3 L190 476 L190.1 474.9 L190.2 473.4 L190.3 472.4 L190.4 471.3 L190.5 469.8 L190.5 468.7 L190.6 467.7 L190.7 466.4 L190.8 465.3 L190.9 464.2 L191 462.8 L191.1 461.4 L191.2 460.3 L191.3 459.3 L191.4 458 L191.5 456.9 L191.6 455.4 L191.7 454.3 L191.8 453.4 L191.9 452.1 L192 450.8 L192 449.2 L192.1 448.3 L192.2 446.8 L192.3 446.1 L192.4 444.9 L192.5 443.6 L192.6 442.1 L192.7 441 L192.8 440 L192.9 438.4 L193.1 437.6 L193.2 436.2 L193.3 434.7 L193.4 434 L193.5 432.5 L193.7 431.5 L193.8 430.2 L193.9 428.9 L194 427.9 L194.1 426.3 L194.3 425.5 L194.4 424 L194.5 422.6 L194.6 421.6 L194.8 420.2 L194.9 419 L195 418.1 L195.1 416.6 L195.2 415.4 L195.4 414.3 L195.5 413.1 L195.6 412 L195.8 411 L195.9 409.7 L196.1 408.4 L196.2 407.2 L196.4 405.6 L196.6 404.5 L196.7 402.9 L196.9 402.1 L197 400.7 L197.2 399.4 L197.3 397.8 L197.5 396.7 L198 395.2 L198.4 394.4 L198.9 392.8 L200 394.7 L200.5 393.5 L200.9 392.2 L201.4 390.9 L201.6 392.4 L201.8 393.3 L202.1 394.9 L202.3 396 L202.5 397.5 L202.7 398.6 L202.8 399.8 L202.9 400.8 L203 402.5 L203 403.3 L203.1 404.8 L203.2 406.1 L203.3 407 L203.4 408.4 L203.5 409.5 L203.5 410.6 L203.6 411.8 L203.7 413.5 L203.8 414.3 L203.9 415.6 L204 416.8 L204 417.8 L204.1 419.4 L204.2 420.6 L204.3 421.7 L204.4 423.1 L204.4 424 L204.5 425.1 L204.6 426.4 L204.6 427.9 L204.7 429 L204.7 430.1 L204.8 431.3 L204.9 432.3 L204.9 434 L205 434.9 L205.1 436.2 L205.1 437.5 L205.2 438.4 L205.2 439.9 L205.3 440.9 L205.4 442.4 L205.4 443.1 L205.5 444.4 L205.6 445.9 L205.6 447 L205.7 448.1 L205.7 449.4 L205.8 450.6 L205.9 451.6 L206 453 L206.1 453.9 L206.2 455.6 L206.2 456.5 L206.3 458 L206.4 459.1 L206.5 460.3 L206.6 461.5 L206.7 462.4 L206.8 464 L206.8 465 L206.9 466.5 L207 467.7 L207.1 468.8 L207.2 469.9 L207.5 471.4 L207.8 472.4 L208.1 473.9 L208.5 475.3 L208.8 476.1 L209.1 477.6 L210.6 478 L212 478.8" stroke="#c4a49c" stroke-width="1.2" fill="none" stroke-linejoin="round"/>
<text x="182.5" y="485.5" font-size="3.6" fill="#888" text-anchor="middle">10<tspan font-size="2.7" dy="-1.4">1</tspan></text>
<text x="215.4" y="485.5" font-size="3.6" fill="#888" text-anchor="middle">10<tspan font-size="2.7" dy="-1.4">2</tspan></text>
<text x="248.3" y="485.5" font-size="3.6" fill="#888" text-anchor="middle">10<tspan font-size="2.7" dy="-1.4">3</tspan></text>
<text x="281.2" y="485.5" font-size="3.6" fill="#888" text-anchor="middle">10<tspan font-size="2.7" dy="-1.4">4</tspan></text>
<line x1="164.3" y1="497.3" x2="227.6" y2="497.3" stroke="#000" stroke-width="1.1"/>
<path d="M233.6 497.3 L226.6 495.1 L228.6 497.3 L226.6 499.5 Z" fill="#000"/>
<text x="165.2" y="507.7" font-size="7.1">Cell surface PCNA</text>
<text x="333.8" y="420" font-size="10.2">clone</text>
<text x="351.3" y="433.1" font-size="10.2" fill="#c83040">1</text>
<text x="340.6" y="442.3" font-size="10.2" fill="#40c8e8">15</text>
<text x="332.1" y="452.3" font-size="10.2" fill="#e8b040">25</text>
<text x="321.3" y="463.8" font-size="10.2" fill="#40d848">27</text>
<text x="309.8" y="473" font-size="10.2" fill="#2d6a20">32</text>
<text x="297.7" y="483" font-size="7.6">Isotype</text>
<text x="297.7" y="491.5" font-size="7.6">control</text>
<line x1="336" y1="481.4" x2="392.5" y2="434.9" stroke="#d0d0d0" stroke-width="0.7"/>
<line x1="343" y1="481.4" x2="399.5" y2="434.9" stroke="#d0d0d0" stroke-width="0.7"/>
<line x1="350" y1="481.4" x2="406.5" y2="434.9" stroke="#d0d0d0" stroke-width="0.7"/>
<line x1="357" y1="481.4" x2="413.5" y2="434.9" stroke="#d0d0d0" stroke-width="0.7"/>
<line x1="364" y1="481.4" x2="420.5" y2="434.9" stroke="#d0d0d0" stroke-width="0.7"/>
<line x1="371" y1="481.4" x2="427.5" y2="434.9" stroke="#d0d0d0" stroke-width="0.7"/>
<line x1="378" y1="481.4" x2="434.5" y2="434.9" stroke="#d0d0d0" stroke-width="0.7"/>
<line x1="385" y1="481.4" x2="441.5" y2="434.9" stroke="#d0d0d0" stroke-width="0.7"/>
<line x1="392" y1="481.4" x2="448.5" y2="434.9" stroke="#d0d0d0" stroke-width="0.7"/>
<line x1="399" y1="481.4" x2="455.5" y2="434.9" stroke="#d0d0d0" stroke-width="0.7"/>
<line x1="406" y1="481.4" x2="462.5" y2="434.9" stroke="#d0d0d0" stroke-width="0.7"/>
<line x1="413" y1="481.4" x2="469.5" y2="434.9" stroke="#d0d0d0" stroke-width="0.7"/>
<line x1="420" y1="481.4" x2="476.5" y2="434.9" stroke="#d0d0d0" stroke-width="0.7"/>
<line x1="427" y1="481.4" x2="483.5" y2="434.9" stroke="#d0d0d0" stroke-width="0.7"/>
<line x1="434" y1="481.4" x2="490.5" y2="434.9" stroke="#d0d0d0" stroke-width="0.7"/>
<line x1="441" y1="481.4" x2="497.5" y2="434.9" stroke="#d0d0d0" stroke-width="0.7"/>
<line x1="448" y1="481.4" x2="504.5" y2="434.9" stroke="#d0d0d0" stroke-width="0.7"/>
<line x1="455" y1="481.4" x2="511.5" y2="434.9" stroke="#d0d0d0" stroke-width="0.7"/>
<line x1="353.8" y1="481.4" x2="410.3" y2="434.9" stroke="#444" stroke-width="0.9"/>
<line x1="385" y1="481.4" x2="441.5" y2="434.9" stroke="#444" stroke-width="0.9"/>
<line x1="417.9" y1="481.4" x2="474.4" y2="434.9" stroke="#444" stroke-width="0.9"/>
<line x1="449" y1="481.4" x2="505.5" y2="434.9" stroke="#444" stroke-width="0.9"/>
<line x1="338" y1="481.4" x2="454" y2="481.4" stroke="#c8a8a0" stroke-width="0.9" stroke-dasharray="2 1.2"/>
<path d="M392 434.8 L393.2 434.7 L394.4 434.8 L395.6 434.5 L396.8 434.5 L398 435 L399.2 434.6 L400.4 434.4 L401.6 434.4 L402.8 434.7 L404 434.4 L405.2 434.6 L406.4 434.6 L407.6 434.5 L408.8 434.5 L410 434.5 L411.3 434.5 L412.5 433.6 L413.8 434 L415 433.2 L416.3 433.1 L417.4 431.9 L418.4 431.6 L419.5 430.6 L420.5 429.8 L421.6 428.9 L422.2 427.5 L422.8 426.7 L423.4 425.1 L424.1 424.2 L424.7 422.6 L425.3 421.7 L425.9 420.4 L426.2 419.2 L426.5 417.8 L426.8 416.6 L427.1 415 L427.4 414.2 L427.8 412.9 L428.1 411.3 L428.4 410.3 L428.7 409.1 L429 407.7 L429.3 406.2 L429.5 405.5 L429.8 404.3 L430.1 402.5 L430.3 401.4 L430.6 400 L430.9 398.9 L431.1 397.5 L431.4 396.6 L431.7 395.2 L431.9 394 L432.2 392.9 L432.4 391.6 L432.7 390.3 L432.9 389.4 L433.1 388.1 L433.4 386.5 L433.6 385.3 L433.8 383.9 L434.1 382.9 L434.3 381.5 L434.5 380.7 L434.8 379.5 L435 378.1 L435.3 377.3 L435.6 375.5 L435.8 374.2 L436.1 373.6 L436.4 372.1 L436.7 371.3 L436.9 369.8 L437.2 368.5 L437.5 367.5 L437.9 366 L438.2 365.3 L438.6 363.8 L438.9 362.5 L439.2 361.3 L439.6 360.1 L440.3 359.2 L441 358.2 L441.7 356.9 L443.8 355.9 L444.6 356.9 L445.5 358 L445.9 356.4 L446.2 355.3 L446.6 354.3 L447 352.7 L447.7 351.6 L448.4 350.7 L449.1 349.5 L449.3 350.7 L449.5 351.8 L449.7 353.1 L449.9 354.1 L450 355.5 L450.2 356.9 L450.4 357.5 L450.6 359 L450.8 360.1 L451.1 361.7 L451.3 363 L451.6 363.5 L451.8 365.2 L452.1 366.4 L452.3 367.5 L453 368.8 L453.7 369.6 L454.4 370.7 L454.8 371.7 L455.1 373 L455.4 374.5 L455.8 375.8 L456.1 376.7 L456.5 378.1 L456.9 379.5 L457.4 380.7 L457.8 382 L458.3 382.8 L458.7 384.4 L458.9 385.5 L459.2 386.6 L459.4 388 L459.6 389 L459.9 390 L460.1 391.6 L460.3 392.5 L460.6 394 L460.8 395 L461 396 L461.3 397.4 L461.5 398.7 L461.7 399.4 L462 401.1 L462.2 401.8 L462.4 403.5 L462.7 404.1 L462.9 405.6 L463.2 407 L463.5 407.9 L463.8 409 L464.1 410.3 L464.4 411.6 L464.7 412.7 L465 414 L465.3 414.9 L465.6 416.4 L465.9 417.5 L466.2 419.2 L466.5 420 L466.8 421.2 L467.1 422.5 L467.7 423.6 L468.4 425.4 L469 426.2 L469.7 427.7 L470.3 428.9 L471.4 430.2 L472.4 430.9 L473.4 432.2 L474.5 433.1 L475.7 433.2 L477 433.4 L478.2 433.6 L479.4 434.2 L480.7 434.8 L481.9 434.8 L483.1 434.6 L484.3 434.8 L485.6 435 L486.8 434.6 L488 434.6 L489.2 434.8 L490.5 434.7 L491.7 435.1 L492.9 435.1 L494.1 434.6 L495.4 434.8 L496.6 434.7 L497.8 434.5 L499 434.8 L500.2 435.1 L501.5 434.7 L502.7 434.9 L503.9 434.9 L505.1 434.5 L506.4 435.1 L507.6 434.5 L508.8 434.7 L510 435 L511.3 434.5 L512.5 434.7 L513.7 434.8" stroke="#d45a6a" stroke-width="1.2" fill="none" stroke-linejoin="round"/>
<path d="M381.5 444.1 L382.8 443.8 L384 444 L385.2 443.7 L386.5 443.8 L387.8 443.8 L389 443.7 L390.2 443.7 L391.5 443.8 L392.8 444 L394 443.7 L395.2 444.1 L396.5 443.8 L397.8 443.7 L399 443.7 L400.2 444.1 L401.5 443.5 L402.8 444 L404 443.8 L404.9 442.6 L405.8 442.2 L406.6 440.9 L407.5 440 L408 438.9 L408.5 437.9 L409 436.1 L409.5 434.9 L410 434 L410.5 433 L410.9 431.8 L411.4 430.8 L411.9 429.4 L412.3 428.4 L412.8 427.1 L413.3 426.2 L413.7 425 L414.2 424 L414.6 422.8 L414.9 421.4 L415.3 420.2 L415.6 419.2 L416 417.6 L416.3 416.9 L416.7 415.4 L417 414 L417.4 413 L417.7 411.5 L418 410.6 L418.4 409.4 L418.7 408.4 L419 406.9 L419.3 405.7 L419.6 404.9 L420 403.2 L420.3 402.5 L420.6 401 L420.9 400.1 L421.1 398.9 L421.4 397.7 L421.7 396 L421.9 395.2 L422.2 393.8 L422.5 392.3 L422.7 391.7 L423 390.2 L423.3 389.1 L423.5 387.7 L423.8 386.5 L424.1 384.9 L424.3 384.2 L424.6 382.5 L424.9 381.3 L425.1 380.2 L425.4 378.7 L425.7 377.6 L426 376.5 L426.2 374.8 L426.5 373.8 L426.8 372.7 L427.1 371.1 L427.4 370.2 L427.8 369.2 L428.1 368 L428.4 366.4 L428.7 365.3 L429 364.3 L429.9 365.7 L430.7 366.4 L431.4 364.8 L432.2 363.3 L434.3 363.3 L435.4 364.3 L436.4 365.4 L436.9 366.6 L437.5 368.2 L438.1 369.5 L438.6 370.7 L438.9 372 L439.1 373 L439.4 374.3 L439.6 375.5 L439.9 376.4 L440.2 378.1 L440.4 379.3 L440.7 380.2 L440.9 381.6 L441.2 382.9 L441.4 383.7 L441.6 385.1 L441.9 385.9 L442.1 387.4 L442.3 388.6 L442.6 389.9 L442.8 390.8 L443.1 392.3 L443.3 393.7 L443.6 394.6 L443.9 396.3 L444.1 397.3 L444.4 398.5 L444.6 399.9 L444.9 401.3 L445.2 402.7 L445.5 404 L445.8 405.2 L446.1 406.3 L446.4 407.1 L446.7 408.3 L447 409.8 L447.3 411.1 L447.6 412 L447.9 413.3 L448.2 414.4 L448.5 415.6 L448.8 417.2 L449.1 418.3 L449.5 419.3 L449.8 420.9 L450.2 421.7 L450.5 423.3 L450.9 424.1 L451.2 425.2 L451.6 426.5 L451.9 427.4 L452.3 428.9 L452.8 430.1 L453.4 431.3 L453.9 432.3 L454.4 434.1 L455 435 L455.5 436.3 L456.3 437 L457.2 438.7 L458 439.2 L458.9 440.3 L459.7 441.5 L460.9 441.6 L462.2 442.1 L463.4 442.9 L464.6 443.3 L465.9 443.7 L467.1 444.1 L468.3 443.9 L469.5 444 L470.7 444.4 L471.9 444 L473.2 444.4 L474.4 444.4 L475.6 443.8 L476.8 444.3 L478 443.8 L479.2 444.2 L480.4 444.3 L481.6 444.2 L482.8 444.1 L484.1 444.3 L485.3 443.9 L486.5 444.1 L487.7 443.9 L488.9 444 L490.1 443.9 L491.3 444.2 L492.5 444.2 L493.7 444.3 L494.9 444.2 L496.2 444.2 L497.4 444.4 L498.6 444.3 L499.8 444.1 L501 444.1" stroke="#48c4e0" stroke-width="1.3" fill="none" stroke-linejoin="round"/>
<path d="M369.4 453.2 L370.6 453.1 L371.9 453.5 L373.1 453 L374.3 452.8 L375.6 453 L376.8 453.2 L378 453.3 L379.2 453.1 L380.5 453.1 L381.7 453.3 L382.9 453.2 L384.2 452.9 L385.4 452.9 L386.6 453.1 L387.9 452.7 L389.1 452.6 L390.3 452.9 L391.5 453 L392.8 452.6 L394 452.9 L395.2 453 L396.5 452.5 L397.7 452.7 L398.5 451.3 L399.2 450.4 L400 449.1 L400.7 448.4 L401.5 446.9 L401.8 446 L402 444.4 L402.3 443.5 L402.6 442.1 L402.8 440.6 L403.1 439.9 L403.3 438.1 L403.6 436.9 L403.9 435.9 L404.1 434.4 L404.4 433.5 L404.6 432.2 L404.7 430.9 L404.9 430 L405 428.3 L405.2 427.3 L405.4 426 L405.5 424.6 L405.7 423 L405.8 421.8 L406 420.7 L406.1 419.3 L406.3 418.1 L406.4 417 L406.6 415.6 L406.7 414.3 L406.9 413.2 L407 412.3 L407.2 410.5 L407.3 409.3 L407.4 407.9 L407.6 406.7 L407.7 405.4 L407.9 404.5 L408 403.5 L408.2 402.2 L408.3 400.8 L408.4 399.8 L408.6 398.5 L408.7 397 L408.9 395.7 L409 394 L409.2 393 L409.3 391.6 L409.5 390.6 L409.6 389.2 L410 387.8 L410.4 386.9 L410.7 385.7 L411.1 384.6 L411.5 383.5 L412 382.1 L412.6 380.6 L413.1 379.6 L413.9 378.3 L414.6 376.7 L416.5 377.7 L417.5 379.2 L418.5 380.2 L419.1 381.3 L419.7 382.1 L420.4 383.4 L421 384.7 L421.6 385.5 L422.1 387.1 L422.7 388.1 L423.2 388.9 L423.7 390.7 L424.3 391.8 L424.8 392.9 L425.9 393.8 L426.9 395.3 L428 396.1 L428.7 397.4 L429.4 398.4 L430.1 399.2 L430.3 400.2 L430.6 401.6 L430.8 402.6 L431 403.8 L431.3 405.3 L431.5 406.3 L431.7 407.3 L432 408.7 L432.2 409.8 L432.5 411.4 L432.8 412.4 L433.2 413.9 L433.5 414.9 L433.8 416.5 L434.1 417.1 L434.4 418.7 L434.8 420 L435.1 421.4 L435.4 422.5 L435.8 424 L436.1 424.9 L436.5 426 L436.8 427.3 L437.2 428.4 L437.5 429.7 L437.9 431.1 L438.2 431.6 L438.6 433.1 L439.1 434.2 L439.5 435.7 L440 436.3 L440.5 438 L440.9 438.7 L441.4 440.3 L441.9 441.6 L442.3 442.3 L442.8 443.7 L443.5 444.7 L444.2 445.6 L444.9 447 L445.6 447.9 L446.3 449 L447 450 L448.1 450.5 L449.1 451.3 L450.2 452.2 L451.2 452.8 L452.3 453.2 L453.5 453.5 L454.8 453 L456 453.2 L457.3 453.1 L458.5 453.1 L459.7 453.4 L461 453 L462.2 453.2 L463.5 453.4 L464.7 453.5 L465.9 452.9 L467.2 453 L468.4 453.2 L469.6 453.5 L470.9 453 L472.1 453.4 L473.4 453.1 L474.6 453.2 L475.8 453.5 L477.1 452.9 L478.3 453.1 L479.6 453 L480.8 452.9 L482 453.1 L483.3 453.3 L484.5 453.3 L485.8 452.9 L487 453.2" stroke="#f0b060" stroke-width="1.2" fill="none" stroke-linejoin="round"/>
<path d="M359 462.5 L360.2 462.7 L361.4 462.5 L362.7 462.2 L363.9 462.7 L365.1 462.7 L366.3 462.3 L367.5 462.8 L368.7 462.7 L370 462.2 L371.2 462.1 L372.4 462.7 L373.6 462.6 L374.8 462.1 L376.1 462.6 L377.3 462.6 L378.5 462.5 L379.7 462.6 L380.9 462.7 L382.2 462.2 L383.4 462.6 L384.6 462.6 L385.8 462.2 L387 462.5 L388.2 462.5 L389.5 462.6 L390.7 462.4 L391.9 462.3 L392.5 461 L393 459.9 L393.6 459 L394.1 457.6 L394.7 457.1 L395.2 456 L395.8 454.6 L396 453.1 L396.2 452.2 L396.4 450.9 L396.6 449.2 L396.9 448.4 L397.1 447.1 L397.3 445.5 L397.5 444.1 L397.7 443.1 L397.9 441.7 L398 440.7 L398.2 439.2 L398.3 438.2 L398.5 436.4 L398.6 435.1 L398.8 434 L399 433.1 L399.1 431.3 L399.3 430 L399.4 429.2 L399.6 427.7 L399.7 426.1 L399.9 425.3 L400 423.6 L400.1 422.4 L400.3 421.4 L400.4 420.3 L400.5 418.7 L400.7 417.4 L400.8 415.8 L400.9 414.8 L401.1 413.4 L401.2 412.3 L401.3 411.3 L401.4 410 L401.6 408.8 L401.7 407.4 L401.8 406.3 L401.9 404.7 L402 403.6 L402.1 402.3 L402.3 401.1 L402.4 400.2 L402.5 398.8 L402.7 397.4 L403 396.3 L403.2 395 L403.4 394.3 L403.7 392.9 L403.9 391.6 L404.2 390.3 L404.4 389.2 L404.7 388.2 L405 386.9 L405.4 385.3 L405.7 384.1 L406 383 L406.3 381.5 L406.8 379.9 L407.3 378.7 L407.6 379.9 L407.9 381.1 L408.2 382.7 L408.5 384.2 L408.8 385.4 L410.2 387.3 L410.5 385.7 L410.7 384.6 L411 383.6 L411.2 381.9 L411.5 380.6 L412.7 378.7 L412.9 379.8 L413.1 381.4 L413.3 382.7 L413.4 383.5 L413.6 384.6 L413.8 386.2 L414 387.3 L414.4 388.8 L414.7 390.3 L415.1 391.4 L415.4 392.5 L415.8 394 L416.1 395.3 L416.5 396.5 L416.9 398 L417.2 399.3 L417.5 401 L417.9 402 L418.1 403.5 L418.3 404.7 L418.5 405.6 L418.7 407.1 L418.9 407.7 L419.2 409.5 L419.4 410.5 L419.6 411.9 L419.8 412.7 L420 414 L420.2 415.6 L420.4 416.2 L420.5 418.1 L420.7 419.3 L420.9 420.3 L421.1 421.9 L421.3 422.7 L421.5 424.4 L421.6 425.4 L421.8 426.7 L422 428 L422.2 429 L422.4 430.7 L422.6 431.9 L422.8 432.7 L423 434.6 L423.2 435.3 L423.5 436.7 L423.7 437.9 L423.9 439.3 L424.1 440.8 L424.3 442.1 L424.5 443 L424.8 444.3 L425.2 445.4 L425.5 446.4 L425.8 447.6 L426.2 449.1 L426.5 450.4 L426.8 451.5 L427.2 453.1 L427.5 454 L428.2 455 L428.9 456.1 L429.6 457.2 L430.3 458.2 L431 459.5 L432.1 460.4 L433.2 460.7 L434.3 461.3 L435.4 461.8 L436.6 461.8 L437.8 461.7 L439.1 461.7 L440.3 461.9 L441.5 461.9 L442.7 462.3 L444 462 L445.2 461.8 L446.4 461.7 L447.6 461.8 L448.9 461.9 L450.1 462.2 L451.3 462.3 L452.5 461.9 L453.8 462.3 L455 462.1 L456.2 462.2 L457.4 462.2 L458.6 461.9 L459.9 461.9 L461.1 462.3 L462.3 462.4 L463.5 462.2 L464.8 462.6 L466 462.5 L467.2 462.2 L468.4 462.1 L469.7 462.4 L470.9 462.5 L472.1 462.2 L473.3 462.1 L474.6 462.4 L475.8 462.2 L477 462.5" stroke="#80d458" stroke-width="1.2" fill="none" stroke-linejoin="round"/>
<path d="M348.7 471.8 L349.9 471.9 L351.1 471.8 L352.3 471.5 L353.5 471.6 L354.7 471.4 L356 471.4 L357.2 471.3 L358.4 471.7 L359.6 471.5 L360.8 471.6 L362 471.3 L363.2 471.6 L364.4 471.4 L365.6 471.4 L366.8 471.2 L368 471.3 L369.2 471 L370.5 471.5 L371.7 471.3 L372.9 471.1 L374.1 471.2 L375.3 470.8 L376.5 471 L377.2 469.7 L377.9 468.4 L378.7 467.6 L379.4 466.2 L379.8 464.6 L380.1 463.7 L380.5 462.8 L380.9 461.5 L381.2 460.3 L381.6 458.8 L381.9 457.5 L382.3 456.5 L382.6 455.4 L382.8 453.9 L383.1 453 L383.4 451.5 L383.6 450.6 L383.9 449.2 L384.1 448.2 L384.4 447.1 L384.7 445.5 L384.9 444.7 L385.2 443.1 L385.4 441.5 L385.5 440.8 L385.7 438.9 L385.8 438 L386 436.6 L386.1 435.6 L386.3 434 L386.5 432.6 L386.6 431.7 L386.8 430.3 L386.9 429.2 L387.1 427.7 L387.2 426.5 L387.3 424.9 L387.4 424.2 L387.5 422.6 L387.6 421.5 L387.6 420 L387.7 418.9 L387.8 418 L387.9 416.8 L388 415.5 L388.1 414.2 L388.2 412.9 L388.4 411.9 L388.5 410.7 L388.6 409.1 L388.8 408.1 L388.9 407 L389.1 405.8 L389.2 404.2 L389.3 403.1 L389.5 401.9 L389.6 400.8 L390.6 399.5 L391.5 398.8 L392.2 397.4 L392.8 396.4 L393.5 395 L393.9 393.8 L394.3 392.2 L394.6 391.3 L395 389.6 L395.4 388.8 L395.8 387.3 L396.3 388.4 L396.8 389.6 L397.3 391.2 L397.8 392.3 L398.2 393.7 L398.7 395 L400 393.1 L400.2 394.2 L400.5 395.9 L400.8 397.3 L401 398.1 L401.2 399.7 L401.5 400.8 L401.8 402.1 L402 403.2 L402.2 404.2 L402.5 405.6 L404.4 406.5 L404.8 408 L405.2 409.1 L405.5 409.6 L405.9 411 L406.3 412.3 L406.7 413.3 L407.1 414.4 L407.5 415.7 L407.9 417.2 L408.3 418.1 L408.6 419.1 L408.9 420.9 L409.2 421.8 L409.6 422.9 L409.9 424.8 L410.2 425.8 L410.6 426.8 L411 427.9 L411.3 429 L411.7 430.3 L412.1 431.5 L412.3 432.5 L412.5 433.9 L412.7 435.2 L412.9 436.7 L413.2 437.9 L413.4 439.1 L413.6 440.5 L413.8 442 L414 443.1 L414.2 444.5 L414.5 445.4 L414.8 447 L415 448.1 L415.2 449.1 L415.5 450.3 L415.8 451.4 L416 452.7 L416.5 453.7 L416.9 455.5 L417.4 456.6 L417.9 457.6 L418.3 459.4 L418.8 460.4 L419.4 461.8 L419.9 462.3 L420.5 463.8 L421 464.6 L421.6 465.9 L422.1 467.2 L422.7 468.1 L423.9 468.7 L425.1 469.5 L426.3 470.4 L427.5 471 L428.7 470.8 L429.9 471.1 L431.1 471 L432.3 471.4 L433.5 470.9 L434.7 471.3 L435.9 470.9 L437.1 471 L438.3 471 L439.5 471 L440.7 471.3 L441.9 471.1 L443.1 471.5 L444.3 471.1 L445.5 471.5 L446.8 471.7 L448 471.2 L449.2 471.3 L450.4 471.7 L451.6 471.5 L452.8 471.8 L454 471.4 L455.2 471.5 L456.4 471.9 L457.6 471.5 L458.8 472 L460 471.9 L461.2 471.5 L462.4 471.8 L463.6 472.1 L464.8 471.5 L466 471.8" stroke="#34562a" stroke-width="1.3" fill="none" stroke-linejoin="round"/>
<path d="M364 481 L364.1 480 L364.3 478.7 L364.4 477.4 L364.5 476.1 L364.7 474.5 L364.8 473.8 L364.9 472 L365.1 471.2 L365.2 469.9 L365.3 468.4 L365.5 467.4 L365.6 466 L365.7 464.9 L365.9 463.3 L366 462.3 L366.1 461.4 L366.2 459.8 L366.2 458.9 L366.3 457.5 L366.4 456.5 L366.5 455 L366.6 453.9 L366.6 452.4 L366.7 451.5 L366.8 450 L366.9 449.3 L366.9 448 L367 446.7 L367.1 445.8 L367.2 444.6 L367.3 443.4 L367.3 441.6 L367.4 440.8 L367.5 439.6 L367.6 438.4 L367.7 436.8 L367.7 436.2 L367.8 434.7 L367.9 433.5 L368 432.4 L368.1 431.3 L368.1 429.7 L368.2 428.4 L368.3 427.7 L368.4 426.1 L368.5 424.8 L368.5 423.6 L368.6 422.9 L368.7 421.6 L368.8 420.1 L368.9 418.8 L369 418.1 L369 416.7 L369.1 415.5 L369.2 414.2 L369.4 412.8 L369.7 411.7 L369.9 410.8 L370.1 409 L370.3 408 L370.6 406.6 L370.8 405.6 L371.2 407.3 L371.7 408.5 L372.1 406.8 L372.4 405.9 L372.8 404.4 L373.1 402.7 L373.3 404.1 L373.5 405 L373.6 406.7 L373.8 407.8 L374 409.1 L374.2 410.4 L374.3 411.4 L374.3 412.9 L374.4 414.3 L374.5 415.1 L374.6 416.8 L374.6 417.8 L374.7 418.9 L374.8 420.1 L374.8 421.5 L374.9 422.8 L375 424 L375.1 425.5 L375.1 426.5 L375.2 427.7 L375.3 428.9 L375.3 430.4 L375.4 431.1 L375.4 432.2 L375.5 433.6 L375.5 434.8 L375.6 435.9 L375.6 437.3 L375.7 438.2 L375.7 440 L375.8 440.9 L375.9 442.3 L375.9 443.4 L376 444.6 L376 445.9 L376.1 446.8 L376.1 448.2 L376.2 449.1 L376.2 450.5 L376.3 451.8 L376.3 453.1 L376.4 453.9 L376.4 455.2 L376.5 456.5 L376.6 457.9 L376.7 459.2 L376.8 460.5 L377 461.2 L377.1 462.5 L377.2 463.7 L377.3 465.3 L377.4 466.5 L377.5 467.7 L377.6 469 L377.8 470.1 L377.9 471.4 L378 472.8 L378.1 473.8 L378.5 475.1 L378.9 476.3 L379.2 477.5 L379.6 478.6 L380 480 L380.4 481" stroke="#c4a49c" stroke-width="1.2" fill="none" stroke-linejoin="round"/>
<text x="353.8" y="490.5" font-size="3.6" fill="#888" text-anchor="middle">10<tspan font-size="2.7" dy="-1.4">1</tspan></text>
<text x="385" y="490.5" font-size="3.6" fill="#888" text-anchor="middle">10<tspan font-size="2.7" dy="-1.4">2</tspan></text>
<text x="417.9" y="490.5" font-size="3.6" fill="#888" text-anchor="middle">10<tspan font-size="2.7" dy="-1.4">3</tspan></text>
<text x="449" y="490.5" font-size="3.6" fill="#888" text-anchor="middle">10<tspan font-size="2.7" dy="-1.4">4</tspan></text>
<line x1="337.8" y1="498.7" x2="400.1" y2="498.7" stroke="#000" stroke-width="1.1"/>
<path d="M406.1 498.7 L399.1 496.5 L401.1 498.7 L399.1 500.9 Z" fill="#000"/>
<text x="339.5" y="509.4" font-size="7.1">Cell surface PCNA</text>
<text x="10.9" y="532.5" font-size="17.8">F</text>
<text x="95" y="535.8" font-size="9">siRNA</text>
<text x="95" y="545.8" font-size="9">Control</text>
<text x="139.6" y="535.8" font-size="9">siRNA</text>
<text x="139.6" y="545.8" font-size="9">PCNA</text>
<defs><filter id="bl" x="-20%" y="-50%" width="140%" height="200%"><feGaussianBlur stdDeviation="0.9"/></filter><filter id="bl2" x="-20%" y="-50%" width="140%" height="200%"><feGaussianBlur stdDeviation="0.6"/></filter></defs>
<rect x="90.6" y="550.9" width="77.4" height="27.5" stroke="#111" stroke-width="1.5" fill="#f3f3f3"/>
<rect x="90.6" y="581.6" width="77.4" height="27.8" stroke="#111" stroke-width="1.5" fill="#ececec"/>
<path d="M96.3 565 C97 563.6 104 563.6 110 563.4 C116 562.8 123 562.9 125.8 564.4 C126.6 565.5 125.5 566.9 120 567.2 C112 567.4 104 566.6 97.5 566.4 C96.6 566.2 96.2 565.6 96.3 565 Z" fill="#0a0a0a" filter="url(#bl2)"/>
<ellipse cx="139.5" cy="565" rx="4" ry="1.4" fill="#dcdcdc" filter="url(#bl)"/>
<path d="M96 595.8 C102 594.8 110 594.4 116 594 C120 593.6 124 593.8 124.5 594.6 C122 596.2 112 596.6 104 596.6 C100 596.6 97 596.6 96 595.8 Z" fill="#7a7a7a" filter="url(#bl2)"/>
<path d="M136.5 594.4 C142 593.4 148 593.2 153 592.6 C157 591.6 162 591.4 164 592.2 C164.6 593.4 161 594.2 156 594.4 C149 595 142 595.4 136.5 594.4 Z" fill="#5a5a5a" filter="url(#bl2)"/>
<text x="7.8" y="569.7" font-size="11.4">PCNA (29 kDa)</text>
<text x="0.5" y="595.7" font-size="11.1">β-Actin (42 kDa)</text>
<line x1="36.5" y1="640.8" x2="36.5" y2="719.2" stroke="#111" stroke-width="1.3"/>
<line x1="35.8" y1="719.2" x2="138.4" y2="719.2" stroke="#111" stroke-width="1.3"/>
<line x1="34.3" y1="640.8" x2="36.5" y2="640.8" stroke="#111" stroke-width="1.2"/>
<text x="32.5" y="644.5" font-size="10.4" text-anchor="end">30</text>
<line x1="34.3" y1="666.9" x2="36.5" y2="666.9" stroke="#111" stroke-width="1.2"/>
<text x="32.5" y="670.6" font-size="10.4" text-anchor="end">20</text>
<line x1="34.3" y1="693.1" x2="36.5" y2="693.1" stroke="#111" stroke-width="1.2"/>
<text x="32.5" y="696.8000000000001" font-size="10.4" text-anchor="end">10</text>
<line x1="34.3" y1="719.2" x2="36.5" y2="719.2" stroke="#111" stroke-width="1.2"/>
<text x="32.5" y="722.9000000000001" font-size="10.4" text-anchor="end">0</text>
<rect x="53.1" y="660.8" width="21.8" height="58.4" stroke="#000" stroke-width="0.5" fill="#000"/>
<rect x="107.3" y="711" width="21.1" height="8.2" stroke="#000" stroke-width="0.5" fill="#000"/>
<text x="13.4" y="683.5" font-size="8" text-anchor="middle" transform="rotate(-90 13.4 683.5)">Arbitrary unit</text>
<text x="63.6" y="733.8" font-size="6.85" text-anchor="middle">siRNA Control</text>
<text x="117.8" y="733.8" font-size="6.8" text-anchor="middle">siRNA PCNA</text>
<text x="218" y="618.5" font-size="8.4" text-anchor="middle">α-PCNA (14-25-9)</text>
<rect x="167.3" y="623.9" width="99" height="93.5" stroke="#333" stroke-width="1" fill="none"/>
<line x1="167.3" y1="717.4" x2="266.3" y2="717.4" stroke="#555" stroke-width="0.8"/>
<path d="M168 717 L169.3 716.9 L170.6 716.5 L171.9 716.6 L173.2 716.4 L174.5 716.3 L175.8 716.3 L177 716 L178.3 715.9 L179.6 715.8 L180.9 715.7 L182.2 716 L183.5 715.5 L184.7 714.6 L185.8 713.8 L187 713.7 L188.1 712.8 L189.3 712.2 L190.4 711.6 L191.6 710.9 L192.2 709.8 L192.9 708.7 L193.5 707.5 L194.1 707.1 L194.8 706.1 L195.4 704.6 L196 703.7 L196.7 702.6 L197.3 701.7 L197.7 700.2 L198.1 699.7 L198.5 698.5 L198.9 696.9 L199.2 695.8 L199.6 694.9 L200 693.8 L200.4 692.4 L200.8 691.3 L201.1 689.9 L201.3 688.5 L201.6 687.6 L201.8 686.4 L202.1 685.1 L202.3 683.3 L202.6 682.3 L202.8 681.3 L203.1 679.7 L203.3 678.6 L203.5 677.1 L203.7 675.6 L203.9 674.3 L204.1 673.5 L204.3 671.7 L204.5 671 L204.7 669.6 L204.9 668.2 L205.1 666.9 L205.3 665.8 L205.5 664.6 L205.8 663 L206 661.4 L206.2 660.4 L206.4 659 L206.6 657.7 L208.3 657.7 L208.8 656.4 L209.3 655.7 L209.8 654.4 L210.3 653.1 L210.6 651.5 L210.8 650.2 L211.1 648.9 L211.3 647.8 L211.6 646.2 L211.8 645 L212.2 643.6 L212.5 642.6 L212.9 641 L213.5 639.4 L214.1 638.4 L214.7 636.9 L215 637.9 L215.4 639.5 L215.7 640.7 L216.1 641.4 L216.4 642.7 L216.6 644.1 L216.8 645.1 L217 646.7 L217.2 648.2 L217.4 649.5 L217.6 650.8 L217.8 652 L218.1 653.1 L218.3 654.5 L218.6 656.2 L218.8 657.2 L219.1 658.6 L219.3 660.1 L219.9 661.3 L220.4 662.6 L221 663.5 L221.2 664.8 L221.4 665.9 L221.5 667.4 L221.7 668.4 L221.9 670 L222.1 670.9 L222.3 672.2 L222.4 673.6 L222.6 675.2 L222.8 676.2 L223 677.2 L223.2 678.5 L223.4 679.7 L223.6 681.1 L223.8 682.4 L224.1 683.7 L224.3 685.2 L224.5 686.2 L224.7 687.6 L224.9 688.8 L225.1 690.1 L225.4 691.6 L225.6 693 L225.9 693.9 L226.1 695.6 L226.4 696.4 L226.6 698.2 L226.9 699.1 L227.1 700.5 L227.4 701.7 L227.8 702.8 L228.3 703.8 L228.7 704.9 L229.2 706.6 L229.6 707.4 L230 708.7 L230.5 709.7 L230.9 710.9 L231.8 712 L232.7 712.8 L233.7 713.8 L234.6 714.9 L235.5 716.1 L237 716.5 L238.5 716.7 L240 717 L241.2 716.7 L242.5 717.1 L243.7 717 L245 716.7 L246.2 716.8 L247.4 716.8 L248.7 717.2 L249.9 717 L251.1 716.9 L252.4 716.8 L253.6 716.9 L254.9 716.8 L256.1 716.9 L257.3 717.2 L258.6 717.2 L259.8 717.1 L261 717.3 L262.3 717.1 L263.5 716.7 L264.8 716.7 L266 717" stroke="#f2b868" stroke-width="1.15" fill="none" stroke-linejoin="round"/>
<path d="M167.6 688 L167.6 689 L167.7 690.2 L167.7 691.6 L167.8 693 L167.8 694.1 L167.9 695.2 L167.9 696.2 L168 697.9 L168 699 L168.1 699.9 L168.1 700.9 L168.1 702.7 L168.2 703.4 L168.2 705 L168.3 705.7 L168.3 707.3 L168.4 708.3 L168.4 709.9 L168.5 710.7 L168.5 712 L169 713.1 L169.5 714.5 L170 716 L171.3 715.4 L172.7 714.7 L174 713.5 L175.2 713 L176.4 712.4 L177.6 711.5 L178.8 710.9 L180 710.1 L181.2 709.8 L182.1 709.2 L183.1 707.5 L184.1 707 L185 705.8 L185.9 704.7 L186.9 704 L187.5 702.8 L188.1 702 L188.7 700.3 L189.2 699.1 L189.8 698.3 L190.4 697.1 L191 695.9 L191.6 694.7 L191.9 693.2 L192.3 692.4 L192.6 690.6 L193 689.4 L193.3 688.2 L193.6 687.1 L194 685.8 L194.3 684.6 L194.7 683.4 L195 682 L195.4 681.1 L195.7 679.7 L196.1 678.2 L196.4 677.6 L196.8 676.2 L197.1 674.5 L197.4 673.4 L197.7 672 L197.9 670.9 L198.2 669.7 L198.5 668.2 L199.3 666.7 L200.2 665.8 L200.3 664.4 L200.4 663.5 L200.6 662.1 L200.7 660.4 L200.8 659.6 L200.9 658.4 L201 656.8 L201.2 655.4 L201.3 654.5 L201.4 653.1 L201.6 651.7 L201.7 650.2 L201.9 648.9 L202 647.8 L202.2 646.3 L202.3 645.1 L202.5 643.9 L203.1 642.5 L203.7 641 L204.7 642.2 L205.6 643.3 L206.6 644.5 L207.8 645.6 L208.9 646.2 L209.2 647.3 L209.5 648.8 L209.7 650.6 L210 652 L210.3 653.1 L210.4 654.7 L210.6 655.9 L210.7 657.1 L210.8 658.6 L210.9 659.8 L211.1 660.8 L211.2 662.4 L211.4 663.5 L211.5 664.6 L211.7 666.4 L211.8 667.3 L212 668.6 L212.1 670 L212.3 670.9 L212.4 672.6 L212.6 673.9 L212.7 675.2 L212.9 676.2 L213.1 677.8 L213.3 678.6 L213.5 679.8 L213.7 681.5 L213.9 682.8 L214.1 683.8 L214.3 685.1 L214.5 686.3 L214.7 687.8 L215 689.3 L215.3 690.4 L215.6 691.9 L215.8 692.9 L216.1 694.2 L216.4 695.6 L216.7 697.1 L217 698.2 L217.4 699.6 L217.8 700.4 L218.2 701.8 L218.6 702.8 L218.9 704.2 L219.3 705.3 L219.7 706.3 L220.1 707.3 L220.5 708.6 L221.3 709.6 L222 711.2 L222.8 712.3 L223.6 713.1 L224.3 714.1 L225.1 715.5 L226.3 715.7 L227.6 716.6 L228.8 716.3 L230 717 L231.2 717.2 L232.4 717 L233.6 717 L234.8 717 L236 716.9 L237.2 717 L238.4 716.7 L239.6 717.3 L240.8 716.7 L242 716.7 L243.2 717.1 L244.4 717.1 L245.6 717.2 L246.8 717.1 L248 717.3 L249.2 716.7 L250.4 716.7 L251.6 716.8 L252.8 717.2 L254 716.8 L255.2 717 L256.4 717.2 L257.6 716.8 L258.8 717 L260 717.3 L261.2 717.2 L262.4 716.9 L263.6 717 L264.8 716.8 L266 717" stroke="#40c0d8" stroke-width="1.1" fill="none" stroke-linejoin="round"/>
<path d="M168 717 L169.2 716.7 L170.5 715.7 L171.6 715.1 L172.6 714.3 L173.7 713.3 L174.7 712.8 L175.8 711.9 L176.8 711.1 L177.6 710.3 L178.4 709 L179.2 708.3 L179.9 707.2 L180.7 706 L181.5 705.1 L182.3 704 L182.9 703 L183.5 701.7 L184.1 700.8 L184.6 699 L185.2 698.4 L185.8 697 L186.4 696 L186.9 694.7 L187.5 693.8 L188.1 692.2 L188.6 691.1 L189.2 690.1 L189.6 689.1 L190 688 L190.4 686.6 L190.8 685.8 L191.2 684.5 L191.6 683.2 L191.8 681.6 L192.1 680.4 L192.3 679.1 L192.5 678.2 L192.8 676.7 L193 675.4 L193.2 674.3 L193.4 672.7 L193.7 672.1 L193.9 670.5 L194.2 669.4 L194.4 668 L194.7 666.6 L194.9 665.2 L195.2 664.1 L195.4 662.7 L195.7 661.8 L195.9 660.5 L196.2 658.9 L196.4 657.8 L196.7 656.6 L196.9 654.8 L197.1 653.6 L197.3 652.4 L197.6 651 L197.8 650 L198 649.1 L198.3 647.7 L198.5 646.2 L199.2 644.9 L200 643 L200.7 641.8 L201.4 641 L202.5 642 L203.1 640.2 L203.7 638.7 L203.8 639.6 L204 641 L204.2 642.1 L204.3 643.6 L204.4 644.7 L204.6 646.2 L204.8 647.3 L204.9 648.5 L205 649.8 L205.1 650.9 L205.2 652.5 L205.3 653.7 L205.4 655 L205.5 656.1 L205.6 657.3 L205.7 658.5 L205.8 659.6 L205.9 661.1 L206 662.4 L206.1 663.7 L206.2 664.7 L206.3 666.4 L206.4 667.7 L206.5 668.9 L206.7 670.1 L206.8 671.2 L206.9 672.2 L207 673.5 L207.1 675.1 L207.2 676.2 L207.3 677.8 L207.4 678.4 L207.5 679.6 L207.7 681 L207.8 682.3 L207.9 683.7 L208 684.6 L208.1 686.3 L208.2 687.2 L208.3 688.8 L208.4 689.6 L208.6 690.9 L208.7 692 L208.8 693.8 L208.9 694.7 L209.1 696 L209.2 697.5 L209.4 698.2 L209.5 699.8 L209.7 701.2 L209.8 702.6 L210 703.9 L210.1 704.5 L210.3 706 L210.4 707.7 L210.6 708.6 L211 709.9 L211.4 711.4 L211.8 712.2 L212.2 713.3 L212.6 715.2 L213 716.1 L214.2 716.2 L215.5 716.6 L216.8 716.7 L218 717 L219.2 717.1 L220.4 717.3 L221.6 717.3 L222.8 717.3 L224 716.8 L225.2 717.2 L226.4 716.7 L227.6 716.9 L228.8 717.3 L230 716.8 L231.2 716.9 L232.4 717.1 L233.6 716.8 L234.8 717.1 L236 717.1 L237.2 716.7 L238.4 717.3 L239.6 716.7 L240.8 717.1 L242 716.9 L243.2 716.8 L244.4 716.7 L245.6 717.3 L246.8 717.2 L248 717 L249.2 717.2 L250.4 717.3 L251.6 717.3 L252.8 717 L254 716.8 L255.2 717 L256.4 717.3 L257.6 717.2 L258.8 717.1 L260 717.2 L261.2 716.9 L262.4 717 L263.6 717.2 L264.8 716.8 L266 717" stroke="#e05068" stroke-width="1.1" fill="none" stroke-linejoin="round"/>
<line x1="197.3" y1="717.4" x2="197.3" y2="720.2" stroke="#444" stroke-width="0.7"/>
<line x1="204.6" y1="717.4" x2="204.6" y2="719.4" stroke="#444" stroke-width="0.5599999999999999"/>
<line x1="208.9" y1="717.4" x2="208.9" y2="719.4" stroke="#444" stroke-width="0.5599999999999999"/>
<line x1="211.9" y1="717.4" x2="211.9" y2="719.4" stroke="#444" stroke-width="0.5599999999999999"/>
<line x1="214.3" y1="717.4" x2="214.3" y2="719.4" stroke="#444" stroke-width="0.5599999999999999"/>
<line x1="216.2" y1="717.4" x2="216.2" y2="719.4" stroke="#444" stroke-width="0.5599999999999999"/>
<line x1="217.8" y1="717.4" x2="217.8" y2="719.4" stroke="#444" stroke-width="0.5599999999999999"/>
<line x1="219.2" y1="717.4" x2="219.2" y2="719.4" stroke="#444" stroke-width="0.5599999999999999"/>
<line x1="220.5" y1="717.4" x2="220.5" y2="719.4" stroke="#444" stroke-width="0.5599999999999999"/>
<line x1="221.6" y1="717.4" x2="221.6" y2="720.2" stroke="#444" stroke-width="0.7"/>
<line x1="228" y1="717.4" x2="228" y2="719.4" stroke="#444" stroke-width="0.5599999999999999"/>
<line x1="231.7" y1="717.4" x2="231.7" y2="719.4" stroke="#444" stroke-width="0.5599999999999999"/>
<line x1="234.4" y1="717.4" x2="234.4" y2="719.4" stroke="#444" stroke-width="0.5599999999999999"/>
<line x1="236.4" y1="717.4" x2="236.4" y2="719.4" stroke="#444" stroke-width="0.5599999999999999"/>
<line x1="238.1" y1="717.4" x2="238.1" y2="719.4" stroke="#444" stroke-width="0.5599999999999999"/>
<line x1="239.5" y1="717.4" x2="239.5" y2="719.4" stroke="#444" stroke-width="0.5599999999999999"/>
<line x1="240.7" y1="717.4" x2="240.7" y2="719.4" stroke="#444" stroke-width="0.5599999999999999"/>
<line x1="241.8" y1="717.4" x2="241.8" y2="719.4" stroke="#444" stroke-width="0.5599999999999999"/>
<line x1="242.8" y1="717.4" x2="242.8" y2="720.2" stroke="#444" stroke-width="0.7"/>
<line x1="248.6" y1="717.4" x2="248.6" y2="719.4" stroke="#444" stroke-width="0.5599999999999999"/>
<line x1="252" y1="717.4" x2="252" y2="719.4" stroke="#444" stroke-width="0.5599999999999999"/>
<line x1="254.4" y1="717.4" x2="254.4" y2="719.4" stroke="#444" stroke-width="0.5599999999999999"/>
<line x1="256.2" y1="717.4" x2="256.2" y2="719.4" stroke="#444" stroke-width="0.5599999999999999"/>
<line x1="257.7" y1="717.4" x2="257.7" y2="719.4" stroke="#444" stroke-width="0.5599999999999999"/>
<line x1="259" y1="717.4" x2="259" y2="719.4" stroke="#444" stroke-width="0.5599999999999999"/>
<line x1="260.1" y1="717.4" x2="260.1" y2="719.4" stroke="#444" stroke-width="0.5599999999999999"/>
<line x1="261.1" y1="717.4" x2="261.1" y2="719.4" stroke="#444" stroke-width="0.5599999999999999"/>
<line x1="262" y1="717.4" x2="262" y2="720.2" stroke="#444" stroke-width="0.7"/>
<line x1="168" y1="717.4" x2="197.3" y2="717.4" stroke="#333" stroke-width="0.8"/>
<line x1="172" y1="717.4" x2="172" y2="719" stroke="#333" stroke-width="0.6"/>
<line x1="174" y1="717.4" x2="174" y2="719" stroke="#333" stroke-width="0.6"/>
<line x1="176" y1="717.4" x2="176" y2="719" stroke="#333" stroke-width="0.6"/>
<line x1="178" y1="717.4" x2="178" y2="719" stroke="#333" stroke-width="0.6"/>
<line x1="180" y1="717.4" x2="180" y2="719" stroke="#333" stroke-width="0.6"/>
<text x="175.1" y="731" font-size="4.2" fill="#555" text-anchor="middle">0</text>
<text x="197.3" y="731" font-size="4.2" fill="#555" text-anchor="middle">10<tspan font-size="3.2" dy="-1.6">3</tspan></text>
<text x="221.6" y="731" font-size="4.2" fill="#555" text-anchor="middle">10<tspan font-size="3.2" dy="-1.6">4</tspan></text>
<text x="242.8" y="731" font-size="4.2" fill="#555" text-anchor="middle">10<tspan font-size="3.2" dy="-1.6">5</tspan></text>
<text x="262" y="731" font-size="4.2" fill="#555" text-anchor="middle">10<tspan font-size="3.2" dy="-1.6">6</tspan></text>
<line x1="175.7" y1="738.2" x2="238.2" y2="738.2" stroke="#000" stroke-width="1.2"/>
<path d="M244.2 738.2 L237.2 735.9000000000001 L239.2 738.2 L237.2 740.5 Z" fill="#000"/>
<text x="210.4" y="749.6" font-size="7.2" text-anchor="middle">Cell surface PCNA</text>
<line x1="270.2" y1="633.7" x2="284" y2="633.7" stroke="#e08820" stroke-width="2.4"/>
<text x="287.2" y="637.5" font-size="8.7">siRNA</text>
<text x="287.2" y="647.6" font-size="8.7">Control</text>
<line x1="270.2" y1="658.7" x2="284" y2="658.7" stroke="#80d4ea" stroke-width="2.4"/>
<text x="287.2" y="662.2" font-size="8.7">siRNA</text>
<text x="287.2" y="672.6" font-size="8.7">PCNA</text>
<line x1="270.2" y1="682.3" x2="284" y2="682.3" stroke="#c8103a" stroke-width="2.4"/>
<text x="287.2" y="686.2" font-size="8.7">Isotype</text>
<text x="287.2" y="695.8" font-size="8.7">control</text>
<text x="320.8" y="533.1" font-size="18.2">G</text>
<text x="420.1" y="585.6" font-size="8.45" text-anchor="middle">α-PCNA (14-25-9)</text>
<rect x="346" y="591.8" width="142.5" height="126.2" stroke="#333" stroke-width="1" fill="none"/>
<path d="M346 718 L347.2 718.2 L348.5 717.6 L349.7 717.9 L350.9 717.9 L352.2 717.6 L353.4 718.1 L354.6 717.8 L355.9 717.6 L357.1 717.7 L358.3 717.8 L359.5 717.7 L360.8 717.3 L362 717.4 L363.2 717.8 L364.5 717.3 L365.7 717.4 L366.9 717.8 L368.2 717.8 L369.4 717.5 L370.5 717.3 L371.7 716.4 L372.9 715.8 L374 715.9 L375.1 715.4 L376.3 714.8 L377.5 714.1 L378.6 714 L379.8 713.3 L380.9 712.5 L382.1 712.1 L383.2 711.7 L384.4 710.5 L385.5 710 L386.6 708.9 L387.8 708.6 L388.9 707.4 L390.1 706.7 L391.2 706.1 L392.4 705.4 L393 704.7 L393.7 703.2 L394.3 702.2 L395 701.2 L395.6 700 L396.3 699.1 L396.9 698.3 L397.6 697 L398.2 696.1 L398.6 695.2 L399.1 693.6 L399.5 692.4 L399.9 691.6 L400.4 690.3 L400.8 689.5 L401.3 687.8 L401.7 686.9 L402.2 685.9 L402.6 684.7 L403.1 683.3 L403.5 682 L404 681.1 L404.1 679.9 L404.3 678.7 L404.4 677.2 L404.6 675.8 L404.8 674.7 L404.9 673.3 L405.1 671.9 L405.2 670.4 L405.4 669.3 L405.5 668 L405.7 666.8 L405.9 665.8 L406.2 664.6 L406.4 663.1 L406.6 661.7 L406.8 660.3 L407.1 659.4 L407.3 658.2 L407.5 656.6 L407.7 655.7 L407.9 654.7 L408.2 653 L408.4 652.2 L408.6 650.6 L408.8 649.3 L409.1 648.2 L409.3 647.1 L409.6 645.4 L409.8 644.3 L410.1 643.5 L410.3 641.6 L410.5 640.5 L410.8 639.4 L411 638.4 L411.3 637 L411.5 635.7 L411.8 634.8 L412 633.4 L412.3 631.7 L412.6 630.5 L412.9 629.3 L413.1 628.3 L413.4 626.8 L413.7 626 L414 624.8 L414.2 623.3 L414.5 622.3 L415.1 621.4 L415.7 620 L416.3 619.2 L416.9 617.8 L417.2 616.3 L417.6 615 L417.9 613.5 L418.3 612 L418.5 610.6 L418.6 609.8 L418.8 608 L418.9 607 L419.1 605.8 L419.2 605 L419.4 603.5 L419.5 602 L419.7 601.1 L420 602.1 L420.2 603.5 L420.5 604.9 L420.7 605.5 L421 607 L421.1 608.5 L421.3 609.5 L421.4 610.9 L421.6 612.1 L421.7 613.4 L421.9 615.1 L422 616 L422.2 617.6 L422.4 618.9 L422.6 620 L422.9 621.3 L423.1 622.2 L423.3 623.4 L423.5 625 L423.7 626.5 L423.8 627.6 L424 628.8 L424.2 629.9 L424.3 631.1 L424.5 632.8 L424.7 633.8 L424.8 634.7 L425 636.1 L425.2 637.4 L425.3 638.4 L425.5 640 L425.6 641.5 L425.8 642.7 L425.9 643.8 L426 644.5 L426.2 645.9 L426.3 646.9 L426.4 648.6 L426.6 649.8 L426.7 651 L426.8 652.2 L427 652.9 L427.1 654.1 L427.2 655.3 L427.4 657 L427.5 658 L427.7 659.5 L427.9 660.6 L428 661.6 L428.2 663.3 L428.4 664.1 L428.6 665.5 L428.8 666.6 L429 668.5 L429.1 669.4 L429.3 670.9 L429.5 672 L429.7 673.4 L429.9 674.5 L430.1 676 L430.3 677.1 L430.5 678.5 L430.7 679.7 L430.8 680.3 L431 682 L431.2 682.9 L431.4 684.2 L431.6 685.4 L431.8 687.1 L432 688 L432.3 688.9 L432.6 690.4 L432.9 691.3 L433.2 693.1 L433.5 694 L433.8 695.3 L434.1 696.4 L434.4 697.8 L434.7 698.7 L435 700 L435.4 701.2 L435.8 702.7 L436.1 703.9 L436.5 705.3 L436.9 706.1 L437.2 707.7 L437.6 708.9 L438 710 L438.8 711.1 L439.6 711.9 L440.4 713 L441.2 713.7 L442 715 L443.2 715.2 L444.4 715.9 L445.6 716.2 L446.8 716.7 L448 717.5 L449.2 717.7 L450.4 717.7 L451.6 717.6 L452.8 717.3 L454.1 717.7 L455.3 717.7 L456.5 717.6 L457.7 717.3 L458.9 717.6 L460.1 717.5 L461.3 717.4 L462.5 717.3 L463.8 717.8 L465 717.6 L466.2 717.8 L467.4 717.3 L468.6 717.4 L469.8 717.6 L471 717.2 L472.2 717.4 L473.5 717.6 L474.7 717.6 L475.9 717.9 L477.1 717.6 L478.3 717.7 L479.5 717.6 L480.7 717.8 L481.9 717.5 L483.2 717.2 L484.4 717.9 L485.6 717.8 L486.8 717.3 L488 717.6" stroke="#40c8e0" stroke-width="1.1" fill="none" stroke-linejoin="round"/>
<path d="M346 718 L347.2 717.7 L348.5 717.7 L349.7 718 L351 717.6 L352.2 717.5 L353.4 717.8 L354.7 717.4 L355.9 717.6 L357.2 717.7 L358.4 717.5 L359.7 717.3 L360.9 717.5 L362.1 717.4 L363.4 717.5 L364.6 717.5 L365.9 717.4 L367.1 717.5 L368.2 716.9 L369.4 716.1 L370.6 716.2 L371.7 715.6 L372.9 714.9 L374 714 L375.2 713.7 L376.3 713.6 L377.5 712.8 L378.6 712.3 L379.8 711.5 L380.9 711.4 L382.1 710.8 L383.2 710 L384.2 708.9 L385.2 708.3 L386.2 707.6 L387.1 706.4 L388.1 705.7 L389.1 705.1 L390.1 704.2 L390.8 703.2 L391.4 702 L392.1 700.8 L392.7 699.5 L393.4 698.1 L394 696.9 L394.7 696.1 L395 695.1 L395.3 693.8 L395.7 692.6 L396 690.8 L396.3 690 L396.6 688.3 L396.9 687.2 L397.2 685.9 L397.6 685.1 L397.9 683.8 L398.2 682.3 L398.5 681.3 L398.8 679.7 L399.1 678.9 L399.4 677.1 L399.7 676.1 L399.9 674.9 L400.2 673.4 L400.5 672.2 L400.8 670.8 L401.1 670 L401.4 668.3 L401.7 667.3 L402 665.9 L402.4 664.8 L402.7 663.9 L403 662.8 L403.3 661.5 L403.7 660.6 L404 659.2 L404.2 658.1 L404.4 656.4 L404.5 655.4 L404.7 653.8 L404.9 652.6 L405.1 651.2 L405.3 649.9 L405.5 648.8 L405.6 647.9 L405.8 646.4 L406 645 L406.1 643.5 L406.3 642.4 L406.4 641.4 L406.5 640.2 L406.7 638.6 L406.8 637.5 L406.9 636.6 L407.1 635.4 L407.2 633.8 L407.3 633.1 L407.4 631.5 L407.6 630.5 L407.7 629.3 L407.8 627.9 L408 627.2 L408.1 625.6 L408.2 624.4 L408.4 623.2 L408.5 622 L409.5 621.2 L410.5 620 L410.7 619.1 L410.9 617.7 L411.1 616.3 L411.2 615.2 L411.4 613.8 L411.6 612.8 L411.8 611.6 L412 610 L412.2 609 L412.4 607.3 L412.6 606.4 L412.7 605 L412.9 603.7 L413.1 602.8 L413.3 601.4 L413.4 602.5 L413.6 604.2 L413.8 605.4 L413.9 606.6 L414.1 608.2 L414.2 609.5 L414.4 611 L414.5 612 L415 613.7 L415.5 614.9 L416 616 L416.2 617.1 L416.4 618.7 L416.6 619.9 L416.9 621.5 L417.1 622.4 L417.3 623.6 L417.5 625 L417.6 625.9 L417.8 627.5 L417.9 628.8 L418 629.9 L418.1 631 L418.2 632.5 L418.4 633.4 L418.5 634.8 L418.6 636.2 L418.8 637.4 L418.9 638.8 L419 640 L419.1 641.3 L419.2 642.4 L419.4 643.5 L419.5 644.7 L419.6 646.3 L419.8 647.8 L419.9 648.6 L420 649.9 L420.1 651.1 L420.2 652.7 L420.4 653.7 L420.5 655.2 L420.6 655.9 L420.8 657.2 L420.9 658.5 L421 660 L421.2 661.2 L421.3 662.4 L421.5 663.7 L421.7 665.3 L421.8 666.2 L422 667.6 L422.2 669.1 L422.3 670.1 L422.5 671.3 L422.7 672.7 L422.8 673.6 L423 675 L423.2 675.9 L423.4 677.7 L423.6 678.7 L423.9 679.9 L424.1 680.8 L424.3 682.5 L424.5 683.4 L424.7 684.8 L424.9 685.8 L425.1 687.4 L425.4 688.3 L425.6 689.4 L425.8 691.1 L426 692 L426.3 693 L426.5 694.2 L426.8 695.5 L427.1 697.1 L427.4 697.6 L427.6 698.9 L427.9 700.5 L428.2 701.2 L428.5 702.6 L428.7 704 L429 705 L429.5 706.3 L430 707.5 L430.5 708.2 L431 709.9 L431.5 710.7 L432 712 L433 713 L434 713.6 L435 714.7 L436 715.2 L437 716 L438.4 716.3 L439.9 716.8 L441.3 717.5 L442.5 717.5 L443.8 717.2 L445 717.3 L446.2 717.8 L447.4 717.6 L448.7 717.8 L449.9 717.3 L451.1 717.5 L452.4 717.5 L453.6 717.3 L454.8 717.4 L456 717.8 L457.3 717.7 L458.5 717.5 L459.7 717.6 L461 717.8 L462.2 717.9 L463.4 717.6 L464.6 717.2 L465.9 717.8 L467.1 717.3 L468.3 717.4 L469.6 717.3 L470.8 717.6 L472 717.6 L473.3 717.5 L474.5 717.6 L475.7 717.3 L476.9 717.7 L478.2 717.6 L479.4 717.4 L480.6 717.8 L481.9 717.9 L483.1 717.9 L484.3 717.9 L485.5 717.3 L486.8 717.5 L488 717.6" stroke="#f09828" stroke-width="1.1" fill="none" stroke-linejoin="round"/>
<path d="M346.5 700 L346.6 701.2 L346.6 702.2 L346.7 703.8 L346.7 705.1 L346.8 705.8 L346.9 707.3 L346.9 708.8 L347 709.9 L347.1 710.8 L347.1 711.8 L347.2 713.3 L347.2 714.5 L347.3 715.7 L348.5 715.6 L349.6 714.9 L350.8 714.6 L352 714.5 L353.2 714.4 L354.3 713.3 L355.5 713.3 L356.6 712.5 L357.8 712.6 L359 711.9 L360.1 711.8 L361.3 711.1 L362.4 710.4 L363.6 710.4 L364.8 709.5 L365.9 708.9 L367.1 708.4 L368.2 708.2 L369.2 707 L370.1 706.4 L371.1 705.9 L372.1 704.6 L373 704 L374 703 L374.6 701.5 L375.1 700.7 L375.7 699.6 L376.3 698.1 L376.8 697.3 L377.4 696.1 L377.8 694.9 L378.3 693.7 L378.8 692.9 L379.2 691.5 L380.9 692.7 L381.4 691.7 L381.9 690.1 L382.4 689 L382.8 687.8 L383.3 686.8 L383.8 685.8 L385 686.3 L386.1 686.9 L387.3 686.9 L387.6 685.9 L387.9 684.6 L388.2 682.7 L388.5 681.9 L388.7 680.6 L389 679.1 L389.3 678.1 L389.6 676.5 L390 675.4 L390.3 673.9 L390.7 672.8 L391.1 671.6 L391.4 670.8 L391.8 669.7 L392.1 668.7 L392.5 666.9 L392.9 665.8 L393.2 665.3 L393.6 663.8 L393.9 662.4 L394.2 661.1 L394.6 660.3 L394.9 658.5 L395.2 657.7 L395.5 656.6 L395.8 655.1 L396.1 653.8 L396.5 652.2 L396.8 651.3 L397.1 650 L397.3 648.8 L397.5 647.6 L397.8 646.2 L398 644.6 L398.2 643.4 L398.4 642.5 L398.6 640.8 L398.8 639.5 L399.1 638.4 L399.3 637.5 L399.5 636 L399.7 634.8 L399.8 633.5 L400 632.7 L400.2 631.3 L400.4 629.8 L400.5 628.8 L400.7 627.8 L400.9 626.3 L401 625.2 L401.2 624 L401.4 622.8 L401.6 621.9 L401.8 620.4 L402 618.9 L402.3 617.9 L402.5 616.5 L402.7 615.4 L402.9 614.2 L403.4 615.6 L404 616.4 L404.5 618 L404.7 619.3 L404.9 620.4 L405.1 621.8 L405.2 623.2 L405.4 624.2 L405.6 625.6 L405.8 626.6 L406 628 L406.2 629.1 L406.3 630.6 L406.5 631.9 L406.6 632.9 L406.8 634.6 L406.9 635.7 L407.1 636.8 L407.2 638 L407.4 639.7 L407.5 641.1 L407.7 642.4 L407.8 643.1 L408 644.6 L408.2 645.5 L408.3 647.2 L408.5 648 L408.7 649.8 L408.9 650.9 L409 651.9 L409.2 653.2 L409.4 654.6 L409.5 655.4 L409.7 656.8 L409.9 658.3 L410 659.5 L410.2 660.6 L410.4 661.5 L410.6 662.8 L410.7 664.1 L410.9 665.5 L411.1 666.4 L411.4 668 L411.6 669.1 L411.9 670.6 L412.1 671.5 L412.3 673 L412.6 673.8 L412.8 675.1 L413.1 676.1 L413.3 677.4 L413.5 678.9 L413.8 679.8 L414 680.7 L414.3 682.1 L414.5 683.4 L414.9 684.4 L415.2 685.9 L415.6 687 L415.9 688.1 L416.3 689.6 L416.7 690.7 L417 691.4 L417.4 692.6 L417.7 694.3 L418.1 695.3 L418.6 696.5 L419.1 697.6 L419.6 698.7 L420 699.4 L420.5 700.8 L421 702 L421.8 703.5 L422.7 704.5 L423.5 705.7 L425.2 705.8 L427 706.5 L427.8 707.5 L428.6 709.2 L429.4 710.2 L430.4 711 L431.4 711.5 L432.4 712.6 L433.4 713.5 L434.4 714.2 L435.4 714.7 L436.6 715.2 L437.9 715.6 L439.1 715.5 L440.3 716.1 L441.6 716.7 L442.8 716.8 L444 716.7 L445.2 716.6 L446.5 717.1 L447.7 717 L448.9 716.5 L450.1 716.6 L451.4 717 L452.6 717.3 L453.8 717.1 L455 717.3 L456.2 716.7 L457.5 717.1 L458.7 716.8 L459.9 716.9 L461.1 716.8 L462.3 717.1 L463.6 716.8 L464.8 717.3 L466 717.3 L467.2 717.5 L468.5 717.4 L469.7 716.9 L470.9 717.5 L472.1 717.3 L473.3 717.6 L474.6 717.3 L475.8 717 L477 717.5 L478.2 717.1 L479.4 717.7 L480.7 717.4 L481.9 717.7 L483.1 717.4 L484.3 717.3 L485.6 717.6 L486.8 717.6 L488 717.5" stroke="#50d040" stroke-width="1.1" fill="none" stroke-linejoin="round"/>
<path d="M346 718 L347.2 717.6 L348.4 717.1 L349.7 716.9 L350.9 716.6 L352.2 716.6 L353.5 716.1 L354.8 715.9 L356.1 716 L357.4 715.9 L358.7 715.4 L360 715.5 L361.2 715 L362.4 715.1 L363.6 714.3 L364.7 714.3 L365.9 713.6 L367.1 713.4 L367.9 712.1 L368.7 711.4 L369.5 710.7 L370.4 709.7 L371.2 708.2 L372 707.6 L372.8 706.5 L373.8 705.6 L374.7 704.6 L375.7 703.7 L376.7 702.6 L377.6 701.4 L378.6 700.7 L379.3 699.7 L380.1 698.1 L380.8 697.1 L381.5 696.1 L381.8 695 L382.2 693.5 L382.5 692.2 L382.8 691 L383.1 689.5 L383.5 688.1 L383.8 686.9 L384.4 685.8 L384.9 684.3 L385.5 683.3 L386.1 681.9 L386.7 681.5 L387.2 680.2 L387.8 678.8 L388.1 677.6 L388.3 676 L388.6 675.2 L388.8 673.5 L389.1 672.6 L389.3 671.2 L389.6 669.9 L389.8 668.7 L390.1 667.3 L390.3 665.9 L390.5 665 L390.7 663.5 L390.9 662.4 L391.1 661.1 L391.3 659.5 L391.5 658.3 L391.7 657 L391.9 655.8 L392.2 654.1 L392.4 653.2 L392.7 651.6 L393 650 L393.1 648.7 L393.2 647.4 L393.3 646.4 L393.4 644.5 L393.5 643.4 L393.6 642.3 L393.7 640.9 L393.8 639.6 L393.9 638.1 L394 637 L394.8 635.3 L395.5 634 L395.7 632.9 L395.9 631.5 L396.1 630.7 L396.3 629.5 L396.4 628.3 L396.6 626.6 L396.8 625.6 L397 624.1 L397.2 623.1 L397.4 622 L397.7 620.4 L397.9 619.3 L398.2 618.3 L398.5 616.9 L398.7 615.2 L399 614 L399.7 612.7 L400.4 611.8 L402 613 L402.6 614.8 L403.2 616 L403.5 617 L403.7 618.8 L404 620.1 L404.2 620.8 L404.5 622.7 L404.7 623.8 L405 625 L405.1 626.2 L405.2 627.4 L405.4 628.8 L405.5 630 L405.6 631.5 L405.8 632.8 L405.9 633.6 L406 634.7 L406.1 636.4 L406.2 637.6 L406.4 638.9 L406.5 639.7 L406.6 641 L406.8 642.8 L406.9 643.7 L407 645 L407.1 646.2 L407.2 647.7 L407.3 648.4 L407.4 649.9 L407.5 650.7 L407.6 652.3 L407.7 653.6 L407.8 654.4 L407.8 656 L407.9 657.4 L408 658.5 L408.1 659.7 L408.2 661 L408.3 662 L408.4 663.1 L408.5 664.5 L408.6 665.5 L408.7 666.9 L408.8 668 L408.8 669.3 L408.9 670.2 L409 671.5 L409.1 672.8 L409.2 674.4 L409.3 675.5 L409.3 676.4 L409.4 678.1 L409.5 678.7 L409.6 679.9 L409.7 681.4 L409.8 682.4 L409.8 684.3 L409.9 685.1 L410 686.4 L410.1 687.6 L410.2 689.2 L410.3 690.2 L410.5 691.5 L410.6 692.7 L410.7 693.9 L410.8 695.6 L410.9 696.3 L411 697.8 L411.2 699 L411.3 700 L411.4 701.3 L411.5 702.8 L411.8 704 L412.2 705.3 L412.5 706.2 L412.8 707.1 L413.2 708.9 L413.5 709.5 L413.8 711.2 L414.2 711.7 L414.5 713.2 L415.8 713.9 L417 714.2 L418.2 714.8 L419.5 715.5 L420.8 716.4 L422 716.8 L423.2 716.8 L424.4 716.8 L425.6 716.8 L426.8 716.9 L428 716.7 L429.2 717.2 L430.4 716.7 L431.6 716.6 L432.8 716.9 L434 716.8 L435.2 717.1 L436.4 716.6 L437.6 717.1 L438.8 716.9 L440 717.3 L441.2 716.9 L442.4 717 L443.6 716.9 L444.8 717.1 L446 716.9 L447.2 717.2 L448.4 717 L449.6 717.2 L450.8 717 L452 717.1 L453.2 717.2 L454.4 717.3 L455.6 717.3 L456.8 717.1 L458 716.9 L459.2 716.9 L460.4 717 L461.6 717 L462.8 717 L464 717.4 L465.2 717.1 L466.4 717.6 L467.6 717.1 L468.8 717.1 L470 717.1 L471.2 717.1 L472.4 717.5 L473.6 717.4 L474.8 717.2 L476 717.6 L477.2 717.5 L478.4 717.3 L479.6 717.5 L480.8 717.5 L482 717.4 L483.2 717.2 L484.4 717.4 L485.6 717.8 L486.8 717.4 L488 717.5" stroke="#d02838" stroke-width="1.1" fill="none" stroke-linejoin="round"/>
<line x1="346" y1="718" x2="488.5" y2="718" stroke="#444" stroke-width="0.8"/>
<line x1="390.3" y1="718" x2="390.3" y2="721.1" stroke="#444" stroke-width="0.7"/>
<line x1="400.4" y1="718" x2="400.4" y2="720.2" stroke="#444" stroke-width="0.5599999999999999"/>
<line x1="406.3" y1="718" x2="406.3" y2="720.2" stroke="#444" stroke-width="0.5599999999999999"/>
<line x1="410.5" y1="718" x2="410.5" y2="720.2" stroke="#444" stroke-width="0.5599999999999999"/>
<line x1="413.8" y1="718" x2="413.8" y2="720.2" stroke="#444" stroke-width="0.5599999999999999"/>
<line x1="416.4" y1="718" x2="416.4" y2="720.2" stroke="#444" stroke-width="0.5599999999999999"/>
<line x1="418.7" y1="718" x2="418.7" y2="720.2" stroke="#444" stroke-width="0.5599999999999999"/>
<line x1="420.6" y1="718" x2="420.6" y2="720.2" stroke="#444" stroke-width="0.5599999999999999"/>
<line x1="422.4" y1="718" x2="422.4" y2="720.2" stroke="#444" stroke-width="0.5599999999999999"/>
<line x1="423.9" y1="718" x2="423.9" y2="721.1" stroke="#444" stroke-width="0.7"/>
<line x1="433.6" y1="718" x2="433.6" y2="720.2" stroke="#444" stroke-width="0.5599999999999999"/>
<line x1="439.2" y1="718" x2="439.2" y2="720.2" stroke="#444" stroke-width="0.5599999999999999"/>
<line x1="443.2" y1="718" x2="443.2" y2="720.2" stroke="#444" stroke-width="0.5599999999999999"/>
<line x1="446.3" y1="718" x2="446.3" y2="720.2" stroke="#444" stroke-width="0.5599999999999999"/>
<line x1="448.9" y1="718" x2="448.9" y2="720.2" stroke="#444" stroke-width="0.5599999999999999"/>
<line x1="451" y1="718" x2="451" y2="720.2" stroke="#444" stroke-width="0.5599999999999999"/>
<line x1="452.9" y1="718" x2="452.9" y2="720.2" stroke="#444" stroke-width="0.5599999999999999"/>
<line x1="454.5" y1="718" x2="454.5" y2="720.2" stroke="#444" stroke-width="0.5599999999999999"/>
<line x1="456" y1="718" x2="456" y2="721.1" stroke="#444" stroke-width="0.7"/>
<line x1="464.8" y1="718" x2="464.8" y2="720.2" stroke="#444" stroke-width="0.5599999999999999"/>
<line x1="470" y1="718" x2="470" y2="720.2" stroke="#444" stroke-width="0.5599999999999999"/>
<line x1="473.6" y1="718" x2="473.6" y2="720.2" stroke="#444" stroke-width="0.5599999999999999"/>
<line x1="476.5" y1="718" x2="476.5" y2="720.2" stroke="#444" stroke-width="0.5599999999999999"/>
<line x1="478.8" y1="718" x2="478.8" y2="720.2" stroke="#444" stroke-width="0.5599999999999999"/>
<line x1="480.8" y1="718" x2="480.8" y2="720.2" stroke="#444" stroke-width="0.5599999999999999"/>
<line x1="482.5" y1="718" x2="482.5" y2="720.2" stroke="#444" stroke-width="0.5599999999999999"/>
<line x1="484" y1="718" x2="484" y2="720.2" stroke="#444" stroke-width="0.5599999999999999"/>
<line x1="485.3" y1="718" x2="485.3" y2="721.1" stroke="#444" stroke-width="0.7"/>
<line x1="356" y1="718" x2="356" y2="719.8" stroke="#333" stroke-width="0.6"/>
<line x1="358" y1="718" x2="358" y2="719.8" stroke="#333" stroke-width="0.6"/>
<line x1="360" y1="718" x2="360" y2="719.8" stroke="#333" stroke-width="0.6"/>
<line x1="362" y1="718" x2="362" y2="719.8" stroke="#333" stroke-width="0.6"/>
<line x1="364" y1="718" x2="364" y2="719.8" stroke="#333" stroke-width="0.6"/>
<line x1="366" y1="718" x2="366" y2="719.8" stroke="#333" stroke-width="0.6"/>
<text x="357.4" y="735" font-size="4.4" fill="#555" text-anchor="middle">0</text>
<text x="390.3" y="735" font-size="4.4" fill="#555" text-anchor="middle">10<tspan font-size="3.3" dy="-1.6">3</tspan></text>
<text x="423.9" y="735" font-size="4.4" fill="#555" text-anchor="middle">10<tspan font-size="3.3" dy="-1.6">4</tspan></text>
<text x="456" y="735" font-size="4.4" fill="#555" text-anchor="middle">10<tspan font-size="3.3" dy="-1.6">5</tspan></text>
<text x="485.3" y="735" font-size="4.4" fill="#555" text-anchor="middle">10<tspan font-size="3.3" dy="-1.6">6</tspan></text>
<line x1="375.7" y1="742.1" x2="433.6" y2="742.1" stroke="#000" stroke-width="1.2"/>
<path d="M439.6 742.1 L432.6 739.8000000000001 L434.6 742.1 L432.6 744.4 Z" fill="#000"/>
<text x="408.9" y="750.8" font-size="7.2" text-anchor="middle">Cell surface PCNA</text>
<line x1="341.6" y1="760" x2="355.8" y2="760" stroke="#70d0e8" stroke-width="2.4"/>
<text x="359.1" y="763.9" font-size="8.65">DMSO ctrl</text>
<line x1="421" y1="760" x2="434.4" y2="760" stroke="#e08820" stroke-width="2.4"/>
<text x="439.0" y="763.9" font-size="8.55">R11-NLS-pep8 short</text>
<line x1="341.6" y1="772.5" x2="355.8" y2="772.5" stroke="#d01030" stroke-width="2.4"/>
<text x="359.3" y="776.2" font-size="8.3">Isotype control</text>
<line x1="421" y1="773.8" x2="434.4" y2="773.8" stroke="#40e040" stroke-width="2.4"/>
<text x="439.0" y="777.0" font-size="8.55">R11-NLS-pep8</text>
</svg></body></html>
